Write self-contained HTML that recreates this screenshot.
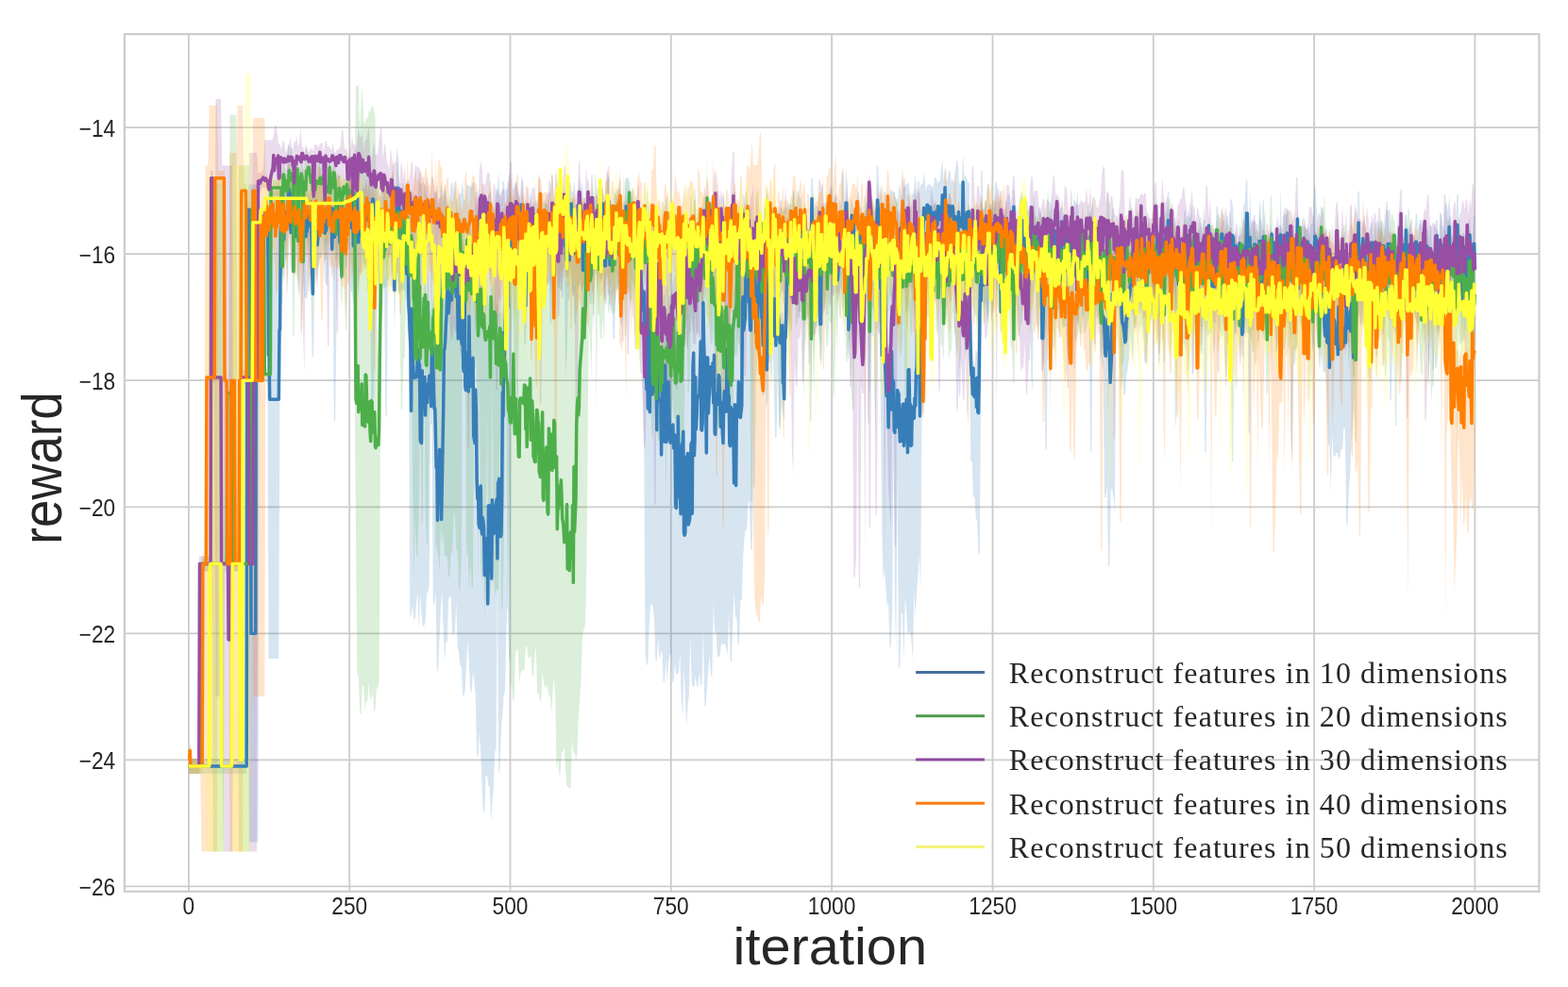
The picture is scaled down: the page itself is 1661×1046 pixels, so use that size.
<!DOCTYPE html>
<html><head><meta charset="utf-8"><title>reward vs iteration</title>
<style>html,body{margin:0;padding:0;background:#fff;overflow:hidden}svg{display:block}</style>
</head><body><svg width="1661" height="1046" viewBox="0 0 1661 1046"><defs><clipPath id="ax"><rect x="131.9" y="36.2" width="1498.5" height="908.6"/></clipPath></defs><rect x="0" y="0" width="1661" height="1046" fill="#fff"/><path d="M199.9 36.2V944.8M370.2 36.2V944.8M540.5 36.2V944.8M710.8 36.2V944.8M881.1 36.2V944.8M1051.5 36.2V944.8M1221.8 36.2V944.8M1392.1 36.2V944.8M1562.4 36.2V944.8M131.9 135.2H1630.4M131.9 269.2H1630.4M131.9 403.2H1630.4M131.9 537.3H1630.4M131.9 671.3H1630.4M131.9 805.3H1630.4M131.9 939.3H1630.4" stroke="#cccccc" stroke-width="1.8" fill="none"/><g clip-path="url(#ax)"><path d="M199.9 804l1.4 0 1.3 0 1.4 0 1.4 0 1.3 0 1.4 0 1.3 0 1.4 0 1.4 0 1.3 0 1.4 0 1.3 0 1.4 0 1.4 0 1.3 0 1.4 0 1.4 0 1.3 0 1.4 0 1.4 0 1.3 0 1.4 0 1.3 0 1.4 0 1.4 0 1.3 0 1.4 0 1.3 0 1.4 0 1.4 0 1.3 0 1.4 0 1.4 0 1.3 0 1.4 0 1.4 0 1.3 0 1.4 0 1.3 0 1.4 0 1.4 0 1.3 0 1.4 0 1.3 0 1.4-589.7 1.4 0 1.3-18.8 1.4 0 1.4 0 1.3 0 1.4 0 1.4 0 1.3 0 1.4 0 1.3 25.5 1.4 0 1.4 0 1.3 0 1.4 0 1.3 0 1.4 0 1.4-18.8 1.3 0 1.4 0 1.4 0 1.3 0 1.4 0 1.4 0 1.3 0 1.4 0 1.3 4.7 1.4-4.1 1.4 .1 1.3-11.8 1.4 0 1.3 14.5 1.4-51.5 1.4 0 1.3 26.3 1.4 18.3 1.4-2 1.3 2 1.4-12.7 1.4 0 1.3 15.6 1.4 2.5 1.3 1.8 1.4-2.8 1.4 0 1.3-13.7 1.4 2.8 1.3 12 1.4 1.6 1.4-4.3 1.3 9.2 1.4 0 1.4-14.3 1.3 0 1.4 2.9 1.4 6.8 1.3-15.1 1.4-19.6 1.3 24.7 1.4 15.2 1.4-18 1.3 7.7 1.4 4.1 1.3-4.7 1.4-30.2 1.4 0 1.3 32.3 1.4-25.5 1.4 34 1.3-21.6 1.4 0 1.4-3.4 1.3 0 1.4 18.2 1.3-2.7 1.4-2.4 1.4 24.1 1.3-18.9 1.4-17.2 1.3-21.9 1.4 5.3 1.4 28.9 1.3-9.4 1.4 0 1.4 5.2 1.3 0 1.4 .7 1.4 17.5 1.3-4.9 1.4-1.4 1.3-13.8 1.4 7 1.4-3.4 1.3-7.4 1.4 15.7 1.3-10.7 1.4 0 1.4 14.4 1.3-24.3 1.4 16.9 1.4 11.6 1.3-18.7 1.4 0 1.4 12.1 1.3 3.1 1.4-6.1 1.3-11.9 1.4 0 1.4 30.6 1.3-18.2 1.4-7.9 1.3 3.4 1.4 1.7 1.4 0 1.3-5.3 1.4 0 1.4 5.9 1.3-27 1.4-15.7 1.4 53.1 1.3 .7 1.4-18.5 1.3 0 1.4 56.9 1.4 10.1 1.3-56.3 1.4-11.2 1.3 18.3 1.4-11.5 1.4 3.1 1.3 10.1 1.4-1 1.4 0 1.3-4 1.4-18.3 1.4 4.5 1.3-1.8 1.4 21.3 1.3-18.3 1.4-3 1.4 9.4 1.3 10.6 1.4-.3 1.4 9 1.3-.5 1.4-11.1 1.3-5.5 1.4-2.2 1.4 0 1.3 14.1 1.4-4.4 1.4-18.4 1.3 5.1 1.4 7.5 1.3-10.6 1.4 8.5 1.4 6.6 1.3 4.9 1.4-8.7 1.3-13.9 1.4 0 1.4 10.2 1.3-14 1.4 18.6 1.4 23 1.3-25.9 1.4 0 1.4-1.8 1.3-13.2 1.4 21.7 1.3 0 1.4-15.9 1.4 0 1.3 1 1.4 0 1.3 1.6 1.4-5.4 1.4 0 1.3 13.2 1.4 11.6 1.4-18.8 1.3 10.3 1.4 0 1.4 22.5 1.3-27.2 1.4 0 1.3 14.1 1.4-4.9 1.4-7 1.3-2.1 1.4-3.1 1.3 14.8 1.4 5.2 1.4-3.6 1.3-19.9 1.4 3.3 1.4-20.1 1.3 24.6 1.4 7.9 1.4-21.8 1.3 0 1.4 9.5 1.3-.4 1.4-3.6 1.4-13.7 1.3 1 1.4 56.9 1.3-5.6 1.4-39 1.4-6.2 1.3 1.7 1.4 11 1.4 6.6 1.3-7.5 1.4-20.2 1.4 28.9 1.3 5.4 1.4-4 1.3 0 1.4 10 1.4-8.9 1.3-14.9 1.4 26.5 1.4-10.4 1.3 0 1.4-3.9 1.3 4.4 1.4-13.1 1.4 0 1.3 6.7 1.4 8 1.4-5.7 1.3 .8 1.4 4.2 1.3 0 1.4-25.3 1.4 0 1.3 22.8 1.4 25.1 1.3-15.6 1.4-39.8 1.4 0 1.3 29.9 1.4 17.1 1.4-37.6 1.3 10 1.4 7.4 1.4-16 1.3 37.4 1.4-10.5 1.3 29.8 1.4-57.9 1.4 0 1.3 10.4 1.4-2 1.3-9.9 1.4 20.8 1.4-12.1 1.3 0 1.4-11.1 1.4 11.7 1.3-9.8 1.4 18.1 1.4 0 1.3 42 1.4-21.7 1.3-3 1.4 6 1.4-22.3 1.3 0 1.4 3.7 1.3 8.7 1.4 3.2 1.4 0 1.3-11.2 1.4 8.7 1.4-21.4 1.3-2.6 1.4 11.5 1.4 4.2 1.3-17.4 1.4-10.8 1.3 0 1.4 68.3 1.4-31.4 1.3 0 1.4-20.3 1.3 1.6 1.4 6.9 1.4-16.3 1.3 19.3 1.4 10.1 1.4 1 1.3-14.3 1.4 3.2 1.4-26.7 1.3-.2 1.4 0 1.3 31.4 1.4-16.5 1.4-3.6 1.3 11.3 1.4 4.5 1.4-11 1.3 15.5 1.4 0 1.3-7.6 1.4 21.1 1.4 0 1.3-11.7 1.4 22.2 1.4 0 1.3 3.6 1.4-6.7 1.3-6.6 1.4 4.4 1.4 3.8 1.3-20.6 1.4 0 1.3 19.5 1.4-1.3 1.4 3.3 1.3 1.2 1.4-30.9 1.4 0 1.3 9.1 1.4-13.1 1.4 0 1.3 25.8 1.4 0 1.3-4.6 1.4 0 1.4-5.1 1.3-8.7 1.4 30.3 1.3 0 1.4-3.1 1.4 .4 1.3-19.6 1.4 0 1.4 24.3 1.3 4.9 1.4 0 1.4-12 1.3-5.3 1.4 .3 1.3 7.5 1.4 0 1.4-33.2 1.3 0 1.4 33.2 1.3-12.3 1.4-7.4 1.4 .4 1.3 0 1.4 14.3 1.4 0 1.3 8.7 1.4-.5 1.4 16.1 1.3-38.9 1.4 0 1.3 21.3 1.4-13.5 1.4 0 1.3 6.9 1.4-13.8 1.3 10.3 1.4 4.3 1.4-10.6 1.3-6 1.4-24.6 1.4 37.8 1.3-12.5 1.4-3.3 1.4 0 1.3 15.2 1.4 6 1.3 0 1.4-40.2 1.4 0 1.3 35.4 1.4 0 1.3-1.4 1.4 0 1.4-.3 1.3-13.1 1.4-4.5 1.4 21.9 1.3-16.1 1.4 0 1.4-5.9 1.3 2.3 1.4 25.9 1.3-17.2 1.4 8.9 1.4 8.1 1.3 55.3 1.4-42.7 1.3 0 1.4 21 1.4 24.9 1.3 4.3 1.4-52.1 1.4 77.3 1.3-50.9 1.4-17.6 1.4 14 1.3 18.4 1.4-19.8 1.3 0 1.4 22.5 1.4-4.8 1.3 0 1.4 29.3 1.3 8.1 1.4-2.9 1.4 0 1.3 15.3 1.4-32.9 1.4-70 1.3-22.1 1.4-6.8 1.4 1.9 1.3 0 1.4-18.3 1.3 19.3 1.4 7.2 1.4-21.9 1.3 0 1.4 7.5 1.3 0 1.4 14.6 1.4 4.8 1.3-17.9 1.4 26.4 1.4 1.3 1.3 4.5 1.4-7.1 1.4-48.5 1.3 0 1.4 25.6 1.3 .9 1.4 4.1 1.4 .6 1.3 0 1.4 28.9 1.3-31.6 1.4 0 1.4-2.3 1.3 0 1.4 10.6 1.4 7.7 1.3-14.2 1.4-24.9 1.4 28.5 1.3 0 1.4-8.8 1.3-7.1 1.4 0 1.4 20.7 1.3-16.1 1.4 7 1.3-35.1 1.4 0 1.4 36.7 1.3-41 1.4 16.3 1.4 59.2 1.3-29.9 1.4-11.8 1.4 0 1.3 13.3 1.4-2.2 1.3-2.6 1.4-17.5 1.4 0 1.3 16.1 1.4 0 1.3 14.6 1.4 3.7 1.4-18.4 1.3-5.1 1.4 0 1.4 19 1.3 8.4 1.4 25.8 1.4-39.9 1.3-5.9 1.4-1.4 1.3-44.7 1.4 0 1.4 35.3 1.3-15.1 1.4 11.1 1.3 26.3 1.4-30 1.4 0 1.3 27.9 1.4 0 1.4-16 1.3-16.6 1.4 5.1 1.4-.2 1.3 0 1.4 9.3 1.3 3 1.4-13.8 1.4-6.6 1.3 13.9 1.4-23.3 1.3 12.6 1.4-1.1 1.4-1.9 1.3-1.1 1.4 0 1.4 26.5 1.3-15.1 1.4 0 1.4-7.1 1.3-13.8 1.4 17.2 1.3 1.1 1.4 2 1.4-9.5 1.3 0 1.4-3.2 1.3-11 1.4 20.2 1.4-4.7 1.3-1.4 1.4 .1 1.4-.1 1.3 3.3 1.4-1 1.4-10 1.3 0 1.4 6.7 1.3-2.8 1.4 1.1 1.4-15.1 1.3-8.9 1.4 24 1.3-17.5 1.4 18.2 1.4-3.5 1.3-9 1.4 0 1.4 13.4 1.3-5.3 1.4 5.3 1.4-13.9 1.3-9.5 1.4-.7 1.3 23.8 1.4 1 1.4 0 1.3-31.7 1.4 23.3 1.3 0 1.4 2 1.4 5.4 1.3 0 1.4 122.1 1.4 37.3 1.3 26.3 1.4 7.8 1.4-17.9 1.3 3.8 1.4 8.1 1.3-107.8 1.4-92.9 1.4 0 1.3 54.6 1.4-7.7 1.3-6.7 1.4-25.3 1.4 0 1.3 20.2 1.4 6.2 1.4-11.3 1.3 12 1.4-29.9 1.4 0 1.3 7.7 1.4 0 1.3 32.5 1.4-11 1.4 0 1.3 13.5 1.4-22.3 1.3 0 1.4-7.2 1.4 0 1.3 15.2 1.4 15.1 1.4-35.7 1.3 0 1.4 32.9 1.4 0 1.3-3.7 1.4-17.1 1.3-4.5 1.4-6.7 1.4 17.7 1.3 6.2 1.4-13.2 1.3 0 1.4 12.1 1.4 14.2 1.3-.3 1.4 7.8 1.4-40.8 1.3 19.9 1.4 22.2 1.4-10.1 1.3-17.7 1.4 0 1.3 18.7 1.4 67.9 1.4-85.8 1.3 13.2 1.4 .1 1.3 16.1 1.4-8.8 1.4-16.9 1.3-29.9 1.4 39.1 1.4 0 1.3 1.6 1.4-7.1 1.4-15.6 1.3 13.2 1.4-5.3 1.3 0 1.4 18.5 1.4 19.1 1.3-26.3 1.4 0 1.4 10.1 1.3 11.6 1.4-16.6 1.3-3.8 1.4-21.3 1.4 0 1.3 4.9 1.4-15.9 1.4 32.4 1.3 9.5 1.4 0 1.3 9.5 1.4 .4 1.4-22.5 1.3 30.7 1.4-44 1.3 9.5 1.4 0 1.4-7.6 1.3-9.8 1.4 41.3 1.4-8.7 1.3 25.4 1.4-18.2 1.4 24.7 1.3 12.1 1.4 24.6 1.3 8.2 1.4 0 1.4 18.6 1.3-32.6 1.4 0 1.3 48.4 1.4 2.5 1.4-60.2 1.3-11.5 1.4 0 1.4-32.9 1.3 0 1.4 3.4 1.4-1.9 1.3 33.1 1.4 28.7 1.3-.7 1.4 21.7 1.4-14.3 1.3-18.7 1.4-3.3 1.3-34.3 1.4 0 1.4-17.5 1.3-2.9 1.4-7.4 1.4-11.4 1.3 7.8 1.4 10.7 1.4 8.7 1.3 0 1.4-2.3 1.3-11.8 1.4 6 1.4 16.9 1.3-30.1 1.4 0 1.3 10.2 1.4 23.1 1.4-35.5 1.3 0 1.4 1.7 1.4 0 1.3 18.9 1.4 4.2 1.4 0 1.3 .8 1.4-31.2 1.3 19.5 1.4 6.1 1.4-45 1.3 0 1.4 42.6 1.4 7 1.3-26 1.4-7.3 1.3 26.1 1.4 18.7 1.4-18.3 1.3 37.9 1.4-22 1.4 5.6 1.3-7.2 1.4-37.5 1.3 0 1.4 29.3 1.4-31.2 1.3 9.1 1.4 0 1.3-13.7 1.4 29.2 1.4 0 1.3 9 1.4 17 1.4-27.3 1.3 0 1.4-9.8 1.4 10.3 1.3 2.8 1.4 0 1.3 17.5 1.4 17 1.4-53 1.3 52.3 1.4 8.7 1.3-54.5 1.4 5.4 1.4 28.2 1.3-50.2 1.4 0 1.4 23.8 1.3 0 1.4-21.6 1.4 5.5 1.3 0 1.4 18.7 1.3-17.1 1.4 0 1.4 28.2 1.3-45.4 1.4 0 1.4 11 1.3 29.5 1.4-8.3 1.3 13.7 1.4 2.7 1.4-20.7 1.3 3.1 1.4 75.4 1.4-100.3 1.3 0 1.4-26.6 1.3 0 1.4 61.2 1.4-51.1 1.3 31 1.4 7.7 1.4-11.5 1.3 0 1.4 23.3 1.3 1.8 1.4-24.6 1.4-17.7 1.3 45.1 1.4-43.4 1.4 0 1.3 51 1.4-11.7 1.3-3.5 1.4 7.4 1.4-5.1 1.3-14.1 1.4 30.9 1.4-21.4 1.3 31.9 1.4-34.6 1.3-14.6 1.4 19 1.4-47.8 1.3 61 1.4-33 1.4 0 1.3-1.4 1.4 0 1.3 39.1 1.4-11.4 1.4 2.4 1.3-17.5 1.4 0 1.3 23.6 1.4-6 1.4-40.1 1.3 30.9 1.4 2.5 1.4 .3 1.3-12.2 1.4 2.2 1.4-1 1.3 5.3 1.4-6.7 1.3 11.4 1.4-9.7 1.4-2.7 1.3 0 1.4-39.8 1.3 0 1.4 24.8 1.4 18.7 1.3 13.4 1.4 32 1.4-20.7 1.3 32 1.4 5.8 1.4-2 1.3 .9 1.4-21.5 1.3 0 1.4 19.8 1.4 .5 1.3 23.4 1.4-10.7 1.4 30.4 1.3-17.5 1.4-24.8 1.3 28.6 1.4-24.6 1.4-4.6 1.3 15.5 1.4-3.8 1.4-12.8 1.3 22.4 1.4 1 1.3-3 1.4-19.1 1.4 16.7 1.3-10.9 1.4-18.6 1.4-22.4 1.3-63.2 1.4 0 1.3 43.8 1.4 12.8 1.4-26.6 1.3 2.7 1.4 7 1.4 17.4 1.3 8.2 1.4-17.9 1.3-14.5 1.4 0 1.4 25.7 1.3 0 1.4-24.2 1.4-3 1.3 0 1.4 19.3 1.3-19.4 1.4 0 1.4 4.6 1.3 4.9 1.4-21.4 1.4 1.1 1.3 0 1.4-1.1 1.3 40.8 1.4-14.2 1.4-1.5 1.3 6 1.4 1 1.3-16 1.4 0 1.4 7.5 1.3 .4 1.4-5.2 1.4-.1 1.3-13.1 1.4 0 1.4 21.7 1.3-5.2 1.4-11 1.3 12.7 1.4 15 1.4-9.1 1.3-25.9 1.4 1.3 1.3 17.9 1.4-12.4 1.4 0 1.3 .3 1.4 17.6 1.4 20.2 1.3-25.4 1.4-4.9 1.4 12.6 1.3-13.5 1.4 0 1.3 32.9 1.4-34.8 1.4 0 1.3-4.8 1.4 0 1.4 23.9 1.3-30.9 1.4 0 1.3 14.4 1.4 0 1.4-26 1.3 0 1.4 9.2 1.4-15.5 1.3 18.6 1.4 23.8 1.3 3.1 1.4 2.5 1.4-10.2 1.3-39.6 1.4 0 1.4 65.2 1.3-16.6 1.4-8.5 1.3 0 1.4 2 1.4 6.5 1.3-19 1.4 0 1.4-6.5 1.3 21.1 1.4 2.3 1.3-24.7 1.4 0 0 115.5-1.4 54.9-1.3-33.9-1.4-9.1-1.3-39.3-1.4 4.5-1.4 54.7-1.3 9.1-1.4-54.7-1.4-4.5-1.3 35.2-1.4 4.3-1.3 0-1.4-19.4-1.4-13-1.3 0-1.4-1.4-1.4 13.2-1.3 0-1.4-37-1.3 40.8-1.4 0-1.4-28.8-1.3-15.3-1.4-7-1.4 6-1.3 0-1.4 3.8-1.3 36.4-1.4 35.8-1.4 11.3-1.3 0-1.4-84.5-1.4 23-1.3 44-1.4-17.7-1.3 30.9-1.4-59.1-1.4-5.4-1.3 28.8-1.4-4.1-1.4 15.2-1.3-57.1-1.4 23.9-1.4 26.6-1.3-30.8-1.4-7.5-1.3 16-1.4 .3-1.4-24-1.3-6-1.4 20.4-1.3 50-1.4 0-1.4-69.2-1.3 24.6-1.4 7.3-1.4-9.1-1.3 0-1.4-17.7-1.4 39.3-1.3 0-1.4-7.6-1.3 6.5-1.4 0-1.4 77-1.3 0-1.4-91.1-1.3-14.5-1.4 15.4-1.4 0-1.3 20.1-1.4 0-1.4-25.3-1.3 0-1.4 30.5-1.3 18.5-1.4 0-1.4-46.9-1.3 14.8-1.4 0-1.4-12.6-1.3 5.2-1.4-4.5-1.3 0-1.4 27.2-1.4-54-1.3-6-1.4 41.5-1.4 4.6-1.3-15.6-1.4 5.1-1.3 0-1.4 21.2-1.4 67.1-1.3 20-1.4 25.5-1.4 31.3-1.3 16.8-1.4 37.7-1.3 0-1.4-101.5-1.4-1.3-1.3 22.7-1.4 0-1.4 9.7-1.3 0-1.4-5.9-1.3 0-1.4 4.2-1.4 0-1.3-25.9-1.4 66.8-1.4-53.5-1.3 0-1.4-40.4-1.3-36.4-1.4-.1-1.4 0-1.3-20.2-1.4 19.9-1.4-71.9-1.3-16.9-1.4 0-1.4 13.9-1.3 43.5-1.4 8.4-1.3-22.7-1.4-9.4-1.4 33.1-1.3 0-1.4-49.8-1.3 7.7-1.4 0-1.4 20.1-1.3 0-1.4-11.9-1.4-10.6-1.3 0-1.4 41.4-1.4 16.8-1.3 0-1.4 101-1.3-18.5-1.4-117-1.4-9.4-1.3-22.2-1.4 10.5-1.3 5-1.4-13-1.4 33.6-1.3-14.6-1.4 8.6-1.4-.4-1.3 23.9-1.4 0-1.3-32.8-1.4-2.9-1.4 0-1.3-30.2-1.4 11.6-1.4 4.7-1.3 6.7-1.4 30.9-1.3-42.6-1.4 43.9-1.4-20.4-1.3-18.8-1.4-2.9-1.4 20.6-1.3-24.1-1.4-17.4-1.3 73.1-1.4 0-1.4-19.5-1.3 105.4-1.4 0-1.4-160.7-1.3 42.9-1.4-26.1-1.3 63.3-1.4 0-1.4-21.1-1.3-8.9-1.4-8.4-1.4-13.2-1.3 26.4-1.4 0-1.3-31.8-1.4-24.7-1.4 1.5-1.3 35-1.4-34.1-1.4-3.2-1.3 21.1-1.4 0-1.3-3.5-1.4 4.1-1.4 12.4-1.3-1.5-1.4-6-1.4-1.7-1.3 42-1.4 14.4-1.4-33.9-1.3 2.1-1.4 0-1.3-9.9-1.4-5-1.4 148.7-1.3 0-1.4-142.2-1.3 37.6-1.4 0-1.4-4.6-1.3-42.5-1.4 51.9-1.4-5.6-1.3-37.1-1.4-8.4-1.4-5.7-1.3 0-1.4 27.5-1.3 0-1.4-9.4-1.4 30.6-1.3-7.1-1.4 0-1.3-36.4-1.4-8.4-1.4 5.1-1.3 13.3-1.4 98.1-1.4 19.6-1.3-156.9-1.4 36.9-1.3-19.8-1.4-8.3-1.4 9.3-1.3 0-1.4-11.8-1.4 31.7-1.3 0-1.4-17.8-1.3 14.3-1.4 51.8-1.4 0-1.3-74.8-1.4 8.9-1.4 19.5-1.3-18.8-1.4 15.5-1.4 6.5-1.3 3.2-1.4 5.4-1.3 35.3-1.4 0-1.4-3-1.3-44.4-1.4-16.4-1.3 10-1.4 0-1.4-24-1.3 40.6-1.4 0-1.4-.1-1.3 40.6-1.4-22-1.4-11.6-1.3 24.8-1.4 11.9-1.3 5.5-1.4 21.7-1.4 0-1.3-21.1-1.4 14.4-1.3-7.9-1.4-78-1.4 1.6-1.3 20.4-1.4 195.6-1.4-16.9-1.3-8.7-1.4 0-1.4 82.2-1.3 0-1.4-86.6-1.3 12.9-1.4 0-1.4-134-1.3-6.3-1.4-18-1.3-40.5-1.4-16.5-1.4-1.3-1.3 54.4-1.4 0-1.4-54.1-1.3 167.6-1.4 0-1.4-150.1-1.3 0-1.4-11.7-1.3-5.4-1.4 24.7-1.4 0-1.3-13.5-1.4-13.9-1.3 35.6-1.4 0-1.4-35.7-1.3-16-1.4-12.5-1.4 37.3-1.3 18.7-1.4 13.3-1.3 10-1.4 14.6-1.4-27.6-1.3 .6-1.4 0-1.4-6.7-1.3-20.9-1.4 6.3-1.3 2.9-1.4 0-1.4 25.9-1.3 15.5-1.4 0-1.4-12.5-1.3-38.1-1.4 33.4-1.4 0-1.3 123.9-1.4 0-1.3-98.6-1.4 15.1-1.4 0-1.3-55.7-1.4 17.8-1.3-10.4-1.4 0-1.4-46.1-1.3 15.5-1.4 101.3-1.4-15.8-1.3-92.5-1.4 15.9-1.4-22.9-1.3 37.8-1.4-16-1.3 0-1.4-15.7-1.4 20.2-1.3-28.6-1.4-13-1.3 22.3-1.4 29.3-1.4 0-1.3-10-1.4 25-1.4-62-1.3 1.4-1.4 0-1.4-6.6-1.3 15.7-1.4 12.4-1.3-25.1-1.4 65.1-1.4 0-1.3-75.1-1.4 32.8-1.3-4.5-1.4-12.4-1.4 .3-1.3-6.6-1.4 34.6-1.4-19.2-1.3 29.6-1.4 6.6-1.4-18.8-1.3 3.5-1.4 4.3-1.3-27-1.4 106.6-1.4 180.2-1.3 1.4-1.4-36.6-1.3-1.9-1.4-23.1-1.4 0-1.3-37.8-1.4 0-1.4-132.7-1.3-90-1.4 60.2-1.4-16.8-1.3-18.8-1.4-8.2-1.3 21.2-1.4 115.3-1.4 0-1.3-118.2-1.4 1.4-1.3-14.2-1.4-35.3-1.4-.8-1.3 18.3-1.4 0-1.4 39.6-1.3-52.9-1.4 2.6-1.4 10.2-1.3 35.6-1.4-5-1.3-24.1-1.4 6-1.4 10.6-1.3-5.5-1.4 0-1.3 7.2-1.4 4.9-1.4-36-1.3 0-1.4 14.8-1.4 15.7-1.3 3.9-1.4 6.3-1.4-39.2-1.3 173.2-1.4 0-1.3 186.7-1.4-37.2-1.4 24-1.3 14.5-1.4 28.1-1.3-30.6-1.4 76.2-1.4-18.6-1.3-12.2-1.4 1-1.4 .4-1.3-21.6-1.4-15.8-1.4 68.5-1.3-52.3-1.4 1.2-1.3 56.6-1.4 0-1.4-203.3-1.3 191.2-1.4-62.2-1.3-158-1.4 170.7-1.4 40.5-1.3 0-1.4-45.5-1.4 0-1.3-15.6-1.4-22.6-1.4 12.9-1.3-51.6-1.4-133.1-1.3-88.8-1.4-22-1.4-52.7-1.3 29.5-1.4 7.8-1.3 51.8-1.4 0-1.4-44.2-1.3 136.4-1.4 0-1.4-149.8-1.3 26.5-1.4-9-1.4 0-1.3-8.9-1.4-1.8-1.3 0-1.4 23.2-1.4-29.2-1.3 22.5-1.4-14.4-1.3-10.4-1.4 17.5-1.4 45.5-1.3 23.5-1.4-16.5-1.4-85.2-1.3 17.1-1.4-21.4-1.4-.3-1.3 59.7-1.4 0-1.3-19.5-1.4 55.8-1.4-67.2-1.3-28.1-1.4 21.4-1.3 41.3-1.4-49.8-1.4 2.5-1.3 39.7-1.4 0-1.4-20.7-1.3 15.8-1.4-22.5-1.4 74.7-1.3 0-1.4-26.6-1.3-46.3-1.4 36.6-1.4 0-1.3 30.4-1.4-63-1.3 134.8-1.4 0-1.4-109.4-1.3 0-1.4-18.1-1.4-39.9-1.3 28-1.4 5.6-1.4-21.1-1.3 45.7-1.4 0-1.3-35.4-1.4-25.6-1.4 11.3-1.3 29-1.4 0-1.3 2.1-1.4 0-1.4-18.5-1.3 71.3-1.4 21.3-1.4 53.7-1.3-6.9-1.4-10.7-1.4 24.3-1.3 0-1.4-64-1.3 74.9-1.4 0-1.4-54.2-1.3-38.1-1.4 42-1.3-30.7-1.4 0-1.4 42.7-1.3 7.9-1.4-31.9-1.4 17.6-1.3 0-1.4-53.5-1.4-3.7-1.3 4.8-1.4 17.1-1.3 17.4-1.4 114.5-1.4 0-1.3 67.2-1.4 0-1.3-51.1-1.4 .9-1.4 28.2-1.3 0-1.4 10.1-1.4 20.8-1.3 43.8-1.4 0-1.4 46.5-1.3 0-1.4-27.8-1.3 0-1.4-27.8-1.4 35.9-1.3 38.8-1.4 0-1.3-53.2-1.4 46.5-1.4-7.5-1.3-4.2-1.4 0-1.4-.2-1.3 0-1.4 12.3-1.4 1-1.3 0-1.4-27.7-1.3 4.2-1.4-35.2-1.4 79.3-1.3 0-1.4-21.4-1.3 14.9-1.4 17.6-1.4 20.6-1.3 0-1.4-83.1-1.4 60.7-1.3 0-1.4-13.6-1.4 15.3-1.3 0-1.4-11.1-1.3 11.4-1.4 0-1.4-5.3-1.3-48.1-1.4 61-1.3 12.1-1.4 22.1-1.4-29.5-1.3-34.7-1.4 55.7-1.4-18.6-1.3-51.3-1.4 22.2-1.4 0-1.3 1.9-1.4-12.4-1.3 19.6-1.4 0-1.4-29.6-1.3 0-1.4 9.9-1.3 19.6-1.4-23.1-1.4 23.4-1.3 0-1.4-34.4-1.4 4.3-1.3 6.8-1.4-23.9-1.4 24.8-1.3 0-1.4-41.7-1.3-15.1-1.4-3.5-1.4 1-1.3 21.2-1.4 42.3-1.3 0-1.4-9.9-1.4-219.4-1.3-70.6-1.4-57-1.4-39.7-1.3-11-1.4 17-1.3 0-1.4-17.8-1.4 29.6-1.3-19.8-1.4 12.3-1.4 1.9-1.3-9.8-1.4 0-1.3-22-1.4 20.9-1.4 0-1.3 35.1-1.4 0-1.4-22-1.3 0-1.4-37.2-1.4 30.8-1.3 43.2-1.4 0-1.3-48.7-1.4 12.8-1.4-.3-1.3-37.5-1.4 37.6-1.3 0-1.4-23.4-1.4-25.5-1.3 21.6-1.4-.1-1.4 38.8-1.3 0-1.4-48.4-1.4 4.9-1.3 64-1.4-51.4-1.3 18.4-1.4 0-1.4-9.7-1.3-21.9-1.4 28.1-1.3 0-1.4 41.2-1.4 0-1.3-65.8-1.4 8.5-1.4 0-1.3-1.1-1.4 41.6-1.4 0-1.3-35-1.4 0-1.3-30.1-1.4 40.3-1.4 0-1.3 58.2-1.4 21.3-1.3-114.8-1.4 3.1-1.4 22.4-1.3 0-1.4-4.1-1.4 0-1.3-24.5-1.4 44.3-1.4 16.6-1.3-26.8-1.4 28.9-1.3 0-1.4-78.8-1.4 18.3-1.3 .3-1.4 34.9-1.3-34.8-1.4 11.6-1.4 8-1.3 0-1.4-.8-1.4-18.6-1.3 5-1.4-11.6-1.3 12.6-1.4 5.4-1.4 2-1.3 1.9-1.4 5-1.4 0-1.3 62.5-1.4 0-1.3-60.7-1.4 0-1.4-10.2-1.3 24.8-1.4 102.6-1.4 0-1.3-49.4-1.4 4.3-1.4-70.8-1.3 50.1-1.4 344.5-1.3 0-1.4-61.1-1.4 24.7-1.3 67.1-1.4 5.7-1.3 20-1.4 15-1.4 40.7-1.3 9.1-1.4-194.9-1.4 168.8-1.3 0-1.4 38.8-1.4 17.4-1.3 18.3-1.4-37.3-1.3 0-1.4-10.8-1.4 0-1.3 38.5-1.4 0-1.3-25.2-1.4-38-1.4-21.2-1.3 25-1.4 0-1.4-63.8-1.3-16.1-1.4-9.4-1.4 21.5-1.3 0-1.4-27.6-1.3-27.5-1.4 22.3-1.4 30.1-1.3 6.4-1.4 0-1.3-30.3-1.4-1.6-1.4-15.4-1.3-2.4-1.4-49.1-1.4 31.8-1.3 0-1.4 2.4-1.4-40.3-1.3 0-1.4 1.1-1.3 47.2-1.4 0-1.4 20-1.3-30.4-1.4-44.6-1.3 16.2-1.4 34-1.4 35-1.3 0-1.4-83.1-1.4 12.4-1.3 0-1.4-190.1-1.3 0-1.4 169.2-1.4 8.9-1.3 .1-1.4 30.4-1.4 5.1-1.3 0-1.4-11.9-1.3-22.2-1.4 36.7-1.4-38.2-1.3 11-1.4 17.2-1.4 0-1.3-14.9-1.4 11.1-1.4-.3-1.3-301.3-1.4-44.5-1.3 14.6-1.4-11.9-1.4-2.7-1.3 .9-1.4 0-1.3 3.5-1.4 0-1.4-23.3-1.3 13.2-1.4 50.1-1.4-71.3-1.3 14.2-1.4-20.8-1.4-4.5-1.3 10.2-1.4 162.8-1.3 0-1.4-141.2-1.4 24.8-1.3 7.9-1.4 77.8-1.3-112.9-1.4-11.4-1.4 29.9-1.3-34.2-1.4 136.3-1.4 8.9-1.3 0-1.4-131.5-1.4 12-1.3 0-1.4-28.5-1.3 0-1.4 2.4-1.4-15.5-1.3 21.8-1.4 0-1.3 26.5-1.4-15.7-1.4-20.3-1.3-18.5-1.4 64-1.4-14.2-1.3 0-1.4-47.9-1.4 4.7-1.3 16.2-1.4 0-1.3 13.9-1.4-6.4-1.4 6.3-1.3 0-1.4-17.8-1.3-18.4-1.4 66.9-1.4 118.6-1.3 0-1.4-157.7-1.4 6.3-1.3-27.5-1.4-12.8-1.4 47.7-1.3 0-1.4-2.8-1.3-29-1.4-5.7-1.4 8.8-1.3 0-1.4 8.8-1.3 9.4-1.4 13.7-1.4-30.4-1.3 103.1-1.4 0-1.4-70.8-1.3-33.5-1.4 33.8-1.4 10.2-1.3-2.1-1.4 0-1.3-18.2-1.4 69.4-1.4-83.5-1.3 35.6-1.4-20.2-1.3-31.3-1.4 22.3-1.4 2.7-1.3-12.2-1.4 10.1-1.4-6-1.3-47.1-1.4 77.8-1.4-40.2-1.3 6.1-1.4 20.8-1.3-10.8-1.4 3.2-1.4 63.7-1.3 340.4-1.4 0-1.3 0-1.4 0-1.4 0-1.3 0-1.4 0-1.4 0-1.3 0-1.4-461-1.4 0-1.3 0-1.4 0-1.3 0-1.4 0-1.4 0-1.3 655.3-1.4 0-1.3 0-1.4 0-1.4 0-1.3 0-1.4 0-1.4 0-1.3-662-1.4 589.6-1.4 0-1.3 0-1.4 0-1.3 0-1.4 0-1.4 0-1.3 0-1.4 0-1.3 0-1.4 0-1.4 0-1.3 0-1.4 0-1.4 0-1.3 0-1.4 0-1.4 0-1.3 0-1.4 0-1.3 0-1.4 0-1.4 0-1.3 0-1.4 0-1.3 0-1.4 0-1.4 0-1.3 0-1.4 0-1.4 0-1.3 0-1.4 0-1.4 0-1.3 0-1.4 0-1.3 0-1.4 0-1.4 0-1.3 0-1.4 0-1.3 0-1.4 0-1.4 0-1.3 0-1.4 0z" fill="#377eb8" fill-opacity="0.2"/><path d="M199.9 804l1.4 0 1.3 0 1.4 0 1.4 0 1.3 0 1.4 0 1.3 0 1.4 0 1.4 0 1.3-214.5 1.4 0 1.3 0 1.4 0 1.4 0 1.3 0 1.4 0 1.4 0 1.3 0 1.4-394 1.4 0 1.3 0 1.4 0 1.3 0 1.4 0 1.4 0 1.3 0 1.4 0 1.3 394 1.4 0 1.4-180.9 1.3 0 1.4-286.8 1.4 0 1.3 0 1.4 0 1.4 0 1.3 0 1.4 467.7 1.3-414.1 1.4 0 1.4 0 1.3 0 1.4 0 1.3 0 1.4 0 1.4 0 1.3 0 1.4 199.7 1.4-160.8 1.3 0 1.4 13.4 1.4 0 1.3 0 1.4 0 1.3 0 1.4 0 1.4 0 1.3 0 1.4 0 1.3 160.8 1.4 0 1.4 0 1.3 0 1.4-197.7 1.4 0 1.3 0 1.4 0 1.4 0 1.3 0 1.4-16.5 1.3 1.2 1.4 6.1 1.4-7.7 1.3-7.1 1.4 13.9 1.3 4 1.4 2.8 1.4-16.8 1.3-14.6 1.4 0 1.4 18.1 1.3 .2 1.4-7.1 1.4-.2 1.3 0 1.4 12.9 1.3-2.8 1.4-8.3 1.4 9.8 1.3 .5 1.4-21.5 1.3 0 1.4 7.8 1.4 5.3 1.3 7.5 1.4 0 1.4 4.9 1.3 3 1.4-3.6 1.4-18 1.3 0 1.4 11.1 1.3 3.3 1.4-11.2 1.4 0 1.3 15.7 1.4 3.8 1.3 5.3 1.4-20 1.4 0 1.3 8.3 1.4-4.3 1.4-8.7 1.3 2.1 1.4 23.1 1.4-4.8 1.3-2.4 1.4 0 1.3 6.8 1.4-4.1 1.4 0 1.3 2.5 1.4 .1 1.3-.9 1.4 0 1.4 6.3 1.3 0 1.4-13.7 1.4-6.9 1.3-83.4 1.4-2.4 1.4 0 1.3 48 1.4-29.3 1.3-17.8 1.4 36.1 1.4 4.7 1.3-6.4 1.4 0 1.3-7.5 1.4 0 1.4-4.1 1.3-2 1.4 3.8 1.4 9.5 1.3 109.2 1.4 193.1 1.4-72.6 1.3-100.3 1.4-16 1.3 0 1.4-43.4 1.4 0 1.3 9.9 1.4 11.4 1.3 13.3 1.4-1 1.4-45.8 1.3 0 1.4 19.5 1.4 3.9 1.3-.6 1.4 10.4 1.4-16.1 1.3 0 1.4 2.7 1.3 13.1 1.4 31.2 1.4-34.9 1.3-1.9 1.4 48.9 1.3-8.3 1.4-23.7 1.4 0 1.3 32 1.4 34.5 1.4-19.1 1.3-51.9 1.4 0 1.4 62.4 1.3 36.7 1.4-3.1 1.3-15.1 1.4-32.5 1.4 76.5 1.3-59 1.4 45.2 1.4-5.5 1.3 0 1.4-10 1.3-10.7 1.4 0 1.4 3.5 1.3 0 1.4-15.4 1.4 3.8 1.3-10.4 1.4-48.9 1.3-43.7 1.4 21.6 1.4 45 1.3-43.2 1.4 0 1.3 10.9 1.4 0 1.4 29.2 1.3 0 1.4-49.5 1.4 0 1.3 19.1 1.4-6.9 1.4 12.6 1.3-2.1 1.4 10.6 1.3 35.8 1.4-42.4 1.4 0 1.3-15.3 1.4 0 1.3 34.6 1.4-18.1 1.4 12.4 1.3 1.3 1.4 41.6 1.4 4.2 1.3 1.9 1.4-12.7 1.4 0 1.3 22 1.4-5.5 1.3 0 1.4 7.5 1.4 7.6 1.3 14.7 1.4-26.9 1.3 .3 1.4-9.1 1.4 0 1.3 25.8 1.4 0 1.4 7.9 1.3 0 1.4 .8 1.4-2.7 1.3 13.6 1.4 9.3 1.3 19.6 1.4 6.4 1.4 40.8 1.3-213.8 1.4 0 1.3 20.5 1.4 0 1.4 17 1.3-1.4 1.4 10.5 1.4-23.8 1.3-6.3 1.4-6.6 1.4 22.4 1.3 4.8 1.4-3.7 1.3 .5 1.4-17.5 1.4 0 1.3-2 1.4-2 1.4 26.7 1.3-23.3 1.4 20.5 1.3-3.1 1.4-3.4 1.4-4.3 1.3 0 1.4 12.6 1.4-11.4 1.3-16.1 1.4-1.5 1.3 16.4 1.4 8.4 1.4-7.1 1.3 1.2 1.4-10.1 1.3 0 1.4-8.5 1.4-9.2 1.3 18.1 1.4-10.9 1.4 4.2 1.3 4.1 1.4-6.8 1.4 16.8 1.3 10.7 1.4-14.7 1.3 4.5 1.4 2.7 1.4 7.1 1.3-27.4 1.4 0 1.3 25.2 1.4-24.4 1.4 9.7 1.3-11.3 1.4 0 1.4 24.4 1.3 0 1.4 1.7 1.4-16.9 1.3 0 1.4 12.6 1.3 24.3 1.4 0 1.4-55.5 1.3-9.6 1.4 21.2 1.3-34.3 1.4 17.4 1.4 .2 1.3 0 1.4-3.9 1.4 48.3 1.3-13.5 1.4 0 1.4-9 1.3 3.9 1.4-49.8 1.3 46.8 1.4 0 1.4 .4 1.3-.3 1.4-13.5 1.3-10.2 1.4 9.5 1.4 3.4 1.3-11.7 1.4 16.7 1.4-1.2 1.3 17.6 1.4-42.7 1.4 0 1.3 21.8 1.4-19.7 1.3 0 1.4 40.5 1.4-5.2 1.3-2.7 1.4-3 1.4 4.9 1.3 0 1.4-8.1 1.3 3.1 1.4 0 1.4 8.7 1.3 0 1.4 .7 1.4-28.3 1.3 0 1.4 22.8 1.3 34.1 1.4-8.7 1.4 95.2 1.3-36.5 1.4 25.6 1.3-14.9 1.4 16.4 1.4 26.6 1.3-12.4 1.4-.4 1.4-6.7 1.3 8.8 1.4-13.1 1.4-6.4 1.3-27.9 1.4 20.3 1.3 4.6 1.4-9.3 1.4 2.7 1.3 45.2 1.4-5 1.3-37.8 1.4 0 1.4 7.8 1.3 37.5 1.4-20.4 1.4-77.3 1.3-49.5 1.4 20.2 1.4 20.1 1.3-2.9 1.4-52.3 1.3 0 1.4 47.3 1.4-55.7 1.3 0 1.4 43.3 1.3-26.1 1.4 11.5 1.4-.1 1.3-3.7 1.4 10.5 1.4 3.3 1.3-3.4 1.4-71.1 1.4 103.7 1.3-68.3 1.4 20.8 1.3 50 1.4 3.9 1.4 8.7 1.3 15.7 1.4 13.5 1.3-31.5 1.4 0 1.4 32.4 1.3 15.3 1.4 27.2 1.4-47.1 1.3 0 1.4 25.3 1.4-7.5 1.3 0 1.4 28.8 1.3-27.9 1.4-25 1.4 1.4 1.3-50.5 1.4-11.5 1.3-22.2 1.4 0 1.4 33.4 1.3-47.3 1.4 0 1.4 22.5 1.3-3.2 1.4 42.6 1.4-23.2 1.3 0 1.4 12 1.3-5.6 1.4-12.1 1.4 0 1.3-36.2 1.4 0 1.3 43.3 1.4-22 1.4 57.3 1.3-73.5 1.4 19.4 1.4-33.7 1.3 35.5 1.4 11.6 1.4-3.8 1.3 0 1.4 5.2 1.3-37.1 1.4 40.2 1.4-22.8 1.3 0 1.4 23.3 1.3-24.8 1.4 0 1.4 4.5 1.3-3.6 1.4 0 1.4-2.6 1.3-8.8 1.4 56.9 1.4-17.9 1.3-15.2 1.4-32.5 1.3 2.6 1.4 22.2 1.4 8.1 1.3 0 1.4 4.1 1.3 20.6 1.4-26.5 1.4 0 1.3-7.9 1.4 0 1.4 20.7 1.3-2.9 1.4 0 1.4 16.9 1.3-37.1 1.4 5.4 1.3 16.4 1.4 15.4 1.4-23.8 1.3-26 1.4 44.8 1.3-23.9 1.4 0 1.4 15 1.3 8.1 1.4-1.8 1.4-26.2 1.3 0 1.4-.5 1.4 37.6 1.3-21.9 1.4 12.6 1.3-23.1 1.4 0 1.4 15.5 1.3-12.8 1.4 0 1.3-.8 1.4-.5 1.4 0 1.3 6.9 1.4 4.3 1.4 0 1.3 12.1 1.4-6.6 1.4 55.8 1.3-75 1.4 13.7 1.3-4.6 1.4 5.3 1.4 1.4 1.3 0 1.4-10.6 1.3 0 1.4-25.9 1.4 0 1.3 38.3 1.4-16 1.4-30.2 1.3 45.7 1.4-33.5 1.4 0 1.3 13 1.4 0 1.3 9.8 1.4 15 1.4 0 1.3-4.9 1.4-8.4 1.3 1.6 1.4-4.7 1.4-.3 1.3 8.8 1.4 1.4 1.4 0 1.3 .6 1.4 0 1.4 11.7 1.3-23.4 1.4-22.2 1.3 0 1.4 50.4 1.4-10.2 1.3-37.4 1.4 0 1.3 9.8 1.4 0 1.4 7.3 1.3 23.6 1.4-15.4 1.4 10.4 1.3-10.2 1.4-3.2 1.4-1.5 1.3-.6 1.4 0 1.3 12.8 1.4 17.1 1.4 1.8 1.3-8.7 1.4-3.4 1.3-2.2 1.4-1.5 1.4 3 1.3-37.5 1.4 24.3 1.4 .1 1.3-20.4 1.4-2 1.4-1.3 1.3 .4 1.4 17 1.3 36.3 1.4-38.6 1.4 3.1 1.3 0 1.4 27.1 1.3-34.7 1.4 26.7 1.4-21.5 1.3 0 1.4 4.1 1.4-4.3 1.3-6.1 1.4 41.2 1.4-20.1 1.3 0 1.4 1.2 1.3 15.9 1.4-36 1.4 30.9 1.3 6 1.4-7.1 1.3-17.5 1.4 8.4 1.4 25.6 1.3-42.7 1.4-7.1 1.4 9.8 1.3-15.3 1.4 0 1.4 24 1.3 11.8 1.4-6.9 1.3 8.4 1.4-41.9 1.4 0 1.3 21.3 1.4-22.9 1.3 0 1.4 49.4 1.4-34.4 1.3 0 1.4 18.1 1.4-6.4 1.3-19.4 1.4 0 1.4-8.1 1.3 37.4 1.4-25.9 1.3-12 1.4 0 1.4 59.3 1.3-35.4 1.4-10.2 1.3 12.1 1.4 21.2 1.4 4 1.3 1.2 1.4-27 1.4 0 1.3-13.9 1.4 7.5 1.4 0 1.3 21.7 1.4 13.5 1.3-14.2 1.4 2.4 1.4-14 1.3 0 1.4 33.2 1.3-50.2 1.4 0 1.4 8.7 1.3 31.7 1.4-2.4 1.4-45.6 1.3 13.5 1.4 0 1.4 1.8 1.3 9.1 1.4-20.2 1.3 8.9 1.4 13.5 1.4 2.6 1.3 7.2 1.4-22.3 1.3-31.1 1.4 26.1 1.4 0 1.3 27.7 1.4-2.9 1.4-.5 1.3-2.2 1.4-12 1.4-5.3 1.3 13.3 1.4 3.6 1.3-6.6 1.4-13.7 1.4 11 1.3 0 1.4 .2 1.4-6.4 1.3 13.2 1.4 12.8 1.3-15.9 1.4 0 1.4-6.4 1.3 18.1 1.4-14.2 1.4 0 1.3 2.4 1.4-4.3 1.3-19.3 1.4 22.2 1.4-7.4 1.3 0 1.4 31.4 1.3-34.4 1.4 0 1.4 9.8 1.3-.7 1.4 0 1.4 8.7 1.3-15.1 1.4 9.3 1.4 3.5 1.3 0 1.4 17.3 1.3-3.6 1.4-3.2 1.4 3.2 1.3-51.6 1.4-1.2 1.3 20.7 1.4 27.4 1.4-31.8 1.3 0 1.4 28.6 1.4 10.7 1.3-12.5 1.4 1 1.4 0 1.3 29.4 1.4 2.9 1.3-24.1 1.4-.3 1.4-29.6 1.3 0 1.4 32.6 1.3-23 1.4 2.4 1.4-18.2 1.3 22.7 1.4 15.6 1.4-7.8 1.3-27.4 1.4 0 1.4 37 1.3 3.5 1.4-30.5 1.3 0 1.4 25.6 1.4-4.5 1.3-4.9 1.4 0 1.3 4 1.4-14.9 1.4-1.1 1.3-1.8 1.4 3.1 1.4 5 1.3-2.2 1.4-11.8 1.4 0 1.3 .9 1.4 0 1.3-2.7 1.4-9.2 1.4 13.6 1.3-22.4 1.4 0 1.4 61.9 1.3-15.9 1.4-21.2 1.3 0 1.4 16.9 1.4-16.4 1.3-2.9 1.4 28.8 1.4-13.6 1.3-5.2 1.4-10.8 1.3 13.1 1.4-16.5 1.4 0 1.3 34.6 1.4-14.5 1.3-10.7 1.4-.3 1.4-10.8 1.3 24 1.4-2.9 1.4-8.7 1.3-7.5 1.4 17.6 1.4 18.5 1.3-54.4 1.4 21.9 1.3 21.1 1.4 2.8 1.4-18.2 1.3-.7 1.4-1.3 1.3 10 1.4 0 1.4 4.1 1.3-19.2 1.4-8 1.4 0 1.3 46.6 1.4-40.8 1.4 29.4 1.3 2.1 1.4-4.3 1.3-23 1.4 0 1.4 5.2 1.3 0 1.4 14 1.4 36.2 1.3 0 1.4-48.6 1.3 17 1.4 13.7 1.4 19.6 1.3-47.5 1.4-26.8 1.4 38.8 1.3-23.6 1.4 0 1.3 15.6 1.4-27.6 1.4 19.6 1.3 8.6 1.4 0 1.4-19.2 1.3 14.4 1.4-1.8 1.3 0 1.4 3.5 1.4-37.9 1.3 45.5 1.4-12.2 1.4-8 1.3-11.8 1.4 68.8 1.3-43.7 1.4 0 1.4-40.2 1.3 0 1.4 52.5 1.4-4.7 1.3 7.8 1.4-10.2 1.3-6 1.4 0 1.4-11.7 1.3 10.6 1.4 1.7 1.4-2.1 1.3-11 1.4-15.4 1.3 3.1 1.4 14.4 1.4 19.5 1.3-8.6 1.4 0 1.3-.2 1.4 0 1.4-.6 1.3 0 1.4-20.1 1.4 31.8 1.3-1.3 1.4-4.8 1.4-25.6 1.3 32.6 1.4-21.9 1.3 18.8 1.4-6.1 1.4 24.7 1.3-11.1 1.4-20.1 1.3-5.2 1.4 40.6 1.4-30.9 1.3 0 1.4-29.1 1.4 0 1.3 5.8 1.4-18.7 1.4 37.6 1.3 3.6 1.4 13 1.3-17.5 1.4 0 1.4 29.5 1.3 15.9 1.4-1.8 1.4-31.8 1.3-30 1.4 33 1.3 0 1.4-5.9 1.4-9 1.3-4.7 1.4 0 1.4 27.1 1.3 3.6 1.4-1.5 1.3-8.3 1.4-46.6 1.4 56.2 1.3-5.7 1.4 0 1.4-.9 1.3-9.3 1.4 0 1.3 .8 1.4 8.8 1.4-4 1.3 0 1.4-4.4 1.4 0 1.3 24.6 1.4-23.5 1.3-.4 1.4 7.5 1.4-12.6 1.3-15.7 1.4 11.7 1.4 23 1.3-25.1 1.4-3.3 1.3-8.4 1.4 9.5 1.4 12.5 1.3-39.2 1.4 41.9 1.4 0 1.3 17.9 1.4-31.4 1.3-16 1.4 0 1.4 7.4 1.3 0 1.4 34.9 1.3 3.3 1.4-19.9 1.4-4.9 1.3 7 1.4-4.8 1.4 29.8 1.3-55.2 1.4 23.2 1.4-26 1.3 0 1.4 39.2 1.3-4 1.4-7.3 1.4-1.1 1.3 23.9 1.4-19.8 1.3 9 1.4 23.7 1.4-29.1 1.3 31 1.4-3.1 1.4-15.5 1.3 0 1.4-35.7 1.4 28.9 1.3 12.6 1.4 0 1.3-10.4 1.4-13 1.4 0 1.3-1.9 1.4 0 1.4 12.9 1.3 4.3 1.4-14.8 1.3 12.8 1.4-20.2 1.4 0 1.3 16.5 1.4-11.9 1.4-15.8 1.3 16.8 1.4-.4 1.3 0 1.4 7.6 1.4 0 1.3 20.3 1.4-45.3 1.4 0 1.3 24.6 1.4 9.4 1.3-8.2 1.4 13.8 1.4 0 1.3 3.6 1.4-18.8 1.4 0 1.3 33.4 1.4-33.3 1.3 33.7 1.4 .6 0 76.1-1.4-15-1.3 0-1.4 52.3-1.3-53.5-1.4 69.1-1.4-63.3-1.3-20.3-1.4 15.5-1.4 9-1.3 20-1.4-36.7-1.3-17-1.4 12.6-1.4 146-1.3-101.8-1.4-44.9-1.4 0-1.3 11.5-1.4 0-1.3-15.1-1.4 14.9-1.4 0-1.3-27.1-1.4 22.7-1.4 0-1.3-6.3-1.4-3.6-1.3 22.6-1.4-5.4-1.4-3.7-1.3-14.7-1.4 74.1-1.4 0-1.3 16.7-1.4-46.8-1.3 23.2-1.4-68.2-1.4 42.8-1.3-17-1.4 1.8-1.4 35.7-1.3 0-1.4-27-1.4-29.4-1.3 3.4-1.4-6.5-1.3-1.2-1.4-20.5-1.4 28.4-1.3 17.3-1.4-34-1.3 24-1.4-7.2-1.4-14.6-1.3 9.4-1.4 14.7-1.4 51.3-1.3 0-1.4-53-1.4-1.9-1.3 101.6-1.4 0-1.3-100-1.4-25.8-1.4-39.8-1.3 80.8-1.4-8.5-1.3 0-1.4 39.5-1.4 0-1.3-72.8-1.4-.2-1.4 7.1-1.3-22.5-1.4 36-1.3-.6-1.4 0-1.4 5.4-1.3-1.9-1.4-17.6-1.4 71.2-1.3 0-1.4-9.3-1.3-46.7-1.4 20.2-1.4-22.2-1.3 2.9-1.4-17.1-1.4-16.5-1.3-.6-1.4 23.2-1.3 132.1-1.4 0-1.4-69.8-1.3 0-1.4-59.5-1.4 26.9-1.3 32.6-1.4-60.2-1.3 15.5-1.4 0-1.4-29-1.3 30.5-1.4 0-1.4-6.7-1.3 6-1.4 0-1.3 32.6-1.4-31.8-1.4 0-1.3-14.7-1.4 15.6-1.4 25.1-1.3 0-1.4-38.7-1.3 0-1.4-10.2-1.4-3.4-1.3-26.5-1.4 54.6-1.4 35.4-1.3-37.1-1.4 0-1.4-30.9-1.3 10.3-1.4 40.2-1.3-25.8-1.4 76.6-1.4-67.6-1.3-37.2-1.4-3.7-1.3-3.9-1.4 23.9-1.4 0-1.3 9.3-1.4-12.1-1.4-14.7-1.3 50.5-1.4 0-1.4-28.2-1.3-32.2-1.4 25-1.3 21.5-1.4 10.6-1.4 6.1-1.3-29.3-1.4 16.8-1.3 10.1-1.4 .5-1.4-31.9-1.3 71.3-1.4-57.4-1.4-15.1-1.3 0-1.4-12.1-1.3-4.5-1.4 1.3-1.4 70.4-1.3-50.8-1.4 0-1.4 75.2-1.3 0-1.4-56.3-1.3-2.5-1.4-11.4-1.4-31.3-1.3 26.2-1.4 31.6-1.4-33.4-1.3-11.1-1.4-1.4-1.3-28.2-1.4 44.6-1.4 17.7-1.3-6.8-1.4-1.9-1.4 0-1.3-1.4-1.4-10.6-1.3-10.1-1.4-10.5-1.4 64.8-1.3 0-1.4-51.5-1.4-7.1-1.3 19.9-1.4 15.3-1.3 127.3-1.4 0-1.4-134.1-1.3-19.3-1.4 11-1.4 51.9-1.3 0-1.4-51.2-1.3 9-1.4 0-1.4-6.4-1.3 0-1.4-22.6-1.4 2.8-1.3 0-1.4-15.6-1.4 11.1-1.3 26.3-1.4 0-1.3 4.7-1.4 0-1.4-22.2-1.3 0-1.4-13.8-1.3 31.6-1.4-7.9-1.4 2.3-1.3 30.8-1.4 0-1.4-30-1.3-7.2-1.4 72.4-1.4-83.2-1.3 0-1.4 62.2-1.3 0-1.4-28.3-1.4-22.2-1.3-14-1.4-12.1-1.3 15.5-1.4 17.2-1.4-23.9-1.3 3.2-1.4 11.6-1.4-10.2-1.3 0-1.4 .1-1.3 30.1-1.4 21.2-1.4-42.5-1.3-29.4-1.4-3.7-1.4 78.7-1.3 0-1.4-44-1.3 3.1-1.4-7.8-1.4 2-1.3 0-1.4-42.8-1.4 47.4-1.3-6.6-1.4 2.4-1.4-6.2-1.3 4.6-1.4 0-1.3 31.4-1.4-48.7-1.4-3.7-1.3 49-1.4-18.7-1.3 .4-1.4 6.4-1.4-35.2-1.3 11.8-1.4 15.7-1.4 0-1.3-33.8-1.4 19.8-1.4 0-1.3 18.8-1.4 0-1.3-36.5-1.4 7-1.4 61.5-1.3 6.3-1.4 0-1.3-49.1-1.4-5.9-1.4-11.6-1.3-7-1.4 23.6-1.4-26.9-1.3-2.9-1.4 21.6-1.4 0-1.3-43.4-1.4 56.9-1.3-30.3-1.4-4.7-1.4 1.7-1.3 61.2-1.4 12.9-1.3-39.9-1.4 0-1.4-35.8-1.3 26.2-1.4 6.2-1.4 24.4-1.3-25.6-1.4 0-1.4-5.2-1.3 7.9-1.4 7.2-1.3 4.6-1.4 0-1.4-20-1.3 21-1.4 0-1.3-14.5-1.4 13.7-1.4 8.4-1.3 0-1.4-20.7-1.4 0-1.3-15.8-1.4 27-1.3-20.5-1.4-24-1.4 9.1-1.3 30.2-1.4 0-1.4-.2-1.3-13.6-1.4 29-1.3-20.9-1.4-22.3-1.4-4.8-1.3-3.2-1.4 35-1.4-24.7-1.3 0-1.4-2.6-1.4 0-1.3 29.8-1.4 9.7-1.3 0-1.4-3.6-1.4-64.8-1.3 35.4-1.4 0-1.3 10.3-1.4-30.1-1.4-18.4-1.3 23-1.4 14.7-1.4 4.1-1.3 37.2-1.4-63.5-1.4 23.9-1.3 15.6-1.4 0-1.3-30.7-1.4 32.4-1.4 0-1.3 12.2-1.4 0-1.3-58.6-1.4-15.7-1.4 124.6-1.3 0-1.4-38.1-1.4 0-1.3-50.4-1.4-2-1.4 4.3-1.3 0-1.4 20.2-1.3-4.9-1.4 0-1.4-3.6-1.3 0-1.4-5.3-1.3-9.5-1.4-39.1-1.4 39.8-1.3 1.7-1.4 29.6-1.4-43.8-1.3 36.9-1.4 0-1.4-21.4-1.3 22.8-1.4 0-1.3-33.1-1.4 15.4-1.4 3-1.3-4.5-1.4 29.3-1.3-18.9-1.4 0-1.4-11.2-1.3 4.6-1.4-15.9-1.4 9.8-1.3 28.8-1.4 0-1.4 32.6-1.3-17.4-1.4-24.4-1.3-13.1-1.4 14.9-1.4 0-1.3 31.4-1.4 0-1.3-20-1.4 0-1.4-25.2-1.3 42.7-1.4 0-1.4 12.2-1.3-35.3-1.4-23-1.4 3-1.3 55.1-1.4-18.1-1.3 0-1.4-45-1.4 29.4-1.3 3.8-1.4-8.6-1.3-67.1-1.4 49.5-1.4 6.8-1.3 3.4-1.4 0-1.4-1.9-1.3 0-1.4-7.3-1.4 4.7-1.3 0-1.4-6.2-1.3 9.2-1.4 0-1.4 14.8-1.3 23.7-1.4-43.4-1.3 0-1.4-17.1-1.4 42.1-1.3-6.5-1.4-29.1-1.4 20.4-1.3 158.2-1.4-80-1.4-113.9-1.3 53-1.4 17.9-1.3 0-1.4-38.6-1.4 0-1.3 9.7-1.4-32.2-1.3 17.9-1.4 10-1.4-30.7-1.3 0-1.4 17.6-1.4 5.4-1.3 0-1.4 0-1.4-18-1.3-3.7-1.4 27-1.3 0-1.4 15.4-1.4-20.3-1.3 135.8-1.4-74.1-1.3-93.4-1.4 6.6-1.4 103.1-1.3 0-1.4-87.8-1.4-17.8-1.3 17.7-1.4-16.7-1.4 59.4-1.3-56.6-1.4 23.9-1.3 31.7-1.4-13.8-1.4-66.1-1.3 26.8-1.4 119.2-1.3 0-1.4-22.9-1.4-50.5-1.3 0-1.4 22.1-1.4 0-1.3-96.8-1.4 43-1.4 0-1.3-25.1-1.4 4.9-1.3 2.4-1.4-2.2-1.4 39.9-1.3 70.3-1.4 0-1.3-78.6-1.4 3-1.4-4.8-1.3 27.8-1.4 0-1.4-21-1.3-36.5-1.4 19.1-1.4 58.9-1.3 0-1.4-63.9-1.3 23.7-1.4 0-1.4 8.5-1.3 66.6-1.4-68.4-1.3 60.9-1.4-88.1-1.4 10.1-1.3-4.7-1.4 26.3-1.4 9.8-1.3 61-1.4-107.4-1.4 9.1-1.3 0-1.4-.6-1.3 15-1.4 0-1.4-36.4-1.3-9.4-1.4 50-1.3 0-1.4 6.6-1.4 0-1.3-21.4-1.4 0-1.4-7-1.3-6.8-1.4-15.4-1.4 156.5-1.3-14.9-1.4-101.1-1.3-47.9-1.4 17.3-1.4-1.2-1.3-.8-1.4 31.6-1.3 9.6-1.4-49.7-1.4 26.6-1.3 0-1.4-18.4-1.4 27.5-1.3 0-1.4-5.8-1.4 20.4-1.3-43-1.4 59.5-1.3 0-1.4-47.3-1.4 6.4-1.3 201-1.4 0-1.3-220-1.4 28.6-1.4 0-1.3-20.5-1.4 16.2-1.4 0-1.3 42.8-1.4 2-1.4-17.4-1.3 0-1.4 15.6-1.3-3.2-1.4 1.2-1.4 90.7-1.3 0-1.4-12.8-1.3-36-1.4 12.3-1.4-28.4-1.3 18.1-1.4 3.8-1.4-3.2-1.3 0-1.4-30.1-1.4 63.6-1.3 0-1.4-34.4-1.3-18.5-1.4-55.9-1.4 18.7-1.3 0-1.4-18.9-1.3-8.4-1.4 0-1.4-27.3-1.3 10.1-1.4 4.2-1.4 0-1.3-14.5-1.4-33.2-1.4 77.2-1.3 0-1.4-30.1-1.3 28.2-1.4 0-1.4-14.8-1.3 35.7-1.4 42.2-1.3 0-1.4-77.6-1.4 22-1.3 133.1-1.4 4.2-1.4 0-1.3-.8-1.4 62.4-1.4-127.4-1.3 24.7-1.4-10.7-1.3-2-1.4-22.9-1.4 28.8-1.3 12.4-1.4 0-1.3-14.7-1.4 82.2-1.4-118.7-1.3 30.4-1.4-4.3-1.4 15.7-1.3 14.7-1.4 0-1.4-15.1-1.3 0-1.4-40.6-1.3 52.5-1.4 0-1.4-51-1.3-18.5-1.4-103.6-1.3 .8-1.4 9.8-1.4 0-1.3-10.6-1.4 15.5-1.4 86.1-1.3-28-1.4-46.6-1.3-17.1-1.4 8.4-1.4-7.7-1.3-3.1-1.4-5.7-1.4 18.1-1.3-5.5-1.4 0-1.3 50.9-1.4 0-1.4-60.2-1.3 18.9-1.4 0-1.4-14.8-1.3 2.7-1.4 8.5-1.4-5.8-1.3 26.4-1.4 .9-1.3 0-1.4-38.9-1.4 38.1-1.3 0-1.4-37.8-1.3 0-1.4 69.2-1.4-26.4-1.3 22.3-1.4 0-1.4-30.9-1.3-40-1.4 151.6-1.4-152.2-1.3 45.8-1.4 1.9-1.3 65.2-1.4-40.3-1.4-15.6-1.3 166.8-1.4 121.4-1.3 34-1.4 0-1.4 11.2-1.3 43.3-1.4 19.8-1.4 21.4-1.3 38.4-1.4 4.9-1.4-8.6-1.3 1.6-1.4-15.2-1.3 51.9-1.4 0-1.4-1.7-1.3 0-1.4-17.2-1.3-24.6-1.4 4.9-1.4 0-1.3 24.2-1.4 0-1.4-18.6-1.3 16.8-1.4-81.6-1.4-18.7-1.3 14.1-1.4 26.3-1.3-24.8-1.4 6.4-1.4-15.2-1.3 3.1-1.4 0-1.3-5.6-1.4-11.1-1.4 31-1.3 0-1.4-8.2-1.4 0-1.3-50-1.4 9-1.3 22.1-1.4 0-1.4-21.7-1.3 3.2-1.4 0-1.4-12-1.3-.6-1.4 25.1-1.3 .7-1.4 0-1.4 2.9-1.3 12.7-1.4-38.3-1.4 .2-1.3 5.7-1.4 48.4-1.4 0-1.3-17.4-1.4 0-1.3-208-1.4 130.2-1.4-207.6-1.3 0-1.4 144.4-1.3 62.1-1.4 0-1.4-197.3-1.3 176.8-1.4 0-1.4 .3-1.3 6.1-1.4-35.9-1.4-193.7-1.3 216.1-1.4 19.2-1.3 0-1.4-203.1-1.4 170.8-1.3 53.7-1.4-85.3-1.3 46-1.4-27.8-1.4-207.9-1.3 240-1.4-244.6-1.4 11.8-1.3 3.6-1.4 228.6-1.4 0-1.3-27.7-1.4 33.7-1.3-48-1.4 9.2-1.4-197-1.3-52.6-1.4-14.5-1.3 268.7-1.4 29.5-1.4 0-1.3-41.4-1.4 0-1.4-38.8-1.3 1.8-1.4 40-1.4 0-1.3 25.4-1.4 0-1.3-21.4-1.4-.6-1.4-.1-1.3-25.4-1.4 15-1.3-28.2-1.4 57.4-1.4-20.2-1.3-6.6-1.4 0-1.4-201.7-1.3 46.2-1.4 0-1.3-7.7-1.4 19.8-1.4 138.8-1.3 0-1.4-37.6-1.4-182-1.3 195.6-1.4 0-1.3-121.1-1.4 110.1-1.4 47.3-1.3 0-1.4-39.3-1.4 65.6-1.3-122.9-1.4-153.4-1.4 20-1.3-8.2-1.4 0-1.3-39.8-1.4 68.8-1.4 0-1.3 54.7-1.4 0-1.3-125.7-1.4-1.9-1.4-8.7-1.3-29.7-1.4 14-1.4 21.8-1.3 0-1.4-1.2-1.4-11.3-1.3 4.4-1.4 8.5-1.3 0-1.4 .9-1.4 0-1.3 .5-1.4 174.6-1.3 240.5-1.4 8.4-1.4 0-1.3 23.8-1.4 0-1.4-21.2-1.3 8.7-1.4 0-1.4-17.5-1.3 20-1.4 0-1.3 10.4-1.4-26.8-1.4 0-1.3 29.5-1.4 0-1.3-41.1-1.4 0-1.4-150.7-1.3-165.7-1.4-120.4-1.4 33-1.3-58.9-1.4 .4-1.4-15-1.3 111-1.4 0-1.3-70.5-1.4-6.1-1.4 54.1-1.3-17.5-1.4-47.2-1.3-15.5-1.4 28.7-1.4 0-1.3-25.5-1.4 14.5-1.4 0-1.3-32.9-1.4 18.7-1.4 3.2-1.3 21.9-1.4 0-1.3-13.3-1.4-9.2-1.4 0-1.3-5.4-1.4 0-1.3 36.2-1.4 0-1.4-37.6-1.3 0-1.4 7.1-1.4 13.9-1.3-25.5-1.4 25.2-1.4 0-1.3-27.4-1.4 34.6-1.3 20.1-1.4-70.7-1.4 37.6-1.3 21.3-1.4 36.1-1.3-67.1-1.4-29-1.4 134.2-1.3 0-1.4-130.8-1.4 0-1.3 5.6-1.4 19.6-1.4 22.5-1.3 0-1.4-31.7-1.3 80-1.4 0-1.4-83.4-1.3 30.3-1.4-61.4-1.3 0-1.4 0-1.4 0-1.3 0-1.4 197.7-1.4 0-1.3 0-1.4 0-1.4 0-1.3 0-1.4-160.8-1.3 0-1.4 0-1.4 0-1.3 0-1.4 0-1.3 0-1.4 0-1.4 0-1.3 147.4-1.4 214.4-1.4 296.9-1.3 0-1.4 0-1.4 0-1.3 0-1.4 0-1.3 0-1.4 0-1.4 0-1.3-296.9-1.4 0-1.3 0-1.4 0-1.4-180.9-1.3 0-1.4 0-1.4 0-1.3 180.9-1.4 0-1.4 0-1.3 296.9-1.4 0-1.3 0-1.4 0-1.4 0-1.3 0-1.4 0-1.3 0-1.4 0-1.4-296.9-1.3 0-1.4 0-1.4 0-1.3 0-1.4 0-1.4 0-1.3 0-1.4 214.4-1.3 0-1.4 0-1.4 0-1.3 0-1.4 0-1.3 0-1.4 0-1.4 0-1.3 0-1.4 0z" fill="#4daf4a" fill-opacity="0.2"/><path d="M199.9 804l1.4 0 1.3 0 1.4 0 1.4 0 1.3 0 1.4 0 1.3 0 1.4-214.5 1.4 0 1.3 0 1.4 0 1.3 0 1.4 0 1.4 0 1.3 0 1.4 0 1.4-408.7 1.3 0 1.4 0 1.4 211 1.3-286.8 1.4 0 1.3 0 1.4 0 1.4 0 1.3 70.4 1.4 0 1.3 0 1.4 0 1.4 0 1.3 0 1.4 0 1.4 0 1.3 0 1.4 414.1 1.4 0 1.3 0 1.4 0 1.3 0 1.4 0 1.4-197.7 1.3 0 1.4 0 1.3 0 1.4 0 1.4 0 1.3-229.8 1.4 0 1.4 0 1.3 0 1.4 0 1.4 0 1.3 0 1.4 21.4 1.3 0 1.4-.7 1.4-1.3 1.3-1.3 1.4-31.5 1.3 0 1.4 0 1.4 0 1.3 0 1.4 0 1.4 0 1.3-4.9 1.4-10.9 1.4 0 1.3 11.3 1.4 8.7 1.3 .9 1.4 4.2 1.4-8.9 1.3 0 1.4 8.1 1.3 5.5 1.4-6.1 1.4-4.7 1.3-7.2 1.4 10.8 1.4 3.8 1.3-9.2 1.4 0 1.4-5.6 1.3 11.2 1.4-4.6 1.3-18 1.4 22.7 1.4 0 1.3 5.5 1.4-8.6 1.3 3.8 1.4 5.1 1.4-1.8 1.3-2.4 1.4 0 1.4 3.1 1.3-8.5 1.4 1.9 1.4 0 1.3 3.5 1.4-5.8 1.3 .3 1.4 0 1.4 11.3 1.3-13.7 1.4 0 1.3 5.5 1.4 0 1.4 1.8 1.3 2.4 1.4-8 1.4 8.1 1.3 3.1 1.4-3.9 1.4 0 1.3 .1 1.4-5.3 1.3-14.7 1.4-.5 1.4 17.9 1.3 3.2 1.4 0 1.3 7.4 1.4-3.5 1.4-9.1 1.3-9 1.4 7.8 1.4 0 1.3 6.9 1.4-12 1.4-11.8 1.3 9.1 1.4 0 1.3-4.3 1.4 19.6 1.4-12.1 1.3 1.2 1.4-8.6 1.3-7.2 1.4 26.4 1.4 11.8 1.3-11.2 1.4-10.8 1.4 14.2 1.3 .3 1.4-1.9 1.4-13.9 1.3-12.9 1.4 0 1.3 33.9 1.4-15.9 1.4 0 1.3 17.4 1.4 3.4 1.3 4.8 1.4-24.4 1.4 12.8 1.3 9.1 1.4-4.9 1.4 0 1.3-16.9 1.4 28.9 1.4 12.5 1.3-25.2 1.4 6.4 1.3 12.9 1.4-16.9 1.4 24.2 1.3-8.2 1.4 4.1 1.3-8.7 1.4-12.5 1.4-1.4 1.3 26.7 1.4-22.2 1.4 0 1.3 2.3 1.4-1.3 1.4 7.1 1.3-1 1.4 7.9 1.3 3.9 1.4 11.5 1.4-18.3 1.3 7.6 1.4 14.5 1.4-8.3 1.3-13.5 1.4 0 1.3 12.6 1.4 6.1 1.4-10.6 1.3 15.5 1.4-.8 1.4-2.7 1.3 0 1.4 4 1.3-12.7 1.4 21 1.4-5.8 1.3 39.8 1.4-.4 1.3-11.1 1.4 8.2 1.4-4.6 1.3-4.3 1.4 0 1.4 24 1.3-15.2 1.4 0 1.4 14.5 1.3-6.8 1.4-5.2 1.3 16.4 1.4-4.5 1.4-27.4 1.3-.4 1.4-7.4 1.3 30.2 1.4-11.4 1.4-17.9 1.3-27.8 1.4 0 1.4 17.7 1.3-40.4 1.4-10.3 1.4 8.2 1.3 20 1.4-4.1 1.3 0 1.4-11.4 1.4 0 1.3 1.9 1.4 33.7 1.3-1.7 1.4-21.4 1.4 0 1.3 12.4 1.4-8.4 1.4 5.6 1.3 2.1 1.4-3.8 1.4-3 1.3 0 1.4 15.9 1.3 .9 1.4-27 1.4 5.4 1.3-23.9 1.4 0 1.3 29 1.4 0 1.4-6.8 1.3 0 1.4 9 1.4 4.9 1.3 12 1.4-28.8 1.4 0 1.3 18.8 1.4 20.4 1.3-31.5 1.4 0 1.4 12.3 1.3 7.8 1.4-18.2 1.4-1.8 1.3 0 1.4 12.4 1.3 10.8 1.4-33.7 1.4 0 1.3 39.1 1.4-6.2 1.4 3.5 1.3 0 1.4-18.9 1.3-.6 1.4-1.3 1.4 0 1.3-17.4 1.4 0 1.3 26.7 1.4 5.3 1.4 1.7 1.3 0 1.4-24.9 1.4 0 1.3 29.6 1.4-33.6 1.4-15.8 1.3 1.3 1.4 38.8 1.3 9.8 1.4-24.6 1.4 30.8 1.3-18.1 1.4-3.3 1.3 0 1.4 14.4 1.4-8.1 1.3-39.1 1.4-10 1.4 43.5 1.3 18.8 1.4-18.3 1.4-2.1 1.3-32 1.4 13.8 1.3 0 1.4 21.7 1.4-27.9 1.3 0 1.4 44.5 1.3-20.6 1.4-2.9 1.4 3.5 1.3 10 1.4 0 1.4-4.2 1.3-11.8 1.4 17.1 1.4-22.9 1.3-15.6 1.4 0 1.3 28.2 1.4 4.8 1.4 25.5 1.3-19.6 1.4 0 1.3-4.6 1.4-18.3 1.4 11.3 1.3-30.5 1.4 27.3 1.4 8.2 1.3 17.4 1.4-21.9 1.4 10 1.3 7 1.4-1.4 1.3 .2 1.4 0 1.4-8.2 1.3 0 1.4 4.8 1.4 0 1.3-25.5 1.4 0 1.3 56.3 1.4 42.5 1.4 0 1.3 18.2 1.4-2.5 1.4 16.7 1.3-89.2 1.4 0 1.3 13.1 1.4-15.4 1.4 60.3 1.3-1 1.4-19.6 1.3 17.9 1.4-41.1 1.4 12.1 1.3 0 1.4 59.7 1.4-12.6 1.3 2.2 1.4-7.2 1.4-5.8 1.3 13.2 1.4 0 1.3-2.7 1.4-7.3 1.4-10.9 1.3 0 1.4-9 1.3 0 1.4-25.6 1.4 0 1.3 6.7 1.4-17.5 1.4 5.9 1.3 18.7 1.4-30.2 1.4 21.4 1.3 4 1.4-12.9 1.3 0 1.4 18.3 1.4 15.3 1.3-28.1 1.4 0 1.3 6.6 1.4-15.2 1.4 9.2 1.3-40.5 1.4-7.2 1.4-18 1.3 15 1.4-6.4 1.4 16.1 1.3 8.1 1.4-18.5 1.3 0 1.4-2.2 1.4-26.7 1.3 0 1.4 21.5 1.3 0 1.4 9.3 1.4-10.6 1.3 7.1 1.4 0 1.4 20.3 1.3 4.5 1.4-14.5 1.4 16.4 1.3-23.9 1.4-26.5 1.3-23.3 1.4 0 1.4 75.5 1.3-23 1.4 11.7 1.3-15.7 1.4 30.3 1.4 0 1.3-14.7 1.4-11.5 1.4-12.7 1.3 3.5 1.4 18.7 1.4 1.2 1.3-17.6 1.4 0 1.3-14.3 1.4 48.1 1.4-42.2 1.3 14.4 1.4 20.3 1.3 8.3 1.4-6.9 1.4 0 1.3 1.6 1.4-2.2 1.4-21.1 1.3-10.1 1.4 13.9 1.4 4.3 1.3 1.5 1.4 0 1.3-.8 1.4 7.8 1.4 2.2 1.3-4.6 1.4-5.8 1.3-9.2 1.4 0 1.4 11.5 1.3-3.3 1.4-25.7 1.4 36.5 1.3 0 1.4 20.1 1.4 5.6 1.3 17.9 1.4 3.6 1.3-19.6 1.4 50.6 1.4-51 1.3 21.2 1.4 2 1.3-33.4 1.4 0 1.4 8.4 1.3 6.3 1.4 13.9 1.4-11.4 1.3-2.5 1.4-3.4 1.4-1.3 1.3 6 1.4-10.5 1.3 7.5 1.4-13.7 1.4-33.9 1.3-23.1 1.4 0 1.3 8.5 1.4-5.4 1.4 38.5 1.3-5.4 1.4-20.3 1.4 0 1.3 .4 1.4-7.9 1.4 0 1.3 27.2 1.4-18.1 1.3 0 1.4 63.8 1.4-23.2 1.3-26.9 1.4 2.6 1.3 0 1.4 10.1 1.4 .8 1.3-21 1.4-22 1.4 42.8 1.3-4.5 1.4 4 1.4 46.6 1.3 39.2 1.4-4.7 1.3-37.6 1.4-49 1.4 18.8 1.3 46.5 1.4 30.4 1.3 20.3 1.4-84.5 1.4-37.8 1.3 0 1.4-4.5 1.4-33.8 1.3 5.2 1.4 23.2 1.4 37.5 1.3-1.3 1.4 2 1.3-33.1 1.4-24.8 1.4 25.8 1.3 0 1.4 9.5 1.3-5.6 1.4 18 1.4 63.6 1.3 58.3 1.4 6.4 1.4-27.5 1.3-27.4 1.4-10.6 1.4-11.5 1.3-15.2 1.4-35.6 1.3-18.1 1.4 0 1.4 3.4 1.3-.7 1.4 9.8 1.3-46.4 1.4 0 1.4 50 1.3-34 1.4 2 1.4 17.9 1.3-9.3 1.4 20.8 1.4-32 1.3 0 1.4 5.9 1.3-18.2 1.4 0 1.4 51.3 1.3-19.2 1.4 0 1.3 2 1.4-4.6 1.4 0 1.3 21.3 1.4-9.7 1.4-34.3 1.3 6.3 1.4 6.8 1.4 4.8 1.3-5.4 1.4 29.6 1.3-20.3 1.4 0 1.4 14.8 1.3-30.9 1.4 9.3 1.3 0 1.4 36.1 1.4-8.1 1.3-36.3 1.4 0 1.4 6 1.3 15.4 1.4 10.6 1.4 37.8 1.3-.2 1.4 0 1.3 41.2 1.4-7.5 1.4 0 1.3 12.8 1.4-27.2 1.3 0 1.4 13.2 1.4-16.2 1.3-1.8 1.4-57.1 1.4-56.9 1.3 0 1.4 30.4 1.4 14.9 1.3-23.9 1.4 0 1.3 7 1.4 10 1.4 7.5 1.3 0 1.4-2 1.3-10.4 1.4 46.9 1.4-37.6 1.3-2.3 1.4 0 1.4 9.8 1.3 .9 1.4-24 1.4 30.2 1.3-21 1.4 3.9 1.3-13.1 1.4-1.1 1.4 15.3 1.3 6.5 1.4-3.9 1.3-23.6 1.4 0 1.4 1.4 1.3 17.5 1.4-12.6 1.4-16.1 1.3 0 1.4 34.8 1.4 1.2 1.3 32.2 1.4-.3 1.3 21.6 1.4 15.4 1.4 4.1 1.3-20.3 1.4 8 1.3 15.1 1.4-29.5 1.4-68.3 1.3-12.7 1.4 0 1.4 18.8 1.3-4.3 1.4 0 1.4-.1 1.3 18.2 1.4 7.4 1.3-8.8 1.4-8 1.4 0 1.3 12 1.4-11.3 1.3 0 1.4 3.1 1.4 0 1.3 8.4 1.4-37.2 1.4 0 1.3 21.4 1.4-2.1 1.4 3.7 1.3 1.3 1.4 11.6 1.3-12.4 1.4 14.8 1.4-26.7 1.3 0 1.4 7.6 1.4 19.1 1.3-3.8 1.4-21.8 1.3 13 1.4 26.5 1.4-19.3 1.3-3.5 1.4 2 1.4 0 1.3-2.9 1.4-2.6 1.3 3.2 1.4-.8 1.4 0 1.3-16.4 1.4 18 1.3-.1 1.4-19 1.4 27.7 1.3-16.2 1.4 1.7 1.4 2.1 1.3 8.1 1.4 0 1.4-7.4 1.3-4.9 1.4-23.9 1.3-7 1.4 0 1.4 39.1 1.3-13.5 1.4 0 1.3 14.4 1.4-9.1 1.4 0 1.3 11.5 1.4 8.5 1.4 0 1.3 3.8 1.4-8.9 1.4-9.2 1.3-33.1 1.4 .8 1.3 0 1.4 51.4 1.4 2.8 1.3 11.2 1.4-31.3 1.3-9.1 1.4 13.6 1.4 1.9 1.3 11.2 1.4-23.1 1.4 0 1.3 1.5 1.4-1 1.4-4.8 1.3 0 1.4 2.4 1.3-3.3 1.4 0 1.4 20.2 1.3 1.6 1.4 5.3 1.3 1 1.4-2.1 1.4-15.1 1.3-21.7 1.4-.6 1.4 24 1.3 0 1.4 26.5 1.4-32.2 1.3-24.8 1.4 21.7 1.3 6.1 1.4-.7 1.4-6.5 1.3 18.3 1.4 1.6 1.4-12.5 1.3 9 1.4-1.3 1.3 10.4 1.4-1.3 1.4-15.2 1.3 0 1.4-5.4 1.4 0 1.3-12 1.4 0 1.3 15.3 1.4 6.2 1.4 22.9 1.3-24.4 1.4-4.1 1.3-14.8 1.4 20 1.4-2 1.3 18.9 1.4-15.9 1.4 0 1.3 9.1 1.4 0 1.4 13.6 1.3-10.9 1.4 0 1.3-35.9 1.4 0 1.4 35 1.3-21.2 1.4 21.1 1.3 23.1 1.4-13.2 1.4 20.2 1.3-22.5 1.4 19.9 1.4-29 1.3 0 1.4 12.7 1.4-9.7 1.3 0 1.4-14.2 1.3 4.8 1.4 49 1.4-50.9 1.3 4.6 1.4 19.4 1.4 4.4 1.3 9.3 1.4-22.7 1.3 0 1.4 12.6 1.4-.3 1.3-.3 1.4-7.9 1.4-11.1 1.3 18.7 1.4-3.6 1.3-18.6 1.4 0 1.4 19.1 1.3-9.8 1.4-2.3 1.4 .7 1.3 0 1.4 3.2 1.3 0 1.4 20.8 1.4-25.4 1.3 0 1.4 10.8 1.4 .2 1.3 6 1.4-12.6 1.3 0 1.4 18.2 1.4-19.6 1.3 19.7 1.4-7.7 1.4-9.6 1.3 28.1 1.4-40.4 1.3 32.4 1.4-18.9 1.4 0 1.3 4.4 1.4-17.8 1.4-5.6 1.3 0 1.4 2.5 1.3 0 1.4 .5 1.4 0 1.3 13.6 1.4-6.9 1.3-5.6 1.4-36.4 1.4 0 1.3 52.5 1.4-.1 1.4 0 1.3-8.9 1.4-1 1.4 12.1 1.3-1.1 1.4 3.2 1.3-25.5 1.4 0 1.4 1.1 1.3 8.5 1.4 0 1.3 16.5 1.4 1.9 1.4-21 1.3 0 1.4 5.7 1.4-11.4 1.3 0 1.4 26.4 1.4-4.3 1.3-.3 1.4 18.6 1.3-15.2 1.4 19.6 1.4-29.1 1.3 14.4 1.4-11 1.4-25.3 1.3 0 1.4 14.3 1.3 29.8 1.4-17.5 1.4-23.9 1.3 30.9 1.4-1.9 1.4-22.7 1.3 27.3 1.4-8 1.3-25.6 1.4 0 1.4 26.5 1.3-10.1 1.4-17.4 1.4 6.1 1.3 9.9 1.4 0 1.3 1.8 1.4 0 1.4 7.1 1.3-17 1.4 17.3 1.4-22.6 1.3 10.9 1.4 15.2 1.3-4.4 1.4-14.3 1.4 8.5 1.3-7.9 1.4 0 1.4 34.9 1.3-40.4 1.4-2.4 1.3 19.2 1.4 12.8 1.4 15.5 1.3-10.3 1.4-42.7 1.4 0 1.3 30 1.4 3.8 1.3 1.2 1.4 0 1.4 14 1.3-1.3 1.4 0 1.3-29.8 1.4-8.6 1.4-22.1 1.3 0 1.4 51.4 1.4-1.9 1.3 0 1.4 1.2 1.4-4.1 1.3-6.9 1.4-7.8 1.3 0 1.4 17.7 1.4 0 1.3 8.9 1.4 0 1.3-11 1.4-10.3 1.4 0 1.3 4.1 1.4-13.8 1.4-7.5 1.3 3.6 1.4-17.5 1.4 0 1.3 30.3 1.4 3.6 1.3-4.2 1.4 0 1.4 5.7 1.3 0 1.4 3.1 1.4 21.2 1.3-43.4 1.4 11.1 1.3 18.2 1.4-45.8 1.4 0 1.3 22.8 1.4 6.2 1.4-7 1.3 0 1.4 11.4 1.3-18.5 1.4-7 1.4 0 1.3 39 1.4-.1 1.4-26.9 1.3 0 1.4-13.4 1.3 0 1.4 10 1.4-11.9 1.3 1.1 1.4 16.2 1.4-18.2 1.3 10.4 1.4-25.5 1.3 0 1.4 19.5 0 149.2-1.4 0-1.3-17.5-1.4-37.8-1.3-13.4-1.4 17.3-1.4 0-1.3 21.1-1.4 28.9-1.4 0-1.3-32.8-1.4-5.7-1.3-17.5-1.4 24.3-1.4 0-1.3 34.7-1.4-45-1.4 46.1-1.3 0-1.4-59.1-1.3 26.9-1.4 50.7-1.4-73.8-1.3-7.7-1.4 41.6-1.4-20.1-1.3-11.4-1.4 27.3-1.3 32.4-1.4-36.9-1.4-.8-1.3-18.6-1.4 75.5-1.4 0-1.3-67-1.4 .1-1.3 84.6-1.4-9.5-1.4 45-1.3 0-1.4-105.6-1.4 0-1.3-19.4-1.4 15.3-1.4 14.9-1.3 47.4-1.4-51.3-1.3-29.6-1.4 13.5-1.4 0-1.3-14.8-1.4 11.6-1.3 115.3-1.4 0-1.4-118.2-1.3 16-1.4 0-1.4-14.8-1.3-16.1-1.4 8-1.4 12.1-1.3 16.5-1.4 10.6-1.3-33.6-1.4-14.8-1.4 25.4-1.3-22.2-1.4 10.9-1.3 0-1.4-4.4-1.4-.1-1.3 70-1.4 0-1.4-39.8-1.3-25-1.4 20.4-1.3 0-1.4-31-1.4 1.3-1.3 39.7-1.4-21.1-1.4-1.1-1.3 0-1.4-38.2-1.3 37.8-1.4 0-1.4-10.4-1.3 8.4-1.4 13.4-1.4 0-1.3-12.9-1.4 21.2-1.3-25.5-1.4 0-1.4-22.7-1.3 6-1.4 24.5-1.4 0-1.3 51.5-1.4-39.6-1.3 26.3-1.4 0-1.4-22.6-1.3-18.9-1.4-2.1-1.4-31.3-1.3 29.1-1.4 0-1.3 37.6-1.4-46.8-1.4 18.7-1.3 19.3-1.4 .7-1.4 36.4-1.3 0-1.4-88.8-1.3 17-1.4-4.2-1.4-22.9-1.3 18.6-1.4-26.1-1.4 33.8-1.3 44.9-1.4 0-1.4-46.4-1.3-1.3-1.4 27.6-1.3 0-1.4-43.6-1.4 12.7-1.3 13-1.4-23.8-1.3 39.9-1.4-2.2-1.4-7.5-1.3-11.7-1.4-14.8-1.4 14-1.3 16-1.4 1.7-1.4 0-1.3-28.4-1.4-16.4-1.3 .9-1.4 12.1-1.4 14.5-1.3 11.8-1.4-29-1.3 6.9-1.4 13-1.4 24.7-1.3-31.3-1.4-15-1.4 66.1-1.3 0-1.4-11.7-1.3-34.6-1.4 3.7-1.4 20-1.3 0-1.4-32.4-1.4 30.3-1.3 0-1.4-6.4-1.3-11.9-1.4 6.1-1.4 0-1.3-20.5-1.4 51.8-1.4 0-1.3 23.2-1.4 0-1.3-34.7-1.4 0-1.4-31.5-1.3 0-1.4-9.1-1.4 1.8-1.3-11.9-1.4 29.5-1.3 0-1.4-4.9-1.4 0-1.3-9.2-1.4 17.1-1.4 22.8-1.3 0-1.4-18.8-1.3 0-1.4-30.1-1.4 19.6-1.3 20.4-1.4 19.2-1.4-3.4-1.3-63.9-1.4 48.4-1.3 0-1.4-16-1.4-18.3-1.3 82.7-1.4 0-1.4-50.8-1.3-1.7-1.4 0-1.4-7.6-1.3 0-1.4-49.5-1.3 31-1.4 0-1.4-10.6-1.3 0-1.4-3.3-1.3 63.9-1.4 0-1.4-42.9-1.3-3.6-1.4-24.7-1.4 32.4-1.3 0-1.4 68.9-1.4 0-1.3-80.8-1.4 0-1.3-6.4-1.4-15-1.4-7.2-1.3 41.3-1.4-15.6-1.3 0-1.4 23.6-1.4 0-1.3-54.5-1.4 7.8-1.4 49.8-1.3-35.9-1.4 4.9-1.3 0-1.4 20.1-1.4-12.6-1.3-19.6-1.4 2.7-1.4 15.5-1.3 47.4-1.4 0-1.3-55.6-1.4 69.1-1.4 0-1.3-22.9-1.4-22.6-1.4-11.4-1.3 0-1.4-18.9-1.4-5.5-1.3-1.8-1.4-4-1.3 60.1-1.4-11.7-1.4 0-1.3-10.7-1.4-19.4-1.3-10.1-1.4-7.6-1.4 20.9-1.3 0-1.4 7.8-1.4 16.9-1.3 0-1.4-30.3-1.4-15.5-1.3 45.5-1.4 0-1.3 1.7-1.4-28.7-1.4 20.1-1.3 11.6-1.4-31-1.3-4.6-1.4-2.1-1.4 0-1.3-4.5-1.4 0-1.4-11.4-1.3-2.5-1.4 25.6-1.4 0-1.3-8.2-1.4 5.3-1.3-13.3-1.4-7.5-1.4 70.9-1.3 0-1.4-56.9-1.3 0-1.4 38.5-1.4 0-1.3-21.5-1.4-11.5-1.4 7.4-1.3-6.4-1.4-27.5-1.4 27.6-1.3-11.8-1.4 8.9-1.3 15.6-1.4-34.1-1.4 20-1.3 0-1.4-5.6-1.3 38.8-1.4 3.7-1.4 0-1.3 50.1-1.4 0-1.4-81.7-1.3-31.5-1.4 32.3-1.3 101.4-1.4 0-1.4-125.5-1.3-11.4-1.4 59.3-1.4 0-1.3-28.1-1.4-8.1-1.3 32.1-1.4-68.6-1.4 31.4-1.3 24.4-1.4-32.1-1.4 14.5-1.3-2.2-1.4 0-1.4-6-1.3 2.5-1.4 0-1.3 91.2-1.4 13.4-1.4-67.7-1.3-4.8-1.4-35.8-1.3-17.5-1.4 33.8-1.4-14.6-1.3-21.5-1.4 .6-1.4 33.6-1.3 78.4-1.4 0-1.4 34.6-1.3 0-1.4-54.2-1.3 26.8-1.4 0-1.4 4.1-1.3-31-1.4-10.5-1.3-21.4-1.4-17.4-1.4-29.1-1.3 17.5-1.4-16.9-1.4 26.9-1.3 0-1.4-13.1-1.4 4.6-1.3-10.5-1.4 16.6-1.3 0-1.4-52.5-1.4 42.5-1.3 0-1.4 .6-1.3 139.6-1.4-144.2-1.4 36.2-1.3 0-1.4 9.7-1.4-48.3-1.3 29.3-1.4 31.2-1.4 5.3-1.3 0-1.4-37.7-1.3-2.4-1.4-21.7-1.4-43.6-1.3 66.7-1.4 25.4-1.3-53.4-1.4-2.5-1.4 22.2-1.3-23.2-1.4 50.9-1.4 48.7-1.3 62.8-1.4-17.4-1.4-66.8-1.3 57.5-1.4 0-1.3-29.8-1.4-17.3-1.4 17.4-1.3 37.2-1.4 5.5-1.3-76.1-1.4-28.8-1.4-33.8-1.3 18.7-1.4 4.4-1.4-12.2-1.3 12.7-1.4 16.7-1.4 0-1.3-.3-1.4-14-1.3 0-1.4 89.9-1.4 0-1.3-111.9-1.4 17.1-1.3 0-1.4-34.1-1.4-.1-1.3 60.6-1.4 0-1.4-30.4-1.3-13.1-1.4 34.5-1.4 39.5-1.3 0-1.4-73.2-1.3-2.3-1.4 4.3-1.4-19.2-1.3 92.6-1.4 0-1.3-47.8-1.4-27.8-1.4 6.4-1.3-5.6-1.4 0-1.4 23.3-1.3 4.3-1.4-10-1.4-48.5-1.3 27.9-1.4 27-1.3-34.2-1.4 52.8-1.4 0-1.3 232.7-1.4 0-1.3-158-1.4-10.2-1.4 150.5-1.3-19.8-1.4-25.8-1.4-69.5-1.3-40.5-1.4 185.9-1.4-265.4-1.3 27.6-1.4 7.3-1.3-9-1.4 0-1.4 193.9-1.3 0-1.4-212.8-1.3-7-1.4 0-1.4 232.5-1.3 0-1.4-209-1.4-34.5-1.3 268-1.4-167-1.4 .9-1.3-8.3-1.4 214.2-1.3 0-1.4-249.4-1.4 217-1.3 20.6-1.4 0-1.3-253.3-1.4 51.7-1.4 0-1.3-81.8-1.4-41.8-1.4 13.8-1.3 11-1.4 34.7-1.4-28.3-1.3-15.6-1.4 13.3-1.3 0-1.4 6.2-1.4-16.5-1.3 8.8-1.4 0-1.3-4.5-1.4 14.4-1.4 0-1.3-8.1-1.4-16.9-1.4 26.6-1.3 6.9-1.4 0-1.4-31.6-1.3 23.7-1.4 37.5-1.3-29.9-1.4 18.6-1.4 5-1.3 0-1.4-.6-1.3-21.6-1.4 52.5-1.4 0-1.3-44.3-1.4-10-1.4 20.5-1.3 52.7-1.4 0-1.4-58.9-1.3 13.5-1.4 0-1.3 49.9-1.4 0-1.4-27.1-1.3 123.3-1.4-27.7-1.3-134.8-1.4 0-1.4-6.8-1.3 13.5-1.4 0-1.4-36.3-1.3-4.2-1.4-1.2-1.4 8.4-1.3 0-1.4-4.5-1.3 25.3-1.4-21-1.4-1.4-1.3-11.6-1.4-3.7-1.3 0-1.4-21.1-1.4 7.4-1.3 24-1.4 61.2-1.4 0-1.3-66.8-1.4 9.4-1.4 17.7-1.3-12.4-1.4-33.6-1.3 14.9-1.4-22.5-1.4 40-1.3 0-1.4-18.6-1.3 4.5-1.4-17.9-1.4 33.8-1.3 80.1-1.4 0-1.4-61.4-1.3 53.8-1.4 12.6-1.4-98.9-1.3 51.7-1.4-24.1-1.3 0-1.4-47.1-1.4 33.9-1.3-47.3-1.4 58.2-1.3 28.2-1.4-20.2-1.4-11.6-1.3 0-1.4-38.6-1.4 5.8-1.3 6.6-1.4 1.4-1.4 0-1.3-3.2-1.4 18.4-1.3-37.8-1.4 19.9-1.4 15.2-1.3-33.1-1.4 10.4-1.3 0-1.4-13.5-1.4 18.3-1.3 0-1.4 21.5-1.4 7.7-1.3 52.9-1.4-23.2-1.4-3.2-1.3 0-1.4 12.2-1.3-.2-1.4 0-1.4-39.8-1.3 27.6-1.4 0-1.3 18-1.4-3.7-1.4-26.8-1.3 21.4-1.4 10.9-1.4 0-1.3-12.7-1.4 37.6-1.4 15.8-1.3 0-1.4-22.5-1.3 0-1.4-15.6-1.4 39.8-1.3 0-1.4 6.4-1.3 0-1.4 38.2-1.4-18.3-1.3-11.8-1.4 2.9-1.4-32.5-1.3-18-1.4 2.6-1.4 9.7-1.3 141.3-1.4 0-1.3-183.4-1.4-19.6-1.4-3.4-1.3 0-1.4 87.7-1.3 2.8-1.4 54.5-1.4 0-1.3-40.8-1.4-37.4-1.4 0-1.3-94.5-1.4 5.6-1.3 63.4-1.4 0-1.4-31.5-1.3-3.2-1.4-19.2-1.4 15.7-1.3 43.7-1.4 0-1.3-55.9-1.4-26.8-1.4 69.4-1.3 0-1.4-64.8-1.4-26.2-1.3 35.8-1.4-.3-1.4-27.2-1.3 28-1.4 2.2-1.3 13.6-1.4 10.1-1.4-21.9-1.3 0-1.4-52.6-1.3 58.9-1.4 0-1.4-25.2-1.3 6-1.4 0-1.4-14.1-1.3 33.9-1.4-33.9-1.4 9.7-1.3 27.7-1.4 0-1.3-51.6-1.4 16.5-1.4 .2-1.3-21.8-1.4 5.6-1.3 15.7-1.4 15-1.4 6.2-1.3 0-1.4-10.2-1.4 10-1.3 166.6-1.4 0-1.4-162.9-1.3 2.8-1.4 0-1.3-25.4-1.4-3.7-1.4 9-1.3 0-1.4-3.1-1.3-37.6-1.4 62.7-1.4 0-1.3-24.3-1.4 43.6-1.4 0-1.3-45.4-1.4 2.5-1.4 7.8-1.3-16.6-1.4 31.6-1.3-19.7-1.4 5.6-1.4 0-1.3-3.3-1.4 0-1.3 5.3-1.4 19.8-1.4 105.1-1.3 0-1.4-127-1.4 0-1.3-33.7-1.4 14.7-1.3-3-1.4 32.6-1.4 0-1.3-26.6-1.4 7.9-1.4 13.3-1.3-7-1.4-12.3-1.3 22.7-1.4 0-1.4-29.4-1.3 43.9-1.4 0-1.4-44.1-1.3 6.2-1.4 2.8-1.4-18-1.3 0-1.4-15.7-1.3 42.5-1.4 20.4-1.4-29.2-1.3 21.1-1.4-32.7-1.3 1.1-1.4 40.1-1.4 0-1.3-4.8-1.4 100.3-1.4 0-1.3-109.1-1.4-22-1.4-8.2-1.3 25.2-1.4-5.1-1.3-17.8-1.4-.1-1.4 0-1.3 48.2-1.4-1.4-1.3-68.6-1.4 6.2-1.4 55.1-1.3 12.7-1.4 0-1.4 25.3-1.3-24.8-1.4-37.3-1.4 21.6-1.3 13.5-1.4 147-1.3 0-1.4-149.9-1.4 5.7-1.3 22-1.4 0-1.3 22-1.4 0-1.4-49.8-1.3 14.3-1.4 15.4-1.4-3.7-1.3-6.5-1.4 16.1-1.4 0-1.3-20.8-1.4-25.2-1.3-.9-1.4-.5-1.4-32.9-1.3 23.1-1.4 0-1.3-4.5-1.4-26.2-1.4 11.7-1.3 0-1.4 145.6-1.4-171.1-1.3-.3-1.4 75.1-1.3-36.6-1.4-38.6-1.4 4.5-1.3 1.2-1.4 27.4-1.4-34.3-1.3 0-1.4 82.5-1.3 14.7-1.4-71-1.4 0-1.3-11-1.4 18.9-1.4 2.3-1.3 6.4-1.4-34.5-1.4-9.9-1.3 0-1.4 6.2-1.3-2.9-1.4 6.4-1.4 11.4-1.3-24-1.4 13.5-1.3-18.1-1.4 0-1.4 16-1.3 0-1.4 28.7-1.4 0-1.3-28.9-1.4 0-1.4 9.9-1.3 0-1.4-19-1.3-11.8-1.4 4.7-1.4 9.6-1.3-27.7-1.4 6.9-1.3 0-1.4 18.1-1.4 0-1.3 23.2-1.4-34.2-1.4 0-1.3 80.6-1.4 0-1.4-98.4-1.3 0-1.4-22-1.3 38.7-1.4 0-1.4-5.1-1.3-1.7-1.4 8.9-1.3 2-1.4 7-1.4-10.5-1.3-34.7-1.4 32.5-1.4 0-1.3-37.3-1.4 33.2-1.4 23.1-1.3-34.1-1.4-17.3-1.3 34.7-1.4-10.7-1.4 12.2-1.3-23.5-1.4 12.5-1.3 119.5-1.4-.2-1.4-130.1-1.3-19.1-1.4 17.1-1.4 18.4-1.3-17.3-1.4 145-1.4 0-1.3-107.7-1.4 0-1.3-24.2-1.4-5.3-1.4 23.2-1.3-46.2-1.4 10.2-1.3 0-1.4-8.6-1.4 34.6-1.3 0-1.4-29.5-1.4 80.6-1.3 0-1.4-37.8-1.4 0-1.3-30.9-1.4 171.3-1.3-37-1.4-148.4-1.4-6.2-1.3 30.3-1.4 0-1.3-10.6-1.4 0-1.4 30.5-1.3-13.9-1.4 0-1.4 7.7-1.3 0-1.4-45.5-1.4 23.2-1.3-10.2-1.4 18-1.3 1.4-1.4 0-1.4-19.3-1.3 0-1.4-4.2-1.3 26.7-1.4 0-1.4-22.7-1.3-25.1-1.4 7.3-1.4 10.8-1.3 0-1.4-8.1-1.4-1.4-1.3 0-1.4-1.3-1.3 .6-1.4 3.3-1.4 .7-1.3 205.1-1.4 494.6-1.3 0-1.4 0-1.4 0-1.3 0-1.4 0-1.4 0-1.3-494.6-1.4 0-1.4 0-1.3 0-1.4 0-1.3 197.7-1.4 0-1.4 0-1.3 0-1.4 0-1.3 0-1.4 0-1.4 296.9-1.3 0-1.4 0-1.4 0-1.3 0-1.4 0-1.4 0-1.3 0-1.4-164.2-1.3 0-1.4 0-1.4 0-1.3 0-1.4 0-1.3-330.4-1.4 0-1.4-211.1-1.3 408.8-1.4 0-1.4 0-1.3 0-1.4 0-1.4 0-1.3 0-1.4 0-1.3 0-1.4 214.4-1.4 0-1.3 0-1.4 0-1.3 0-1.4 0-1.4 0-1.3 0-1.4 0z" fill="#984ea3" fill-opacity="0.2"/><path d="M199.9 797.3l1.4-10.1 1.3 16.8 1.4 0 1.4 0 1.3 0 1.4 0 1.3 0 1.4 0 1.4 0 1.3 0 1.4-214.5 1.3 0 1.4-414.1 1.4 0 1.3 0 1.4-63.7 1.4 0 1.3 0 1.4 0 1.4 0 1.3 0 1.4 0 1.3 69.1 1.4 0 1.4 0 1.3 0 1.4 0 1.3 0 1.4 214.4 1.4 0 1.3 194.3 1.4-427.5 1.4 0 1.3 0 1.4 0 1.4 0 1.3 0 1.4-50.3 1.3 0 1.4 0 1.4 0 1.3 0 1.4 82.5 1.3 0 1.4 0 1.4 201 1.3 0 1.4 0 1.4 0 1.3-270.1 1.4 0 1.4 0 1.3 0 1.4 0 1.3 0 1.4 0 1.4 0 1.3 0 1.4 0 1.3 64.2 1.4-8.7 1.4 42.3 1.3-27 1.4 0 1.4-.6 1.3 9.4 1.4 3.4 1.4 4.4 1.3-27.8 1.4 0 1.3 19 1.4 19.4 1.4-16.8 1.3 .2 1.4 18.3 1.3-15.1 1.4-37.7 1.4 0 1.3 14.3 1.4 17.4 1.4 0 1.3-15 1.4-2.1 1.4 0 1.3-.4 1.4 0 1.3 40.1 1.4-8.2 1.4-7 1.3-14 1.4-7.9 1.3 0 1.4 16.7 1.4 4 1.3-15.6 1.4 2.4 1.4 8.7 1.3 11.1 1.4-22.1 1.4-8.1 1.3-9.6 1.4 0 1.3 12.5 1.4 13.9 1.4 0 1.3 7.2 1.4-3.4 1.3-22.5 1.4 0 1.4 10.4 1.3 8.3 1.4 12.1 1.4-.5 1.3-4.4 1.4-7.3 1.4-19.2 1.3 0 1.4 9.9 1.3 9.1 1.4 6.7 1.4-7.1 1.3 7.1 1.4-59.2 1.3 44.2 1.4-2.5 1.4 0 1.3-4 1.4 0 1.4-29.9 1.3 12.6 1.4 44.9 1.4-13.9 1.3-17.9 1.4 20.9 1.3 .3 1.4-1.7 1.4-2.5 1.3-3.7 1.4-.4 1.3-5.3 1.4 21.4 1.4-32.7 1.3 27.4 1.4 0 1.4-12.3 1.3 0 1.4 22.7 1.4-12.9 1.3 20.1 1.4-32.4 1.3 20.9 1.4-31.2 1.4 18.7 1.3 0 1.4 5.2 1.3 .8 1.4 1.8 1.4-21.4 1.3-24 1.4 61.1 1.4-7.3 1.3-.9 1.4-1.1 1.4-4.2 1.3-18.2 1.4 16.7 1.3-.9 1.4-11.5 1.4 11.4 1.3-42.6 1.4 22.1 1.3 25.5 1.4-10.1 1.4 0 1.3-9.9 1.4-15.3 1.4 12.7 1.3 1.5 1.4-8.3 1.4-7.4 1.3 20.4 1.4-9.5 1.3 0 1.4-9.4 1.4 0 1.3 13.4 1.4 4.7 1.4 0 1.3-39.3 1.4 30.8 1.3 13 1.4-30.9 1.4 36 1.3-35.9 1.4 0 1.4 7.1 1.3 0 1.4 39.6 1.3-21 1.4 0 1.4-7.8 1.3 0 1.4 38.6 1.3-17.9 1.4 6 1.4-6.5 1.3-16.1 1.4 0 1.4 8.9 1.3 0 1.4 13.5 1.4 5.3 1.3 0 1.4-11.7 1.3-25.2 1.4 0 1.4 34.3 1.3 0 1.4-16.1 1.3-10.9 1.4-4.4 1.4 0 1.3 9.3 1.4 0 1.4 25.7 1.3 0 1.4 2.8 1.4-28.6 1.3 0 1.4 23.4 1.3 4.8 1.4-4.8 1.4-10.9 1.3-15 1.4 0 1.3 25 1.4 0 1.4 5.2 1.3-6 1.4 0 1.4-5.6 1.3 16.7 1.4 0 1.4-6.5 1.3-.9 1.4-4.7 1.3 .1 1.4-8.3 1.4 0 1.3-18.2 1.4 0 1.3 18.6 1.4 0 1.4 14.7 1.3-37.6 1.4-.9 1.4 22.3 1.3 9.9 1.4-7.4 1.4-5.6 1.3 13.9 1.4-20.2 1.3 0 1.4 19 1.4 4.2 1.3-13 1.4 16.7 1.4-15.2 1.3 12.5 1.4 61.3 1.3-49.3 1.4-51.1 1.4 8.2 1.3 0 1.4 15.5 1.4-1.7 1.3 0 1.4-1.7 1.3 7.7 1.4 1.7 1.4 17.5 1.3-44.7 1.4 0 1.3 22.7 1.4 0 1.4-15.5 1.3 0 1.4 9.2 1.4-13 1.3 1 1.4 15.7 1.4 17.1 1.3-8.6 1.4 5.1 1.3-2.4 1.4-7 1.4 0 1.3 1.3 1.4 0 1.3-9.5 1.4 11 1.4 32.6 1.3-24.5 1.4 9.1 1.4-10.2 1.3-10 1.4 5.5 1.4 0 1.3-11.3 1.4 2.4 1.3 24.4 1.4-20.8 1.4-1.6 1.3 0 1.4 11.2 1.3 0 1.4-15.5 1.4 13.5 1.3-.7 1.4 0 1.4-16.8 1.3-1.6 1.4 19.5 1.4-25.9 1.3 0 1.4-15.1 1.3 0 1.4 37.1 1.4-21.1 1.3 0 1.4 12.7 1.3 16.8 1.4-20.2 1.4-1 1.3-10.7 1.4 0 1.4 29.5 1.3-34.3 1.4 45.1 1.4-19.1 1.3 5.7 1.4-15.1 1.3-.2 1.4 9.2 1.4-10.9 1.3 0 1.4 7.2 1.4 12.3 1.3-31.2 1.4-6.3 1.3 11.4 1.4 0 1.4 30.6 1.3-30.2 1.4 0 1.4 29.9 1.3 5.9 1.4-14.2 1.3 0 1.4-34.9 1.4 0 1.3-25.3 1.4 0 1.3 62.7 1.4-7.6 1.4 3.4 1.3 1.9 1.4 16 1.4 0 1.3-36 1.4 0 1.4 11.3 1.3 .3 1.4 26.2 1.3-20.3 1.4 0 1.4-.4 1.3-26.4 1.4 4.7 1.3 15.1 1.4-4.6 1.4 8.3 1.3 8 1.4-3 1.4-11.3 1.3-6.9 1.4 16.4 1.4-13.3 1.3 0 1.4-7.5 1.3 0 1.4 3.6 1.4 15.3 1.3 16.9 1.4 9.5 1.3-57.6 1.4 0 1.4 23.4 1.3 0 1.4 5.5 1.4 0 1.3-6.6 1.4-14.3 1.4 5.4 1.3 32.5 1.4 5.5 1.3-34 1.4-28.6 1.4 43 1.3 18.1 1.4-46.4 1.3 29.5 1.4 9.7 1.4-5.5 1.3 7.3 1.4 56.5 1.4-53.8 1.3-25.8 1.4 0 1.4 10.3 1.3 69.1 1.4-67.6 1.3 0 1.4-18.1 1.4-.4 1.3 17.8 1.4 0 1.3 5.9 1.4-30.7 1.4 0 1.3 33.1 1.4 4.6 1.4-9 1.3-40.8 1.4 0 1.4 7.2 1.3-13.9 1.4-18.3 1.3 24.9 1.4 0 1.4 .3 1.3 0 1.4-9.3 1.3-24.9 1.4 0 1.4 114.1 1.3 88.1 1.4-74.1 1.4-70.3 1.3 0 1.4 9.7 1.4-19.9 1.3 2.7 1.4 23 1.3-40 1.4 0 1.4 93.4 1.3-63 1.4 0 1.3 15.5 1.4 0 1.4-24.6 1.3 22.6 1.4-6.5 1.4 0 1.3 3.4 1.4 5.3 1.4-12.8 1.3 0 1.4-21.8 1.3 0 1.4 9.3 1.4 16.8 1.3-4.6 1.4-11.9 1.3-4.9 1.4 17.4 1.4-10.9 1.3-3.7 1.4 39.4 1.4-27.4 1.3 0 1.4 16.5 1.4 6.9 1.3-9.3 1.4 0 1.3 6.4 1.4-15.4 1.4 5.9 1.3-10.6 1.4-1.4 1.3 0 1.4-18.3 1.4 38.2 1.3-3.5 1.4-34.6 1.4 0 1.3-8.6 1.4 0 1.4 46.3 1.3-30.8 1.4-16.6 1.3-12.6 1.4 44.3 1.4 1.8 1.3-15.1 1.4 0 1.3-16 1.4 0 1.4 46.1 1.3 6.1 1.4-19.6 1.4 0 1.3-2.4 1.4-5.7 1.4-8.1 1.3-.6 1.4 0 1.3 7.3 1.4-16.5 1.4 35.9 1.3-3.3 1.4-23.7 1.3 0 1.4 44.3 1.4-33.1 1.3-17.5 1.4 20.4 1.4-14.8 1.3 13.5 1.4 0 1.4 7.4 1.3 0 1.4 5.7 1.3 9.1 1.4 0 1.4-27.8 1.3 7.1 1.4-14.9 1.3 13.4 1.4-5 1.4 21.7 1.3-43.5 1.4 0 1.4 22.3 1.3 0 1.4 18.2 1.4-20.4 1.3 8.5 1.4 .9 1.3 9.7 1.4 67.7 1.4-50.4 1.3-43.7 1.4-17 1.3 23.4 1.4 27.5 1.4-4.9 1.3 10.9 1.4-20.7 1.4-14.6 1.3 25.6 1.4-13 1.4 30.3 1.3 0 1.4-9.7 1.3 0 1.4-33.5 1.4 19.1 1.3 53.8 1.4 104.2 1.3-94.9 1.4-26.3 1.4-27.1 1.3-14.2 1.4 12.1 1.4 12 1.3-11.5 1.4 0 1.4-8.6 1.3 20.5 1.4-.9 1.3-.9 1.4 6.7 1.4-21.8 1.3 0 1.4 8.9 1.3-48.4 1.4 0 1.4 35.2 1.3-10.5 1.4 0 1.4 18.3 1.3 12 1.4-41.3 1.4-11.8 1.3 47.8 1.4-17 1.3 0 1.4 10.5 1.4 21 1.3-16.1 1.4-31.8 1.3 34 1.4-4.8 1.4-11.7 1.3 5.6 1.4 .8 1.4 9.4 1.3 1.7 1.4 0 1.4-15.9 1.3 0 1.4 3.2 1.3 0 1.4-9.5 1.4 0 1.3 22 1.4-21.6 1.3 6.5 1.4-21 1.4 0 1.3 11.2 1.4-15.1 1.4 23.8 1.3-2.8 1.4 0 1.4-6.5 1.3 0 1.4 4.3 1.3-7.9 1.4 24 1.4-25.1 1.3-4.9 1.4 17.4 1.3 3.8 1.4 22.7 1.4-14.4 1.3-8.7 1.4 10 1.4 8.6 1.3 9 1.4-8.3 1.4-.9 1.3 0 1.4-3.1 1.3-30.5 1.4 22.7 1.4 10.2 1.3 0 1.4 36.7 1.3-2.3 1.4-31.5 1.4-.6 1.3 6.2 1.4-8.2 1.4 18.2 1.3-4.9 1.4 0 1.4 20.1 1.3-28 1.4 14.1 1.3-.7 1.4 18.2 1.4 0 1.3-25.8 1.4 34.4 1.3-4 1.4 0 1.4 16.7 1.3-15.4 1.4-19.3 1.4 9.5 1.3 0 1.4 17.7 1.4-2.8 1.3-7.1 1.4 18.8 1.3 1.7 1.4 2.1 1.4-1.1 1.3-14.8 1.4 13.7 1.4 3.8 1.3 6.6 1.4-12.9 1.3-11.7 1.4 19.4 1.4 10.2 1.3-10.3 1.4-13.3 1.4-21.2 1.3 0 1.4 9.3 1.3-10.3 1.4 0 1.4 3.8 1.3 11.2 1.4 22.2 1.3-15.3 1.4-17.9 1.4 0 1.3 5.8 1.4 2.1 1.4 6.8 1.3-40.6 1.4 10 1.4 46.5 1.3-10.8 1.4 1.7 1.3-5 1.4 1.9 1.4-2.6 1.3-8.4 1.4-15.6 1.3-13 1.4-16.2 1.4 0 1.3 11.7 1.4 21.6 1.4-2.9 1.3-33.3 1.4 12.7 1.4 1.1 1.3 6.4 1.4-17.3 1.3 13.4 1.4-16.6 1.4 0 1.3 37.7 1.4 1 1.3-13.7 1.4-1.2 1.4 0 1.3-.8 1.4-12.8 1.4-27.3 1.3 32.1 1.4 21.1 1.4 4.6 1.3-30.9 1.4 6 1.3 0 1.4 11.4 1.4-19.5 1.3-.1 1.4 0 1.3 17.1 1.4-29.2 1.4 0 1.3 27.5 1.4 20.2 1.4-11.1 1.3-2 1.4 1.2 1.4-4.7 1.3 0 1.4 2.4 1.3-.5 1.4-13 1.4 22.2 1.3 0 1.4-15.2 1.4-35.7 1.3 0 1.4 35.5 1.3-13.8 1.4 9.6 1.4 16.5 1.3-2.3 1.4 10.3 1.4-16.2 1.3-17.8 1.4 0 1.3 8.5 1.4 0 1.4 33.3 1.3-18.6 1.4-.3 1.3-14.8 1.4 2.8 1.4-11.2 1.3 0 1.4 6.8 1.4 14.6 1.3 0 1.4-2.8 1.4 0 1.3 1.4 1.4 6.8 1.3 0 1.4-6.6 1.4-20 1.3 11.5 1.4-10.3 1.3 0 1.4 10.1 1.4 30.4 1.3-6.2 1.4-1.1 1.4 6.5 1.3-47.8 1.4-7.9 1.4-3.1 1.3 30.3 1.4-8.6 1.3 37.5 1.4-10.7 1.4-5.9 1.3-21.5 1.4 0 1.4 15 1.3-3.2 1.4-.6 1.3 14.8 1.4-12.7 1.4-3.2 1.3 17.4 1.4-1.2 1.4-34.1 1.3 0 1.4 37.4 1.3 4.7 1.4-11.7 1.4-1.3 1.3 0 1.4 7.2 1.4-5.7 1.3-2.7 1.4 0 1.3 1.4 1.4 19.2 1.4 10.5 1.3 13.8 1.4 8.7 1.4-55.5 1.3 0 1.4 17.7 1.3-32.8 1.4 0 1.4 20.7 1.3-14.2 1.4 12.9 1.4-1.8 1.3 17.1 1.4-23.2 1.3 0 1.4 6.6 1.4 87.6 1.3-76.6 1.4 0 1.4 20.3 1.3 0 1.4-26.7 1.3-12.3 1.4-4.4 1.4-11.5 1.3-16.5 1.4 17.7 1.3 52.6 1.4-18.6 1.4-48.9 1.3 22.2 1.4-8 1.4 0 1.3 30.3 1.4 11.9 1.4-47.4 1.3 24.2 1.4 0 1.3 16.7 1.4-11.7 1.4 0 1.3 8.4 1.4 0 1.3-15.8 1.4-1.3 1.4 0 1.3-16.3 1.4 0 1.4 12.5 1.3-10.3 1.4 7.4 1.4-3.3 1.3 21.2 1.4-19.3 1.3 0 1.4 10.5 1.4 0 1.3 2.9 1.4 0 1.4 2.3 1.3-6.2 1.4-2.7 1.3 0 1.4 74.3 1.4-42.6 1.3 2.5 1.4-4.2 1.4-21.3 1.3-2.1 1.4 0 1.3-21.7 1.4 0 1.4 8.7 1.3-15.7 1.4-9.4 1.4 19.1 1.3-.2 1.4 0 1.3 26 1.4-14.2 1.4-42.8 1.3 18.6 1.4 15.3 1.4 3.8 1.3 6.8 1.4 0 1.3 7.1 1.4 8.4 1.4 0 1.3-1.3 1.4 0 1.4-21.4 1.3-11.4 1.4 13.2 1.3 0 1.4-6.6 1.4 7.9 1.3 .3 1.4 20.2 1.4-32.7 1.3 18.1 1.4 1.6 1.3-12.2 1.4 0 1.4 13.2 1.3-2.7 1.4 0 1.3 9.6 1.4 46.4 1.4-72.3 1.3 0 1.4 13.8 1.4 0 1.3 13.6 1.4 7.6 1.4 28.9 1.3-43.3 1.4 2 1.3-5 1.4 0 1.4-18.5 1.3 6 1.4-1.8 1.3 17.6 1.4-2.1 1.4 0 1.3 18.7 1.4 0 1.4 .9 1.3-21.2 1.4 6.2 1.4 .3 1.3 0 1.4-2.6 1.3 16.8 1.4-6.9 1.4-5.1 1.3 13 1.4-7 1.4 6.5 1.3-8 1.4 0 1.3-7.5 1.4 0 1.4 64.8 1.3 30.6 1.4-66.5 1.4 0 1.3 29.7 1.4 85.2 1.3-57.8 1.4 0 1.4 22 1.3 1.2 1.4 0 1.4 10.8 1.3-17.2 1.4 23.7 1.3 0 1.4-48.6 1.4 4.8 1.3 26.1 1.4 0 1.4-37 1.3 20.5 1.4-28 1.3 16.2 1.4 .7 0 109.6-1.4 86.8-1.3 0-1.4-11.3-1.3 0-1.4 36.6-1.4 0-1.3-42.9-1.4 29.4-1.4 7.3-1.3-57.9-1.4 58-1.3-73.8-1.4-30.6-1.4 111.5-1.3 32.8-1.4 29.8-1.4-95.3-1.3 0-1.4-72.1-1.3-71-1.4 51.6-1.4 23.3-1.3 195.4-1.4-282.9-1.4-55.4-1.3 162.9-1.4-135.7-1.3 0-1.4-3.4-1.4 17.2-1.3-45.5-1.4 4.1-1.4 36.7-1.3-21.5-1.4 0-1.3 24-1.4-6.9-1.4-18.8-1.3 0-1.4 .3-1.4 .8-1.3-1.2-1.4-10.3-1.4 39.4-1.3 0-1.4-28.4-1.3 8-1.4 45.6-1.4 7.8-1.3 0-1.4 3.6-1.3 238.1-1.4-125.1-1.4-162-1.3-28.1-1.4 49.6-1.4 0-1.3 44-1.4 0-1.4-22.1-1.3-20.6-1.4-25.1-1.3-.3-1.4 47.8-1.4-56.7-1.3-.5-1.4-2-1.3 .4-1.4-18-1.4 64.1-1.3 0-1.4-49.4-1.4 18.7-1.3 5.8-1.4 0-1.3 39.9-1.4 0-1.4-51.7-1.3-16.5-1.4 101.1-1.4 0-1.3 109.8-1.4 0-1.3-198.2-1.4 13-1.4-18-1.3 7.3-1.4 15.2-1.4 206.7-1.3 0-1.4-80.2-1.3 12.1-1.4 0-1.4-63.2-1.3 49.8-1.4-5.4-1.4-123.5-1.3 10.6-1.4-6.4-1.3 4.2-1.4 15.8-1.4-27.4-1.3 76.1-1.4 0-1.4-19.4-1.3-67.8-1.4 26.4-1.3 0-1.4-6.3-1.4 61.9-1.3 29.9-1.4-81.5-1.4-29.8-1.3 159.2-1.4 0-1.3-130-1.4 12.6-1.4-63.6-1.3 10.7-1.4 35.9-1.4 23.7-1.3-50-1.4-17.1-1.4 21.8-1.3 103.1-1.4 0-1.3-53.5-1.4-57.5-1.4 85.7-1.3 0-1.4-72-1.3 71.5-1.4 27.5-1.4-112.9-1.3 206.2-1.4 0-1.4-78-1.3-102.7-1.4 5.1-1.4 2.4-1.3-.5-1.4 132.3-1.3-32.9-1.4-120.7-1.4 105.6-1.3-75.7-1.4-5.1-1.3 130.8-1.4-111.5-1.4 32.2-1.3 .8-1.4-1-1.4 64.6-1.3-14.7-1.4 58.9-1.3 49.7-1.4 0-1.4-151.8-1.3-62.2-1.4 132.8-1.4-159.5-1.3 0-1.4-18.6-1.3 66.8-1.4 61.5-1.4 0-1.3-38.5-1.4-35.2-1.4 120.7-1.3-164.1-1.4 62.4-1.3 39.8-1.4-89.5-1.4 204-1.3 8.3-1.4-226.4-1.4 1.3-1.3 21.2-1.4 0-1.3 81.3-1.4-98.3-1.4 39.2-1.3-3.8-1.4-23-1.4 57.3-1.3 0-1.4-21.5-1.3-61.4-1.4 8.7-1.4 13.7-1.3 25.8-1.4 0-1.4 32.6-1.3 0-1.4-41.5-1.3-41.7-1.4-12.1-1.4 47.1-1.3 0-1.4 14.2-1.4 66.8-1.3 0-1.4-46.6-1.4-47.1-1.3 222.4-1.4-248-1.3 11.3-1.4 5-1.4 21.6-1.3-14-1.4 0-1.3-21.4-1.4 16.6-1.4 39.2-1.3 64.1-1.4 0-1.4-88.9-1.3 0-1.4-11.8-1.4-23.8-1.3 16-1.4 18.4-1.3 65.6-1.4-22.5-1.4-30.5-1.3-49.9-1.4 6.3-1.3 86-1.4 114.6-1.4-113-1.3 31.1-1.4 0-1.4-85.9-1.3 0-1.4-46.4-1.3 86.7-1.4 0-1.4-29.3-1.3 0-1.4-57-1.4 180.8-1.3-29.3-1.4-132.3-1.3 19.5-1.4 24.8-1.4-27.8-1.3 20-1.4-9-1.4-12.6-1.3 30-1.4-49.5-1.4 10.4-1.3 23.6-1.4-43.3-1.3 69.2-1.4 0-1.4-27.2-1.3-20.3-1.4 0-1.3-14-1.4 0-1.4 62.3-1.3-41.8-1.4 2.5-1.4 8.5-1.3-19.4-1.4-7.1-1.4-16.1-1.3 23.2-1.4 33.6-1.3-31.6-1.4 28.8-1.4 0-1.3-56.2-1.4 243.9-1.3 0-1.4-172.5-1.4-27.1-1.3 14.9-1.4 95.5-1.4 0-1.3-141.6-1.4 13.2-1.4 32.8-1.3 81-1.4-61.4-1.3-25.6-1.4 0-1.4 5.2-1.3 215.3-1.4 0-1.3-229.6-1.4 0-1.4-10.9-1.3 30.4-1.4 0-1.4-26.9-1.3 13.6-1.4 27.8-1.4-5.3-1.3 10.4-1.4 0-1.3-16-1.4-8.4-1.4-21.2-1.3 19.4-1.4 0-1.3-18.9-1.4 10.4-1.4 26.8-1.3 101.6-1.4 0-1.4-89.5-1.3 81.5-1.4 0-1.3-96.1-1.4 8.1-1.4 13.3-1.3 0-1.4-23.8-1.4-23.8-1.3 1.3-1.4 0-1.3-8.8-1.4-1.4-1.4 50.6-1.3-43.4-1.4-4.7-1.4 10.6-1.3 79.2-1.4-96.3-1.4 31.5-1.3 11.8-1.4-41.5-1.3 102-1.4 0-1.4-92.1-1.3-30.5-1.4 34.7-1.3 0-1.4-19.7-1.4 13.2-1.3 0-1.4-47.2-1.4 48.4-1.3-21.5-1.4-10.7-1.4 5.1-1.3 5.2-1.4-3.2-1.3-8.2-1.4 17.3-1.4-36.5-1.3 10.8-1.4 0-1.3 62.3-1.4 0-1.4-76.4-1.3 33.5-1.4-11.3-1.4 1.8-1.3 5.9-1.4 0-1.4-5.3-1.3-38.3-1.4 59.9-1.3-19.2-1.4 36.9-1.4-82.9-1.3 8-1.4-3.8-1.3 64.3-1.4-17.8-1.4-4.2-1.3 0-1.4-37-1.4-5.7-1.3 19-1.4-14.3-1.4-4.4-1.3 14.9-1.4 15.9-1.3-12.5-1.4 1.9-1.4 9.8-1.3-.3-1.4-23.1-1.3 21-1.4 33.5-1.4 0-1.3-50.7-1.4 0-1.4-3.5-1.3 20.4-1.4 .1-1.4 0-1.3 9.3-1.4 .4-1.3-11.7-1.4 0-1.4-24.3-1.3 36.2-1.4-14-1.3-17.6-1.4-5.4-1.4 8.5-1.3 26.7-1.4 32.2-1.4 0-1.3-33.4-1.4-9.4-1.4 17.7-1.3-17.7-1.4-8-1.3 6-1.4 0-1.4 .5-1.3 36.8-1.4-23-1.3-7.3-1.4 8.9-1.4-1.4-1.3-5.2-1.4-18.6-1.4-20.5-1.3 47-1.4 100.7-1.4 6.5-1.3 20.3-1.4-43-1.3-43.7-1.4-78.6-1.4 20.5-1.3 42-1.4 27-1.3-23.4-1.4 0-1.4-49.6-1.3-29.5-1.4 46-1.4 28.3-1.3 0-1.4-38.6-1.4 0-1.3-36.5-1.4 28.3-1.3 30.5-1.4 45.6-1.4-13.6-1.3-40.2-1.4-47.5-1.3 0-1.4 13.8-1.4 33-1.3-38.8-1.4 0-1.4 33.7-1.3-.8-1.4 5.7-1.4 0-1.3-4.1-1.4 8.8-1.3 0-1.4-45.1-1.4 67.4-1.3 0-1.4-66.4-1.3 1.1-1.4-18.3-1.4 112.6-1.3-38.7-1.4-39.5-1.4-10.8-1.3 173.5-1.4-149.2-1.4 8.1-1.3-21.7-1.4 18.3-1.3 0-1.4-46.8-1.4-2.8-1.3 52.8-1.4 0-1.3-33.5-1.4 2.3-1.4 24.6-1.3-19.8-1.4-6.1-1.4 32.4-1.3 46.8-1.4-56.2-1.4-40.2-1.3 0-1.4-4.2-1.3 31.6-1.4-19.4-1.4 0-1.3-14.1-1.4 29.1-1.3 4.5-1.4 0-1.4-37.3-1.3 28.8-1.4-25.7-1.4 43.2-1.3 83.6-1.4 0-1.4-86.3-1.3-15.1-1.4 46.6-1.3 0-1.4-27.5-1.4-12.5-1.3-29.3-1.4 16.1-1.3 20.1-1.4 52.2-1.4 0-1.3-66.1-1.4 47-1.4 0-1.3-32.1-1.4 0-1.4 .5-1.3 16.4-1.4 0-1.3-27.3-1.4 4-1.4-27.9-1.3 29.6-1.4 0-1.3 119.9-1.4 0-1.4-103.8-1.3 0-1.4-12.5-1.4 161.3-1.3-2.5-1.4-183.4-1.4-7.2-1.3 14.1-1.4 29.2-1.3 0-1.4-3.1-1.4-11-1.3 0-1.4-11.8-1.3 0-1.4 271.6-1.4 9.7-1.3-247.2-1.4 279.2-1.4 39.2-1.3 0-1.4-10.4-1.4 28.6-1.3 0-1.4-8.8-1.3 0-1.4-15.9-1.4-87.5-1.3-139.2-1.4-50.6-1.3-23.2-1.4-13.1-1.4-5.2-1.3-24-1.4 0-1.4 56.4-1.3 0-1.4-13.8-1.4 0-1.3-53-1.4 17.2-1.3 2.8-1.4 30-1.4 0-1.3-.1-1.4 18.1-1.3 10.6-1.4 0-1.4-78.5-1.3 92.2-1.4 184.7-1.4 0-1.3-274.8-1.4 0-1.4-1.4-1.3 222.3-1.4 0-1.3-191.2-1.4-13.5-1.4-4.6-1.3 53-1.4-25.7-1.3-40.4-1.4 9.2-1.4 26.4-1.3-32.4-1.4 33.4-1.4 5.8-1.3-28-1.4 25.4-1.4-48.8-1.3 18.6-1.4 0-1.3-19.6-1.4 33.1-1.4 1.7-1.3 4.3-1.4-16.3-1.3 51.7-1.4-18.2-1.4-24.7-1.3 0-1.4-5.4-1.4-13.1-1.3 4.4-1.4-16.3-1.4 5.7-1.3 8.9-1.4 0-1.3 6.6-1.4-23.6-1.4 25.5-1.3 7.7-1.4 10.7-1.3 0-1.4-20.2-1.4 23.4-1.3 23.2-1.4-7.2-1.4-16.5-1.3 0-1.4-57.4-1.4 40.1-1.3-.2-1.4-15.5-1.3-16.6-1.4 34.3-1.4 21.5-1.3 0-1.4-13.1-1.3-21.7-1.4 2.4-1.4-5.5-1.3 37.9-1.4 0-1.4-44.2-1.3 22.2-1.4 37.6-1.3 15.6-1.4 0-1.4-97.6-1.3 32.1-1.4 66.1-1.4-47.3-1.3-5.7-1.4-24.6-1.3 146.2-1.4-68.9-1.4-63.4-1.3 83.9-1.4-9.6-1.4-1.7-1.3-91.6-1.4 11.9-1.4 35.8-1.3-.8-1.4-33.9-1.3 5.9-1.4 11.6-1.4 0-1.3-13.2-1.4 4-1.3 23.8-1.4 5.3-1.4-14.3-1.3 4.3-1.4 0-1.4-24.7-1.3 14.8-1.4-20.1-1.4 1.9-1.3 4.4-1.4 22.9-1.3-6.8-1.4-20-1.4 59.1-1.3 0-1.4-10.3-1.3-41.1-1.4 9.9-1.4 0-1.3 24.2-1.4-8.7-1.4-.4-1.3 13.8-1.4 0-1.4-36.3-1.3-12.7-1.4 65.9-1.3 0-1.4-48.9-1.4 3.8-1.3 0-1.4-30.6-1.3 21.4-1.4 0-1.4-11.5-1.3 6.7-1.4 13.8-1.4-40.4-1.3 236.1-1.4 0-1.4-142.3-1.3-53.7-1.4-29.3-1.3 18.4-1.4-7.5-1.4 17.5-1.3 0-1.4-9.2-1.3 20.8-1.4 0-1.4-22.4-1.3-6.4-1.4 40-1.4 85.2-1.3 0-1.4-31.5-1.3-78.6-1.4 82-1.4-1-1.3-88.7-1.4 22.3-1.4 0-1.3 34.4-1.4-51.9-1.3-11.9-1.4 10.1-1.4-4.4-1.3 4-1.4-20.3-1.4 10.3-1.3 56.4-1.4-12.6-1.4-41.4-1.3 0-1.4 47.1-1.3-53.9-1.4 4-1.4 15.1-1.3-19.1-1.4 32.4-1.3 0-1.4-19.1-1.4 72.2-1.3-35-1.4 0-1.4 2.9-1.3 0-1.4-7.9-1.4-25.1-1.3 8.8-1.4-6.3-1.3-25.9-1.4 0-1.4 64.9-1.3-26.4-1.4 0-1.3-4.4-1.4 0-1.4-25.5-1.3 28.6-1.4 0-1.4-1.8-1.3-13.6-1.4-16.3-1.4 6.1-1.3 0-1.4 34.8-1.3 0-1.4-27.4-1.4 21.1-1.3 0-1.4 3.6-1.3-20.7-1.4 17.3-1.4 0-1.3-29.1-1.4 .3-1.4 13.4-1.3 0-1.4-12.5-1.4 2.6-1.3-1.2-1.4 3.9-1.3-20.5-1.4 0-1.4 32.4-1.3 0-1.4-6.4-1.3 0-1.4-5.8-1.4-36.3-1.3 14.1-1.4 8-1.4 20.4-1.3 0-1.4-12.5-1.3 0-1.4-7.9-1.4 41.8-1.3-55-1.4 25.8-1.4 0-1.3-22.7-1.4 0-1.3-6.3-1.4 10.9-1.4 .6-1.3 39.6-1.4 0-1.4-31.9-1.3-17.9-1.4-16-1.4-.4-1.3 11.8-1.4 0-1.3 22.5-1.4 6-1.4 0-1.3 11.9-1.4 30.7-1.3 0-1.4-42.6-1.4 0-1.3-5.5-1.4 19.9-1.4 0-1.3 7.9-1.4-45.4-1.4 45.7-1.3-15.9-1.4 0-1.3-23.6-1.4 0-1.4 27.2-1.3 9.5-1.4 16.8-1.3-59.1-1.4 42.7-1.4-40.8-1.3 124.2-1.4 0-1.4-106.3-1.3-18-1.4 46.2-1.4-40-1.3 0-1.4 8.3-1.3 0-1.4 2.8-1.4 1.7-1.3 2.7-1.4 0-1.3 9.7-1.4 39.6-1.4-13.8-1.3-44-1.4 0-1.4 12.1-1.3-18.6-1.4 24.3-1.4 0-1.3 1.3-1.4 39.3-1.3-34-1.4-3.3-1.4 0-1.3-12.6-1.4-13.9-1.3 7.2-1.4 0-1.4-3.2-1.3 18.2-1.4-18.4-1.4 0-1.3 2.6-1.4-14.9-1.4-18.7-1.3 17.9-1.4 8.8-1.3 3-1.4 59.4-1.4 0-1.3-61.4-1.4 6.1-1.3 23.5-1.4-23-1.4 1.3-1.3 0-1.4-11.1-1.4 34.9-1.3 0-1.4-10-1.4-31.3-1.3 6.5-1.4-9.7-1.3 30.3-1.4 56.1-1.4 0-1.3-81.3-1.4 30.5-1.3-9-1.4 0-1.4-21.3-1.3 13-1.4 0-1.4-24-1.3-9.4-1.4 36.6-1.4 30.8-1.3-52.5-1.4-2.3-1.3 26-1.4 2.7-1.4 0-1.3-4.9-1.4 24.7-1.3 0-1.4-26.2-1.4-22.2-1.3 5-1.4 39.9-1.4 53.8-1.3 0-1.4-89.6-1.4 0-1.3 466.8-1.4 0-1.3 0-1.4 0-1.4 0-1.3 0-1.4 0-1.3 0-1.4 0-1.4 0-1.3-327-1.4 0-1.4 0-1.3 0-1.4 0-1.4-201-1.3 0-1.4 692.2-1.3 0-1.4 0-1.4 0-1.3 0-1.4 0-1.3 0-1.4 0-1.4 0-1.3 0-1.4 0-1.4-296.9-1.3 0-1.4-194.3-1.4 0-1.3-214.5-1.4 0-1.3 0-1.4 0-1.4 0-1.3 705.7-1.4 0-1.3 0-1.4 0-1.4 0-1.3 0-1.4 0-1.4 0-1.3 0-1.4 0-1.4 0-1.3 0-1.4 0-1.3-82.5-1.4 0-1.4 0-1.3 0-1.4 0-1.3 0-1.4 0-1.4 0-1.3 0-1.4-6.7z" fill="#ff7f00" fill-opacity="0.2"/><path d="M199.9 804l1.4 0 1.3 0 1.4 0 1.4 0 1.3 0 1.4 0 1.3 0 1.4 0 1.4 0 1.3 0 1.4 0 1.3 0 1.4 0 1.4-615.2 1.3 0 1.4 0 1.4 0 1.3 0 1.4 0 1.4 0 1.3 0 1.4 0 1.3 0 1.4 0 1.4 0 1.3 0 1.4 0 1.3 615.2 1.4 0 1.4 0 1.3 0 1.4 0 1.4 0 1.3-628.6 1.4 0 1.4 0 1.3 0 1.4 0 1.3 0 1.4 0 1.4 0 1.3 0 1.4 0 1.3-97.8 1.4 0 1.4 0 1.3 0 1.4 0 1.4 317.6 1.3-167.5 1.4 0 1.4 0 1.3 0 1.4 0 1.3 0 1.4-13.4 1.4 0 1.3 0 1.4-25.5 1.3 0 1.4 0 1.4 0 1.3 0 1.4 0 1.4 0 1.3 0 1.4 0 1.4 0 1.3 0 1.4 0 1.3 0 1.4 0 1.4 0 1.3 0 1.4 0 1.3 0 1.4 0 1.4 0 1.3 0 1.4 0 1.4 0 1.3 0 1.4 0 1.4 0 1.3 0 1.4 0 1.3 0 1.4 0 1.4 0 1.3 0 1.4 0 1.3 0 1.4 0 1.4 0 1.3 0 1.4 0 1.4 0 1.3 0 1.4 0 1.4 0 1.3 0 1.4 0 1.3 0 1.4 0 1.4 0 1.3 0 1.4 0 1.3 0 1.4 0 1.4 0 1.3 0 1.4 0 1.4 0 1.3 0 1.4 0 1.4 0 1.3 0 1.4 0 1.3 0 1.4 0 1.4 0 1.3 0 1.4 0 1.3 0 1.4 0 1.4 0 1.3 0 1.4 0 1.4 0 1.3 0 1.4 0 1.4 0 1.3 0 1.4 0 1.3 0 1.4 37.6 1.4 0 1.3-5.3 1.4-1.8 1.3 9.4 1.4 0 1.4-22.2 1.3 0 1.4 17.1 1.4-14 1.3-6.5 1.4-16.4 1.4 7.4 1.3 2.1 1.4 3.2 1.3 6.9 1.4 28 1.4-27.6 1.3-17.3 1.4 0 1.3 30.7 1.4 0 1.4 .4 1.3 0 1.4-2 1.4-16.8 1.3 32.4 1.4-9.2 1.4 2.9 1.3-1.4 1.4 0 1.3-18.4 1.4 25.8 1.4-12.2 1.3-20.1 1.4 0 1.3 37.9 1.4 8.5 1.4 0 1.3-3.9 1.4 10.8 1.4-20 1.3 11.3 1.4-38.2 1.4 0 1.3 29.3 1.4-30.4 1.3 0 1.4 31.9 1.4 1.7 1.3-12.1 1.4-9.8 1.4 12.6 1.3-17.8 1.4 0 1.3 6.3 1.4 44.9 1.4 72.7 1.3-89 1.4 0 1.4-4.3 1.3-8.5 1.4-28.3 1.3 0 1.4 33.2 1.4 19 1.3-53.4 1.4 1.6 1.3 59 1.4-46.1 1.4-7 1.3 0 1.4 17.5 1.4 0 1.3 30.5 1.4-27.7 1.4 3.3 1.3 .5 1.4 0 1.3 7 1.4-2.9 1.4-1.3 1.3-17.3 1.4 0 1.3 27.6 1.4 6.2 1.4-13.1 1.3 0 1.4 4.4 1.4-21.2 1.3 0 1.4-6.9 1.4 47.1 1.3-74.9 1.4 14.3 1.3 6.8 1.4 0 1.4 23.1 1.3 13.6 1.4-29.6 1.3-5.5 1.4 0 1.4 19.9 1.3-2.5 1.4-18.1 1.4 3.7 1.3 11.2 1.4 32.6 1.4-2.8 1.3-31 1.4 7.7 1.3 68.5 1.4-89.1 1.4 0 1.3 31.8 1.4-14 1.3 21 1.4-11.6 1.4-.3 1.3 13 1.4-10.2 1.4 0 1.3-3.5 1.4-28.9 1.4 0 1.3 37 1.4-41.4 1.3 54.6 1.4-33.3 1.4 0 1.3 2.7 1.4-6.1 1.4-2.5 1.3 33.1 1.4-79.2 1.3 38.9 1.4 54.2 1.4-46.9 1.3 0 1.4 1.9 1.4 28.2 1.3-32.9 1.4 0 1.3 9.4 1.4-3.7 1.4-18.9 1.3 0 1.4 23.9 1.3-26.4 1.4 0 1.4-27.8 1.3 0 1.4 14 1.4-28.8 1.3 24.1 1.4 5.6 1.4-6.3 1.3-34 1.4 0 1.3 22.5 1.4-1 1.4 20.9 1.3 21.7 1.4 0 1.3-13 1.4 20.6 1.4 7.5 1.3-.1 1.4-22.7 1.4 15.4 1.3-12.6 1.4 0 1.4 8.5 1.3-13.2 1.4-2 1.3 8.6 1.4 16.6 1.4-42 1.3 22.9 1.4 10.6 1.3 44.1 1.4-47.6 1.4 0 1.3-15.5 1.4-40.9 1.4 50.8 1.3 0 1.4-6.6 1.4 0 1.3-9.6 1.4-.1 1.3 13.4 1.4 34.5 1.4-4.1 1.3-33.4 1.4 0 1.3-22.9 1.4 0 1.4 24.9 1.3-2.1 1.4 4.8 1.4 0 1.3 17.3 1.4-3.4 1.4-.8 1.3 6.6 1.4 10.2 1.3-3 1.4 0 1.4 9.4 1.3-50.6 1.4 0 1.4 19.2 1.3 25.2 1.4-20.8 1.3-2.8 1.4 7.9 1.4-15.3 1.3-6.3 1.4-.9 1.4-10.7 1.3 0 1.4 20.8 1.3 0 1.4 19.5 1.4 5.8 1.3 72.3 1.4-111 1.3 0 1.4 21.5 1.4 0 1.3 2 1.4-9.2 1.4 0 1.3 3.4 1.4 7.3 1.4-15 1.3 3.8 1.4 0 1.3-11.1 1.4 0 1.4 4.9 1.3 28.2 1.4 7.5 1.3-24.1 1.4 0 1.4 7.4 1.3 2 1.4 0 1.4-12.1 1.3-20.5 1.4 0 1.4 21.8 1.3 15.2 1.4-24.2 1.3-13.7 1.4 1.3 1.4 21.4 1.3-.3 1.4 0 1.3 12.9 1.4 8.7 1.4 0 1.3-20.2 1.4-21.1 1.4 39.8 1.3-7 1.4 0 1.4 10.7 1.3-12 1.4 0 1.3-6.3 1.4-6.1 1.4 0 1.3-9.5 1.4 29.4 1.3 7.4 1.4-29.6 1.4 0 1.3 27.9 1.4-35.3 1.4 0 1.3 31.9 1.4-14.7 1.4 0 1.3-10.4 1.4 2.7 1.3 3.4 1.4-3.4 1.4 0 1.3 7.2 1.4-5.2 1.3 0 1.4-24.2 1.4 0 1.3 58.6 1.4-32.9 1.4-20.6 1.3-10 1.4 0 1.4 37.2 1.3 7.7 1.4-.1 1.3 0 1.4-14.8 1.4 0 1.3-14.4 1.4 0 1.3 8.3 1.4 20.4 1.4-11 1.3-14.1 1.4 0 1.4-14.5 1.3 0 1.4 45 1.4 0 1.3-12.7 1.4-35.9 1.3 0 1.4-1.9 1.4 29 1.3 18.3 1.4-14.5 1.3 12.2 1.4-12.8 1.4-6.3 1.3 12.8 1.4 0 1.4 7.8 1.3 6.5 1.4-1.1 1.4-30.5 1.3 19.4 1.4 7.9 1.3-21.7 1.4-4 1.4 0 1.3 10.7 1.4 5.9 1.3 5.8 1.4-5 1.4-14 1.3 0 1.4 4 1.4 31.2 1.3 4.7 1.4-23.7 1.4-15.2 1.3-10.3 1.4 0 1.3 20.5 1.4 18.8 1.4-50.5 1.3 12.5 1.4 41 1.3-8.4 1.4 2.1 1.4 8.1 1.3-46.3 1.4 .7 1.4 0 1.3 16.3 1.4 0 1.4-.9 1.3 0 1.4 .9 1.3 20.2 1.4 0 1.4-25.2 1.3 7.2 1.4 32.1 1.3-8 1.4-21.7 1.4 10.1 1.3 3.2 1.4 5.7 1.4-37.8 1.3 20.6 1.4 25.9 1.4-22.7 1.3 8.8 1.4 22.8 1.3-32.7 1.4 0 1.4 33.3 1.3-26.9 1.4 11.1 1.3 38.7 1.4-7.4 1.4-23.6 1.3-5.5 1.4-41.5 1.4 0 1.3 24.4 1.4 .5 1.4-5.8 1.3 0 1.4 30.7 1.3-10.9 1.4 6.2 1.4-23.2 1.3 0 1.4 16.5 1.3 16.4 1.4-29.1 1.4-4.5 1.3 42 1.4-25.1 1.4-8.6 1.3 1.4 1.4 8.3 1.4-4.5 1.3-28.4 1.4 0 1.3 29.8 1.4 15 1.4-14.2 1.3 0 1.4 13.7 1.3-33.7 1.4 0 1.4 7.4 1.3-14.5 1.4 36.2 1.4-14.2 1.3-8.3 1.4-20.3 1.4 0 1.3 10.7 1.4 0 1.3 35.9 1.4 0 1.4 4.4 1.3-47.4 1.4 4.5 1.3 22.3 1.4 14.1 1.4 7.3 1.3-7.5 1.4-6.8 1.4 0 1.3-4 1.4 0 1.4-9.9 1.3 5.7 1.4 5.8 1.3-34.5 1.4 0 1.4 31 1.3 6.8 1.4-13.1 1.3 0 1.4 25.7 1.4-2.1 1.3-3.6 1.4-32.8 1.4 0 1.3 22.4 1.4 10.4 1.4-3.9 1.3-12.5 1.4-7.5 1.3 47.1 1.4-37.1 1.4 9.5 1.3-28.2 1.4-1.8 1.3 35.3 1.4 1.7 1.4-24.5 1.3 0 1.4 24.3 1.4 0 1.3-33 1.4-13.9 1.4 0 1.3 46.3 1.4-14.2 1.3 0 1.4 12.1 1.4-.9 1.3-15.9 1.4 18 1.3-32.8 1.4 0 1.4-19.5 1.3 0 1.4 43.7 1.4 0 1.3-5 1.4-21 1.4 44.1 1.3-1.1 1.4 14 1.3 0 1.4-12.7 1.4 0 1.3 12 1.4-20.6 1.3 0 1.4 18.7 1.4-18.4 1.3-18.6 1.4-4.7 1.4 21.9 1.3 5.6 1.4-9.6 1.4-13.6 1.3-26.5 1.4 0 1.3-10.2 1.4-11.5 1.4 6.1 1.3-9.1 1.4 8.7 1.3 18.7 1.4 8.1 1.4 8.3 1.3 0 1.4-7.9 1.4 0 1.3 17.6 1.4 0 1.4-10 1.3 0 1.4 20.1 1.3-8.4 1.4-17.7 1.4 14.3 1.3-21.4 1.4 20.8 1.3 24 1.4-6.4 1.4 13 1.3-17.2 1.4-9.5 1.4 4.3 1.3 35.2 1.4-15.4 1.4-10.3 1.3-.1 1.4-4.3 1.3 6.7 1.4-13.8 1.4-27.2 1.3 0 1.4 17.6 1.4 21.6 1.3 0 1.4 22.8 1.3-24 1.4-29.3 1.4 0 1.3 4.3 1.4 0 1.4 24.6 1.3 0 1.4-6.8 1.3-2.8 1.4 0 1.4 3.7 1.3 3.2 1.4-53.5 1.3 31.7 1.4 31.9 1.4 37.4 1.3-21 1.4-67.8 1.4 0 1.3 15 1.4 25.2 1.4 0 1.3 11.5 1.4-12.1 1.3 5.1 1.4 0 1.4 25.6 1.3-5.5 1.4 11 1.3 5 1.4 3.3 1.4 12.2 1.3-32.4 1.4 17.5 1.4-21.8 1.3 8 1.4 0 1.4 .3 1.3 0 1.4 11.7 1.3-8.5 1.4 0 1.4-11 1.3 2.9 1.4 18.3 1.3 0 1.4-18.2 1.4 0 1.3 25.7 1.4-8.6 1.4-2.6 1.3-8.8 1.4 0 1.4 3.8 1.3-2 1.4 0 1.3-4.2 1.4 0 1.4 10.3 1.3 6.5 1.4-7.4 1.3-5.8 1.4 16.1 1.4 8.1 1.3 1.5 1.4-11.9 1.4-39.8 1.3 28.6 1.4 9.4 1.4 0 1.3 1.1 1.4-27.9 1.3 32 1.4-6.2 1.4 0 1.3 6.3 1.4 18.4 1.4 1.3 1.3-4.3 1.4-1.2 1.3-7.7 1.4 41.7 1.4-33.8 1.3-30.4 1.4-19.2 1.4 0 1.3 2.3 1.4 0 1.3 28.8 1.4 0 1.4 9 1.3 6.7 1.4-5.9 1.3-7.9 1.4 0 1.4-5.1 1.3-21.7 1.4 0 1.4 5.3 1.3 0 1.4 .1 1.4-27.1 1.3 76.1 1.4-42.3 1.3 0 1.4 8.4 1.4-6.6 1.3 12.2 1.4-17.2 1.3-1.1 1.4 5.5 1.4-2.4 1.3-2.6 1.4 0 1.4 3.2 1.3 6.7 1.4-5.2 1.4 0 1.3-6.9 1.4 6.7 1.3 15 1.4-1.9 1.4-15.8 1.3 86.4 1.4-111.8 1.4 0 1.3 9.7 1.4 17.7 1.3 2.6 1.4 0 1.4-13.1 1.3 21.5 1.4-10.1 1.4-12.2 1.3 0 1.4 22.7 1.3 8.9 1.4-41.5 1.4 0 1.3-8.5 1.4 35.6 1.4-21.6 1.3 28.7 1.4-.2 1.3-2.3 1.4-5.5 1.4 0 1.3-1.3 1.4 .2 1.4 6.7 1.3 16.6 1.4-8.1 1.3-8 1.4 3.8 1.4-21.8 1.3-11.7 1.4 0 1.4 30.7 1.3 11.4 1.4 5.5 1.3-19 1.4-26.6 1.4 15.7 1.3 0 1.4-2.7 1.4 11.9 1.3-8.9 1.4-1.4 1.3 12.3 1.4 3.1 1.4-7.5 1.3-23.7 1.4 1.3 1.3 29.5 1.4-11.3 1.4 0 1.3 16.5 1.4-19.3 1.4 0 1.3 6.1 1.4-.7 1.4 0 1.3 17.8 1.4-35.2 1.3 0 1.4-7.5 1.4 0 1.3 17.9 1.4-8.7 1.3-4.3 1.4 25.1 1.4-18.2 1.3 5.5 1.4 0 1.4 17.2 1.3-.9 1.4-2.9 1.4 0 1.3 7.8 1.4-37.9 1.3 29.2 1.4-.8 1.4-25.9 1.3-1.4 1.4 21.3 1.4-18.6 1.3 0 1.4 4.2 1.3-19.2 1.4 0 1.4 14.5 1.3 18.2 1.4-19.8 1.4-19.8 1.3 15 1.4 27.9 1.3-17.5 1.4-5.6 1.4 .3 1.3 20.5 1.4 2.3 1.4-13.4 1.3 0 1.4-9 1.3 0 1.4 12.1 1.4-10.5 1.3-10.4 1.4 0 1.4 21.4 1.3 0 1.4 10.9 1.3-16.7 1.4 0 1.4 24.2 1.3-13.2 1.4-1.5 1.4 0 1.3 12.6 1.4-.7 1.3-11.5 1.4-10.4 1.4 23.7 1.3-1.8 1.4-3.1 1.4 0 1.3-3.9 1.4-12.4 1.3 13 1.4 4.3 1.4 .5 1.3-18.4 1.4-4.1 1.3 17.9 1.4-6.1 1.4 0 1.3 28.4 1.4-24.5 1.4 0 1.3-20.5 1.4 0 1.4 34.4 1.3 4.1 1.4-1.5 1.3-25.1 1.4 8.1 1.4 30.1 1.3-4 1.4-3.8 1.3-19.7 1.4-40.8 1.4 0 1.3 20 1.4 11.5 1.4 35.1 1.3-43 1.4 0 1.4 27 1.3 7.6 1.4-38.4 1.3 0 1.4 39.7 1.4-20.3 1.3 0 1.4-2.6 1.4 3.5 1.3 0 1.4 3.4 1.3-34.1 1.4 23.2 1.4 14.9 1.3-30.9 1.4 0 1.4 29.4 1.3-10.2 1.4 9.9 1.3-10.5 1.4 0 1.4 52 1.3-11.1 1.4-62.3 1.4 0 1.3 11.7 1.4 12.8 1.3 10.5 1.4 0 1.4-4.1 1.3 12 1.4 2.6 1.4 6.6 1.3-20.3 1.4 0 1.3-15.4 1.4 0 0 172.8-1.4 0-1.3-80.4-1.4-12.7-1.3 24.8-1.4-2.5-1.4-3.4-1.3-.4-1.4-1.4-1.4 8.6-1.3 0-1.4-5.9-1.3-18.9-1.4 16.6-1.4 51.5-1.3 0-1.4-33.5-1.4-24.8-1.3-17.4-1.4 21-1.3-7.6-1.4 0-1.4-10.3-1.3 3-1.4 .3-1.4 28.4-1.3 0-1.4-48-1.3 58.2-1.4-18.7-1.4 0-1.3 7.6-1.4-7.9-1.4-35.6-1.3 17.4-1.4 8.9-1.3 0-1.4-9.9-1.4 2.6-1.3 55.6-1.4 0-1.4-63.5-1.3 11.7-1.4-13.8-1.4 13.5-1.3 17.3-1.4 36.5-1.3 0-1.4-41.5-1.4-12.6-1.3-4.2-1.4 18.9-1.3-15.6-1.4-.5-1.4-19.7-1.3 13.1-1.4 28-1.4 1-1.3-12.2-1.4-1-1.4 19.8-1.3 0-1.4-4.3-1.3-6.5-1.4 0-1.4-20.8-1.3 29.2-1.4 0-1.3-2.7-1.4 56.3-1.4-16.5-1.3-43.7-1.4 0-1.4 15.7-1.3 21.5-1.4-19-1.3-30.9-1.4 25.7-1.4 0-1.3-18.2-1.4-16.6-1.4-30.1-1.3 86.6-1.4-15.2-1.3 34.2-1.4 0-1.4-91.6-1.3 .4-1.4 9.7-1.4 0-1.3 24-1.4 0-1.3 7.6-1.4-30.6-1.4-3.2-1.3-12.7-1.4-1.1-1.4 27.4-1.3 0-1.4-7.5-1.3-49.1-1.4 29.7-1.4 12.9-1.3 38.1-1.4-38.6-1.4 2.6-1.3 .3-1.4 0-1.3-7.5-1.4 0-1.4 2.9-1.3 0-1.4-11.9-1.4 22.7-1.3 0-1.4 28.9-1.3 0-1.4-7.4-1.4 0-1.3-9.9-1.4-4.4-1.4-23.8-1.3 8-1.4 2.1-1.4 87-1.3-105.7-1.4 17.5-1.3 0-1.4 137.8-1.4 0-1.3-130.6-1.4 0-1.3 8.1-1.4-5.4-1.4-12.6-1.3 58.8-1.4 4.2-1.4 0-1.3-10.7-1.4-14.1-1.4 0-1.3-13.9-1.4-6.6-1.3 26.6-1.4 0-1.4-34.2-1.3-6-1.4-.4-1.3 10-1.4 3.1-1.4 0-1.3 29.7-1.4-57.4-1.4 61.6-1.3 0-1.4-14-1.3 0-1.4-11-1.4-28.8-1.3 29.3-1.4 0-1.4 .3-1.3-3.7-1.4 9-1.3-7.8-1.4-20.6-1.4 1-1.3 1.7-1.4 15.3-1.4 5.3-1.3 26.4-1.4 0-1.3-46.9-1.4 16.9-1.4 0-1.3-6.1-1.4-17.2-1.4 174.6-1.3 0-1.4-169.3-1.3-25.4-1.4 24.6-1.4 8.9-1.3 0-1.4 12.8-1.4 .1-1.3-37-1.4 6.1-1.3-1.5-1.4 107.3-1.4 55.5-1.3-9-1.4-148.7-1.4 30.5-1.3-13.5-1.4-19.6-1.3 38.7-1.4 0-1.4 109.3-1.3-119.5-1.4-15.3-1.4-7-1.3 5.6-1.4 0-1.4 10.1-1.3 7.4-1.4 0-1.3 25.1-1.4 20.6-1.4-18.2-1.3-49.8-1.4 65.1-1.3 0-1.4-22.4-1.4 0-1.3-45.5-1.4 0-1.4 18.8-1.3-10.2-1.4 1.7-1.4 9.6-1.3 9.4-1.4 102.4-1.3 0-1.4-82.4-1.4 0-1.3 2.2-1.4-28.3-1.3 66.3-1.4-85.5-1.4 6.6-1.3 51.4-1.4 20.8-1.4-29.3-1.3-21.1-1.4-13.3-1.3 11.2-1.4-3.8-1.4 0-1.3-28.6-1.4 8-1.4 0-1.3 10.3-1.4 10.7-1.3-17.5-1.4 37.4-1.4 0-1.3-30.7-1.4 5.5-1.4-4.7-1.3-13.2-1.4-6.8-1.4-5.4-1.3 32.5-1.4 28.4-1.3-57.8-1.4 41.2-1.4-9.2-1.3 0-1.4-27.8-1.3 146.3-1.4 0-1.4-153.6-1.3 13.5-1.4 36.7-1.4 0-1.3-34-1.4 22.1-1.4 0-1.3 20-1.4-34.9-1.3-3.9-1.4 34.7-1.4-32.3-1.3 9.7-1.4 71.4-1.3 0-1.4-74.5-1.4-25.1-1.3 24.8-1.4 0-1.4-17.3-1.3 29.6-1.4 0-1.4 135.4-1.3 0-1.4-143.8-1.3-17.6-1.4-20.1-1.4-9.2-1.3-.2-1.4-13.5-1.3 11.3-1.4-8.9-1.4-2.1-1.3 22.3-1.4 12.7-1.4 43.8-1.3 1.5-1.4 0-1.4-69.1-1.3 0-1.4-19.4-1.3-3.7-1.4 17.4-1.4 0-1.3 4.2-1.4-8.8-1.3 33.5-1.4-7-1.4-6.6-1.3-17.7-1.4 0-1.4 22.9-1.3 22.4-1.4-18.3-1.3-34.5-1.4 9.1-1.4 1.6-1.3 122.4-1.4 0-1.4-86-1.3 0-1.4-30.3-1.3 1.5-1.4 0-1.4 47.8-1.3 0-1.4-16.8-1.4 16.5-1.3 0-1.4-40.6-1.4-9.1-1.3-2.3-1.4-28.4-1.3 30.5-1.4-16.6-1.4-.4-1.3 25.6-1.4 0-1.3 24.9-1.4-51.1-1.4-9.3-1.3 8.7-1.4 23.5-1.4 0-1.3-11.7-1.4-2.6-1.4 0-1.3-44.7-1.4 43.6-1.3 0-1.4-17.6-1.4 0-1.3-10.1-1.4 26.3-1.3 50.2-1.4-33.4-1.4 28.8-1.3-34.2-1.4 12-1.4 3.7-1.3 13.7-1.4 0-1.4 4.3-1.3 40.7-1.4-15.3-1.3 1.8-1.4-18.1-1.4-33.5-1.3 8.6-1.4 12.4-1.3 0-1.4-11.8-1.4 51.1-1.3-46.2-1.4 22.9-1.4 0-1.3-81.2-1.4 8.2-1.4 11.2-1.3 28.5-1.4 5.3-1.3 0-1.4 9-1.4 34.8-1.3-2.5-1.4 0-1.3-88.2-1.4-8.9-1.4 48.2-1.3-21.6-1.4 54.4-1.4 99-1.3-40.6-1.4-86.8-1.4 3.1-1.3 0-1.4-23.1-1.3 23.5-1.4 0-1.4 42.7-1.3 0-1.4-43.7-1.3-14.9-1.4-7.5-1.4-.5-1.3 15.8-1.4-33.5-1.4 19.2-1.3 0-1.4 34.7-1.4-24.2-1.3 14.2-1.4-37.5-1.3 22.5-1.4 0-1.4-9.8-1.3-19.7-1.4 0-1.3 8.8-1.4 89.2-1.4 15.3-1.3-3.8-1.4-91.6-1.4-3.7-1.3 18.7-1.4 0-1.4-15.8-1.3 0-1.4 30.9-1.3 0-1.4-22.8-1.4 98-1.3-50.5-1.4-50.7-1.3 0-1.4-43-1.4 41.4-1.3-3.1-1.4 95.5-1.4 0-1.3-17.9-1.4-40.5-1.4-25.5-1.3 0-1.4-5.5-1.3 26.1-1.4 42.9-1.4-50.5-1.3-.6-1.4-22.5-1.3-7.7-1.4-1.3-1.4-12.5-1.3 9.5-1.4 9.6-1.4 11.8-1.3-3.3-1.4 60.8-1.4 36.9-1.3-1.3-1.4 0-1.3-129.7-1.4 25.7-1.4 60.8-1.3 38.7-1.4-26.3-1.3-65.9-1.4-9.8-1.4-24.7-1.3-6.2-1.4 53.6-1.4-20-1.3 35.6-1.4 2.1-1.4 26.9-1.3 0-1.4-81.6-1.3 12.3-1.4 15.7-1.4 15.7-1.3 0-1.4-23.8-1.3 9.2-1.4 0-1.4-17.5-1.3-4.3-1.4 0-1.4 10.9-1.3-33.7-1.4 63.3-1.4 0-1.3-11.3-1.4-5-1.3-13.1-1.4 0-1.4 51.2-1.3 0-1.4-90.5-1.3 15.8-1.4 3.4-1.4 12.3-1.3 20-1.4 0-1.4-24.3-1.3 16.6-1.4 0-1.4-21.3-1.3 25.7-1.4 0-1.3-19.6-1.4 161-1.4-87.8-1.3-50.5-1.4-58.8-1.3 22-1.4 185.9-1.4 0-1.3-145-1.4 .2-1.4 0-1.3-31.2-1.4-7.7-1.4 17.4-1.3 0-1.4-33.1-1.3 0-1.4 25.7-1.4-7.8-1.3 0-1.4 49.3-1.3 3.6-1.4 42.9-1.4-8.3-1.3-29.8-1.4 5-1.4-75.6-1.3 42.1-1.4 38.7-1.4-49.5-1.3-18.8-1.4 74.8-1.3-42.9-1.4-58.8-1.4 48.4-1.3-.2-1.4 89.5-1.3 0-1.4-66.1-1.4 0-1.3-46.4-1.4-12.8-1.4-5.4-1.3 32.1-1.4 11.5-1.4-41.2-1.3-2.1-1.4 171.4-1.3 1.3-1.4-133.6-1.4 9.5-1.3 0-1.4-10.2-1.3-10.1-1.4-4.1-1.4-34.2-1.3-3.3-1.4 43.6-1.4 53.8-1.3-8.6-1.4-80.9-1.4 13.5-1.3 15.8-1.4 16.8-1.3 9.3-1.4-34.1-1.4 29.4-1.3 0-1.4-42.5-1.3 18.3-1.4 3.6-1.4-7.1-1.3 0-1.4 40.2-1.4 0-1.3-.3-1.4 68.2-1.4 0-1.3 5.4-1.4-107.5-1.3 0-1.4 10.2-1.4 0-1.3-19.6-1.4 48.3-1.3 0-1.4 12.8-1.4-41.1-1.3-12.6-1.4-13.4-1.4 9.7-1.3 4.3-1.4 8.4-1.4 0-1.3-5.3-1.4-11-1.3-5.3-1.4 16.6-1.4 0-1.3 13.5-1.4 0-1.3-42.2-1.4 5.8-1.4 105-1.3-34.8-1.4 29.3-1.4-51.7-1.3 62.5-1.4 0-1.4-91-1.3 3.1-1.4 6.7-1.3 4.2-1.4-62.2-1.4 49.1-1.3 28.1-1.4 42.9-1.3 0-1.4-31.3-1.4 0-1.3-5.4-1.4 112.6-1.4-9.4-1.3-131.3-1.4-7.9-1.4 0-1.3 70.7-1.4 48-1.3 0-1.4-78.1-1.4 34.7-1.3-54.5-1.4 0-1.3-37.4-1.4-25.4-1.4-3.4-1.3 31.2-1.4 26.3-1.4-48.5-1.3 73.5-1.4 75.5-1.3-51-1.4 0-1.4-41.1-1.3 0-1.4 1.9-1.4 0-1.3-21.7-1.4 9.7-1.3-3.1-1.4-.9-1.4 20.4-1.3 0-1.4-72.8-1.4 9.3-1.3 25.3-1.4 0-1.4 12-1.3 12.4-1.4-7.4-1.3 16.8-1.4 0-1.4-18.2-1.3-34.4-1.4 14.9-1.3 3.2-1.4 12.1-1.4 0-1.3 22.8-1.4 0-1.4 12.6-1.3 0-1.4-32.7-1.4 1.1-1.3 16.8-1.4 9.4-1.3-63.8-1.4 12.4-1.4 35.7-1.3 0-1.4 7.2-1.3 1.2-1.4-8.7-1.4-27.3-1.3 70.6-1.4 0-1.4-60-1.3 15.2-1.4 65.4-1.4-71.5-1.3-10-1.4 25.1-1.3-5.7-1.4-15.5-1.4 0-1.3 1.8-1.4-29.9-1.3-2.4-1.4-13.8-1.4 0-1.3-2.4-1.4 4.7-1.4 0-1.3 43.6-1.4 15.1-1.4 31.9-1.3 0-1.4-47.5-1.3-12.8-1.4 4.5-1.4 0-1.3-5.6-1.4 71.2-1.3 0-1.4-62.3-1.4 74.2-1.3 74.1-1.4 0-1.4-96.4-1.3-21.6-1.4 0-1.3 26.3-1.4 0-1.4-13.3-1.3 0-1.4-1.8-1.4 0-1.3-14.4-1.4 73.4-1.3-51.2-1.4 9.3-1.4-2.9-1.3 19-1.4 46.6-1.4-117.3-1.3 142.4-1.4-131.1-1.4 18.9-1.3-16.1-1.4 3.2-1.3 1.4-1.4 84.7-1.4 29.4-1.3 0-1.4-104.8-1.3 33.9-1.4 28.9-1.4-76.4-1.3-21.4-1.4-7.4-1.4 0-1.3 34.1-1.4-3.5-1.4-23.4-1.3 11.1-1.4 16.1-1.3 4.5-1.4 36.9-1.4-49.9-1.3 40.5-1.4 0-1.3-17.2-1.4-19-1.4-3.5-1.3 44.2-1.4-18.3-1.4-10.3-1.3 17.2-1.4-39.8-1.4 26.1-1.3-20.7-1.4 59.1-1.3 0-1.4-62.4-1.4 14.2-1.3 17.4-1.4 52.3-1.3-30.9-1.4-12.2-1.4 0-1.3-32.6-1.4 5.5-1.4 14.2-1.3 0-1.4-30.2-1.4 7.3-1.3 20.1-1.4 3.1-1.3 0-1.4-9.2-1.4-49-1.3 54.5-1.4-31.5-1.3-6.2-1.4 34.7-1.4 56.3-1.3 17.2-1.4-24.9-1.4-60.4-1.3 9.7-1.4 0-1.3-46-1.4 3.2-1.4 13-1.3-15.3-1.4 46.6-1.4 0-1.3-12.2-1.4-.8-1.3 0-1.4 4.9-1.4-11.5-1.3 26.2-1.4 15.1-1.4 0-1.3-45-1.4 23.7-1.4 0-1.3-21.3-1.4 6.2-1.3-8.3-1.4-20.8-1.4 27.8-1.3 9.7-1.4 4.1-1.3-11.7-1.4-4.1-1.4 5.2-1.3-3.2-1.4 9.9-1.4-31.1-1.3-13.8-1.4 19.6-1.4 30.2-1.3-28.6-1.4-3.2-1.3 0-1.4-4.3-1.4 22.5-1.3 11.2-1.4 0-1.3-15-1.4 0-1.4 11-1.3 0-1.4-38.6-1.4-3.6-1.3 69.8-1.4 38.1-1.4-36.9-1.3-38.2-1.4 0-1.3-25.5-1.4 27.3-1.4-30.3-1.3-29-1.4 0-1.3 0-1.4 0-1.4 0-1.3 0-1.4 0-1.4 0-1.3 0-1.4 0-1.4 0-1.3 0-1.4 0-1.3 0-1.4 0-1.4 0-1.3 0-1.4 0-1.3 0-1.4 0-1.4 0-1.3 0-1.4 0-1.4 0-1.3 0-1.4 0-1.4 0-1.3 0-1.4 0-1.3 0-1.4 0-1.4 0-1.3 0-1.4 0-1.3 0-1.4 0-1.4 83.7-1.3 0-1.4-83.7-1.4 0-1.3-10.1-1.4 0-1.4 0-1.3 0-1.4 0-1.3 0-1.4 0-1.4 0-1.3 0-1.4 0-1.3 0-1.4 0-1.4 0-1.3 0-1.4 0-1.4 0-1.3 0-1.4 0-1.4 0-1.3 0-1.4 0-1.3 0-1.4 0-1.4 0-1.3 0-1.4 0-1.3 0-1.4 0-1.4 0-1.3 0-1.4 0-1.4 0-1.3 0-1.4 0-1.4 0-1.3 0-1.4-12-1.3 0-1.4 13.4-1.4 0-1.3 0-1.4 0-1.3 0-1.4 0-1.4 167.5-1.3 0-1.4 491.2-1.4 0-1.3 0-1.4 0-1.4 0-1.3 0-1.4 0-1.3 0-1.4 0-1.4 0-1.3 0-1.4 0-1.3 0-1.4 0-1.4 0-1.3-82.5-1.4 0-1.4 0-1.3 0-1.4 0-1.4 0-1.3 82.5-1.4 0-1.3 0-1.4 0-1.4 0-1.3 0-1.4 0-1.3 0-1.4 0-1.4 0-1.3 0-1.4 0-1.4 0-1.3 0-1.4-82.5-1.4 0-1.3 0-1.4 0-1.3 0-1.4 0-1.4 0-1.3 0-1.4 0-1.3 0-1.4 0-1.4 0-1.3 0-1.4 0z" fill="#ffff33" fill-opacity="0.2"/><path d="M199.9 812l.7 0 .7 0 .6 0 .7 0 .7 0 .7 0 .7 0 .7 0 .6 0 .7 0 .7 0 .7 0 .7 0 .6 0 .7 0 .7 0 .7 0 .7 0 .6 0 .7 0 .7 0 .7 0 .7 0 .6 0 .7 0 .7 0 .7 0 .7 0 .7 0 .6 0 .7 0 .7 0 .7 0 .7 0 .6 0 .7 0 .7 0 .7 0 .7 0 .7 0 .6 0 .7 0 .7 0 .7 0 .7 0 .6 0 .7 0 .7 0 .7 0 .7 0 .6 0 .7 0 .7 0 .7 0 .7 0 .6 0 .7 0 .7 0 .7 0 .7 0 .7 0 .6 0 .7 0 .7 0 .7 0 .7 0 .6 0 .7 0 .7 0 .7 0 .7 0 .7 0 .6 0 .7 0 .7 0 .7 0 .7 0 .6 0 .7 0 .7 0 .7 0 .7 0 .6 0 .7 0 .7 0 .7 0 .7 0 .6 0 .7 0 .7 0 .7-589.7 .7 0 .7 0 .6 0 .7 0 .7 0 .7 449 .7 0 .6 0 .7 0 .7 0 .7 0 .7 0 .7 0 .6-442.3 .7 0 .7 0 .7 0 .7 0 .6 0 .7 0 .7 0 .7 0 .7 0 .6 0 .7 0 .7 0 .7 0 .7 0 .6 0 .7 0 .7 0 .7 0 .7 147.4 .7 0 .6 46.9 .7 0 .7 0 .7 0 .7 0 .6 0 .7 0 .7 0 .7 0 .7 0 .7 0 .6 0 .7 0 .7 0 .7 0 .7-73.7 .6 0 .7-106.4 .7-10.3 .7 .1 .7-7.4 .6 9 .7 19.4 .7-30 .7 3.5 .7 0 .6 .1 .7 11.6 .7 0 .7-39 .7 .1 .7 5 .6 .1 .7 41.1 .7-26.4 .7 .1 .7 0 .6 3.8 .7 0 .7 .1 .7 26.8 .7-24 .7 14 .6-15.4 .7 12 .7 0 .7 .1 .7-9.6 .6-1.7 .7 .1 .7 10 .7-5.5 .7 6 .6-13.6 .7 .1 .7-1.4 .7 28.7 .7-37.5 .6 32.1 .7-8.4 .7 0 .7 .1 .7-12.2 .7 15.2 .6 .1 .7-.8 .7 47.5 .7 24.6 .7-76.1 .6-8.3 .7 .1 .7 0 .7 32.5 .7 0 .7 0 .6-7.5 .7-30.4 .7-1.9 .7 0 .7 8.7 .6 .1 .7 3.6 .7-5.7 .7 7.8 .7-12.4 .6 24.9 .7 .1 .7-4.7 .7 1.8 .7-20.6 .6 .1 .7 .2 .7 0 .7-3.9 .7 0 .7 11.4 .6-.4 .7 33.5 .7-43.2 .7 27.8 .7 .1 .6 2.2 .7-2.8 .7 0 .7-30 .7 0 .7 19.1 .6-21.8 .7 24.4 .7 16.9 .7-32.9 .7 0 .6 15.3 .7-12.9 .7 0 .7 19.7 .7 3.6 .6-18.4 .7 0 .7 .1 .7-13.6 .7-5.6 .6 .1 .7 7.9 .7 2.5 .7 2.6 .7-5.3 .7 21.5 .6-21.1 .7-12.7 .7 52.9 .7-17.7 .7-20.9 .6-3.9 .7 13.6 .7 9.7 .7-31.9 .7 47.2 .7 0 .6-20 .7 12.5 .7 .1 .7-15.5 .7 0 .6-12.9 .7 .1 .7 0 .7 16.1 .7-8.1 .6 0 .7 .1 .7 4.1 .7 0 .7 0 .6-17.1 .7 0 .7 13.1 .7-1.7 .7 0 .7 12.4 .6-28.9 .7 0 .7 26.8 .7-9.4 .7 0 .6 .1 .7 16.7 .7-17.6 .7 .1 .7 0 .7 20.2 .6 5.6 .7-20.6 .7 0 .7-1.9 .7 20.7 .6-27 .7 0 .7 40.4 .7 0 .7-22.8 .6 0 .7 0 .7 2.2 .7-18.5 .7 0 .6 0 .7 25 .7-22.5 .7 .1 .7 27.4 .7 0 .6-22.2 .7 2.4 .7 71.3 .7-71 .7 .1 .6-6.9 .7-30.6 .7 .1 .7 0 .7 27.8 .7 .1 .6-4.1 .7 18.2 .7 6.7 .7-6 .7-.5 .6 6.7 .7 21.8 .7 6.7 .7 6.7 .7 .2 .6 6.7 .7-25.2 .7 10.1 .7 48.7 .7 10.1 .6 19.1 .7 14.7 .7 67.8 .7-108.4 .7 51.9 .7 10.1 .6 10 .7 1 .7-3.3 .7 1.3 .7 1.4 .6-1.4 .7-27.9 .7 2.3 .7 12.4 .7 1.4 .7 80.5 .6 1.4 .7 1.3 .7-76.8 .7 39.6 .7-17.7 .6-.3 .7-14.8 .7 40.5 .7-32.3 .7-.3 .6 19.1 .7-15.9 .7-.4 .7-11.8 .7-.3 .7-.4 .6 32.9 .7-62.8 .7-.3 .7 19.2 .7 27.6 .6 18.8 .7-.1 .7 31.2 .7 31.3 .7-.6 .6 56.4 .7-29.3 .7-3.2 .7-42.3 .7 2.5 .7 2.5 .6 68.9 .7-37.3 .7-40.2 .7-40.2 .7-62 .6-1 .7-9.5 .7-16.9 .7-9.6 .7-22.8 .6-9.5 .7 30.3 .7-9.6 .7-11.7 .7 .6 .6 .2 .7 6.6 .7-55.1 .7 27.3 .7-13.7 .7 22.3 .6 .6 .7 .6 .7 14.6 .7-28.9 .7 34.3 .6 39.1 .7-45 .7 3.4 .7-2.6 .7 3.3 .7 43.5 .6 3.4 .7-17.5 .7 43 .7 3.4 .7-92.1 .6 107.8 .7 4 .7-14.7 .7-25.6 .7 2.8 .6 38.9 .7-79.7 .7 47 .7 27.3 .7-14.8 .6 4 .7 1 .7-20.6 .7 82.6 .7 4 .7 4 .6-56.7 .7 24.1 .7 71.8 .7 19.4 .7-7.2 .6 34 .7 4 .7-40.6 .7-3.7 .7 44.8 .7 6.3 .6-17.4 .7 4.1 .7 7.3 .7 49.8 .7-.9 .6-.9 .7-36.7 .7-.9 .7 69.7 .7-104.2 .6-.1 .7 63.3 .7-.9 .7-.9 .7 15.9 .6-83.4 .7 8.3 .7 27.6 .7-.9 .7-25.1 .7-2.4 .6-2.4 .7-5.8 .7 63 .7-79.8 .7-2.4 .6-2.5 .7 24.7 .7 36.6 .7-2.4 .7-41.9 .7-108.6 .6 25.4 .7-88.6 .7 25.1 .7-29.4 .7-49.7 .6-12.6 .7 31.1 .7 8.9 .7-83.8 .7-12.6 .6-2.2 .7 27.8 .7 36.4 .7-2.3 .7-16.2 .6-2.3 .7-20.7 .7-2.2 .7-15.8 .7 5.5 .7-2.3 .6-2.2 .7 17.1 .7-8 .7-6.4 .7 .1 .6-5.2 .7 32.8 .7-46.5 .7 .1 .7 23.6 .7 22.3 .6-33.8 .7 0 .7 90.1 .7 4.7 .7-90.1 .6 14.1 .7 .1 .7 7 .7 0 .7-9.9 .6 .1 .7-9 .7 22.3 .7 0 .7-5 .7 .1 .6-12.8 .7-5.1 .7 0 .7 0 .7 10 .6-4.9 .7 22.6 .7-17.3 .7-17.7 .7 0 .6 2.8 .7 .1 .7 14.8 .7-18.4 .7 25.4 .7-16.5 .6 .1 .7 16.7 .7 .1 .7-11 .7-6.7 .6 0 .7 7.2 .7-6.6 .7 0 .7 13.8 .6 .1 .7 8.2 .7 0 .7 0 .7-4.4 .6-9.6 .7 14.5 .7-21.6 .7-15.4 .7 0 .7 2.4 .6 21.1 .7 14.9 .7-16 .7 0 .7-14.2 .6 34.7 .7-44.1 .7 21.7 .7 .1 .7-16.3 .7 1.1 .6 33.3 .7 0 .7 14.6 .7-41.4 .7 37.8 .6 0 .7 0 .7 3.9 .7-43.6 .7-16.1 .6 0 .7 13.6 .7 18.3 .7 0 .7-12.2 .6-11.1 .7 44 .7-36.7 .7 0 .7 34.6 .7-49 .6 0 .7 47.2 .7-48.4 .7 0 .7 30.3 .6-22.3 .7 23.9 .7 38.2 .7-22.5 .7-38.2 .7 11 .6 31.9 .7-5.5 .7 .1 .7 1.4 .7-25 .6 .1 .7 5.1 .7 20.3 .7 .1 .7 2.9 .6-25.2 .7 0 .7-14.4 .7 43 .7-30.6 .6 10.2 .7 .1 .7-9 .7 0 .7-.7 .7 0 .6-2.9 .7 11.9 .7 5 .7-10.2 .7-3 .6-26.4 .7 0 .7 23.2 .7 0 .7 42.6 .7 0 .6-21.5 .7 .1 .7-47.4 .7 0 .7 .1 .6 42.2 .7 25.6 .7-8.5 .7 .1 .7-22.2 .6 15.4 .7 0 .7 9.3 .7-50.1 .7 8 .6 29.7 .7-2.4 .7-27.3 .7 34.6 .7-36.6 .7 38.6 .6 .1 .7-18.5 .7 2.6 .7 0 .7-11.7 .6 35 .7-31.8 .7 9.7 .7 0 .7 0 .7-36.1 .6 41.6 .7 1.5 .7-36.4 .7 0 .7 30.4 .6 3.8 .7-13.9 .7 0 .7 4.8 .7 .1 .6-1.7 .7-2.2 .7-2.3 .7 .1 .7 0 .7-5 .6 17.2 .7-11.1 .7 .1 .7 5.8 .7 7.7 .6-35.4 .7 59.6 .7 20.3 .7 7.7 .7 17.4 .6-19.1 .7-.6 .7 38.4 .7 18.7 .7 23.7 .7 22.9 .6-57.2 .7 76.9 .7 1 .7-101.7 .7 105 .6-91.4 .7 1 .7 70.3 .7 1.1 .7-36.6 .6 11 .7 1 .7 21.1 .7 1 .7-38.7 .6 79.2 .7-99.2 .7 66.8 .7 1.1 .7-1.4 .7 1.1 .6 1 .7 56.9 .7-79.5 .7 28.4 .7-4.6 .6 13.4 .7 28.5 .7-81.2 .7 80.2 .7 1 .7-20.2 .6 1 .7-44.4 .7 27.2 .7 32.1 .7 5.2 .6-12.3 .7 3.6 .7-1.1 .7-9.4 .7 25 .6-4 .7-10 .7 73.9 .7 3.6 .7-15.8 .6 3.5 .7-85 .7 52.7 .7-3.5 .7 25 .7 29.3 .6-60.2 .7-14 .7 3 .7-16.2 .7 106.9 .6 3 .7-2.5 .7-47.9 .7-31 .7-2.6 .7-2.6 .6 75.3 .7-2.6 .7-2.6 .7-17.5 .7-61.7 .6-2.5 .7 75.2 .7-155.8 .7-14.5 .7 108.8 .6-14.5 .7-68.7 .7 55.5 .7-14.5 .7-20.1 .6 .6 .7-1.9 .7 1 .7-24.9 .7-33.1 .7 93.4 .6 .6 .7-8.8 .7-126.6 .7 43.9 .7 18 .6 31.5 .7 .6 .7 65.3 .7-101.3 .7 .6 .7 58.7 .6-14.6 .7-7.1 .7-27.5 .7 .6 .7 17.9 .6 1.5 .7-24.3 .7 42.8 .7-51.1 .7 82.8 .6 1.5 .7-43.1 .7 1.5 .7 7.9 .7 1.5 .6-30.7 .7 1.5 .7 18.9 .7 34.2 .7-25.9 .7 1.5 .6 31 .7 10.8 .7-41.1 .7-14.1 .7 16.5 .6 3.3 .7 2 .7-66.1 .7 2 .7 45.9 .7 2 .6 50.7 .7 2 .7-40.9 .7 2 .7 34.7 .6-11.8 .7 2 .7 53.4 .7-83.3 .7 67.9 .6 17.8 .7-72.4 .7-13.4 .7 12.8 .7-36.8 .6 22.9 .7-6.2 .7 21 .7-6.3 .7-6.2 .7-109 .6-6.3 .7 35.3 .7-6.2 .7-6.2 .7-41 .6-6.2 .7 6.7 .7-6.2 .7-6.2 .7 36 .7 .4 .6 28.7 .7 .4 .7-43.5 .7 .4 .7-5.2 .6-.9 .7-17.4 .7 .4 .7 15.8 .7 53.2 .6 .4 .7-4.7 .7-18.5 .7-16.9 .7-25.8 .6 24.3 .7 .4 .7-16.1 .7 41.3 .7 .4 .7 28.5 .6 .3 .7-48 .7-27.6 .7 56.5 .7 44 .6 .4 .7-37.3 .7-43.2 .7-26.8 .7 45.4 .7 .4 .6-11.2 .7 28.5 .7-32.5 .7 20.5 .7-8.6 .6 5 .7 24.3 .7-39.8 .7 49.7 .7-38.8 .6 2.7 .7 6.6 .7 .6 .7 9 .7 16.5 .6 .6 .7-1.3 .7 .5 .7-17.9 .7 61.3 .7 .5 .6 16.3 .7-65.6 .7 .5 .7-26.8 .7-44.2 .6-22.1 .7-24.5 .7 25.7 .7-22.2 .7 .1 .7 26.6 .6-40.2 .7 .1 .7 25.8 .7-30.5 .7 17.9 .6-5.9 .7-3.8 .7 8.5 .7 .1 .7 8 .6-16.5 .7 31.9 .7 41.6 .7-62.6 .7 .1 .6-9.9 .7 .1 .7 20.5 .7 0 .7-9.7 .7 8 .6-25.7 .7 20 .7 14.6 .7 0 .7-2.6 .6 .1 .7 17 .7 .1 .7 0 .7-15.5 .7 0 .6-51.2 .7 52.6 .7-19.1 .7-8.8 .7 21.5 .6-15.2 .7 33.1 .7-32.5 .7 17.7 .7-18.7 .6 9.8 .7 22 .7 1.9 .7 68.6 .7 .1 .6-95.2 .7 .1 .7 36 .7 .9 .7-32.4 .7 .1 .6 0 .7-8.8 .7 .1 .7 25 .7-8 .6-13.9 .7 4.7 .7 1.2 .7-36.8 .7 48.7 .7-18.1 .6 .1 .7 0 .7-3.3 .7 1.9 .7 10.9 .6-11.3 .7 0 .7 36.4 .7 14.8 .7-10.7 .6-34.3 .7 .1 .7 28.1 .7-13.6 .7-37.6 .6 0 .7 .1 .7 12.8 .7 0 .7-.2 .7 .1 .6-26.6 .7 0 .7 53.5 .7 .1 .7 80.9 .6-8.8 .7-104.7 .7 30.7 .7 0 .7-38.3 .7 7.6 .6 .1 .7 0 .7 33.2 .7 .1 .7-15.2 .6 .1 .7-5.6 .7 .1 .7 0 .7 7.7 .6-3.8 .7 .1 .7 0 .7-8 .7 10.5 .6 .1 .7 0 .7 37.8 .7-34 .7 0 .7-19.6 .6 23.5 .7-24.4 .7 23.2 .7-6.8 .7 .1 .6 0 .7 7 .7 19.6 .7 0 .7 7.2 .7-36.4 .6-6.4 .7 6 .7-4.4 .7-2 .7-7.1 .6 0 .7-26.6 .7 9.4 .7 46.8 .7 9.4 .6 9.4 .7 18.7 .7-14.1 .7 84.9 .7-3.2 .6-23.3 .7 14.4 .7-16 .7 40.4 .7 15.7 .7 14.9 .6-17.2 .7 1.9 .7 49 .7-45.9 .7 19.2 .6 2 .7 5.7 .7-61.6 .7 46.9 .7-16.3 .7 1.9 .6 51.4 .7 2 .7-29.7 .7 21.8 .7 1.9 .6-38.8 .7 1.9 .7 2 .7 35.9 .7 14.7 .6-.6 .7-.5 .7-22.4 .7-16 .7-.5 .6 44.4 .7-14.7 .7-18.7 .7-.5 .7-15.4 .7 30.4 .6 26 .7-87.4 .7-.6 .7 37.3 .7-.6 .6 44.1 .7-.5 .7-40.2 .7-.6 .7 12.6 .7-.5 .6-21.3 .7 8.4 .7-35.7 .7-5.8 .7-39.6 .6 39.9 .7-5.9 .7-5.8 .7 63.6 .7-87.3 .6-5.2 .7-6.8 .7-32.8 .7-55.7 .7-32.9 .6 5.3 .7 3.6 .7 .1 .7 3 .7-15.1 .7 0 .6 5.7 .7 25.8 .7 .1 .7-29.5 .7 8.3 .6 .1 .7-2.6 .7 .1 .7 20.6 .7 0 .7 4.4 .6-23.5 .7-2.3 .7 13.8 .7 .1 .7-19.7 .6 .1 .7 4.7 .7 9.2 .7 0 .7-9.2 .6 .1 .7-16.7 .7 36.7 .7 .1 .7-2.9 .6-42 .7 28.7 .7-6 .7 .1 .7-3.5 .7 0 .6 0 .7 18.7 .7 4.9 .7 0 .7-16.7 .6-6.3 .7 0 .7 8.4 .7 5.7 .7 0 .7-2.8 .6 .1 .7 22.4 .7 .1 .7 0 .7-27.9 .6 12.9 .7-6.6 .7 0 .7 9.3 .7 .1 .6 0 .7-47.2 .7 49.9 .7 0 .7-8.3 .6 6.6 .7 16.4 .7-32.6 .7 .8 .7 23.5 .7-25.5 .6 66.3 .7 43.5 .7 43.6 .7 20 .7 1.2 .6 19.3 .7-27.6 .7 29.2 .7 1.2 .7-18.9 .7 1.2 .6 28.5 .7-31.2 .7 36.3 .7 1.2 .7-38.7 .6-64.8 .7-32.9 .7 17.5 .7-86 .7 27.6 .6 6.2 .7 35.5 .7-54 .7 .1 .7-7.4 .6 .1 .7 28.7 .7 .1 .7-22 .7 27.9 .7-21.9 .6 0 .7 1 .7 .1 .7 .1 .7-6.9 .6 9.2 .7 17 .7-34.8 .7-3.4 .7 0 .7 25.4 .6-8.2 .7 0 .7-15.5 .7 0 .7 6.1 .6 25.6 .7 61.3 .7-88.5 .7 0 .7 15.2 .6 4.5 .7 24.6 .7-26.1 .7-11.5 .7 .1 .6 12 .7 .1 .7-14.2 .7 .1 .7 24.2 .7 0 .6-9 .7 6 .7 8.2 .7 .1 .7-5.7 .6-51.7 .7 48.2 .7-10 .7 5.3 .7 .1 .7 16.4 .6-25.4 .7 .1 .7 1.9 .7 2.2 .7-18.2 .6 .1 .7 .1 .7-6.2 .7 0 .7 23.1 .6 14.8 .7 0 .7-21.6 .7-8.7 .7 .1 .6 .1 .7 5.8 .7 12.2 .7 .1 .7 0 .7 5.4 .6 .1 .7 23.4 .7 .1 .7-26.7 .7-21 .6 .1 .7 0 .7 18.3 .7 .1 .7 28.5 .7-34 .6 4.2 .7 18.4 .7-32.6 .7 17.8 .7-9.9 .6 .1 .7 106.7 .7 0 .7-28.9 .7-74.9 .6 .1 .7 7.9 .7-1.3 .7 6.2 .7 22 .6 0 .7-1.1 .7-30.1 .7 7.2 .7-10.5 .7 0 .6-20 .7 80.3 .7 .1 .7-71.7 .7 33.8 .6 28.1 .7 0 .7-61 .7 0 .7 28.3 .7-13.3 .6-2.5 .7 .1 .7 7.2 .7 .1 .7-30 .6 44 .7 0 .7 .1 .7 7.6 .7 0 .6 1 .7-41.3 .7-6.5 .7 36.7 .7 0 .7 .1 .6-9.9 .7 .1 .7 .1 .7-1 .7-18.7 .6 .1 .7 3.5 .7-10.3 .7 8.6 .7-4.7 .6 4.5 .7 43.3 .7-54.9 .7 .1 .7 27.9 .7 15 .6 4.2 .7-8.4 .7-14.8 .7 21.8 .7 .1 .6-11.3 .7 0 .7 .2 .7 0 .7 .1 .6 2.6 .7 .1 .7 .1 .7-20.2 .7 52.4 .6-45.1 .7 0 .7 17.1 .7-12.9 .7 6 .7-24.8 .6 0 .7 39.2 .7 0 .7-9.8 .7-21.2 .6 20.1 .7 10.5 .7 .1 .7-22.2 .7 21.4 .7 15.1 .6-2.3 .7 30.8 .7-1.6 .7 3.9 .7 4.6 .6 2.2 .7-1.5 .7 14.3 .7 24.2 .7 2.2 .6-26.8 .7 2.3 .7-14.2 .7 24.4 .7 6.8 .6 2.2 .7 33.5 .7-14.3 .7-14.2 .7-65.4 .7 12.9 .6-14.2 .7-14.3 .7 9.9 .7-14.3 .7-4.8 .6-13 .7 4.3 .7 13 .7 5.7 .7-18.9 .7 5.8 .6 31.5 .7-5.5 .7 27.9 .7 5.7 .7-.8 .6 5.7 .7 5.8 .7 8.7 .7-2.6 .7-23.5 .6 1.4 .7-18.2 .7-2 .7-1.9 .7-3.1 .6-7.8 .7-14.1 .7-10.6 .7 22.2 .7-10.6 .7-2.4 .6 0 .7 0 .7-36 .7 35.9 .7-38.1 .6-1.1 .7 9.5 .7 .1 .7 22 .7 1.9 .7 0 .6-13.3 .7 .2 .7 0 .7 0 .7-6.2 .6-16.1 .7 31.2 .7 .1 .7 23.2 .7-17 .6 0 .7 3.5 .7-24.2 .7 0 .7 18 .6-5.4 .7 .1 .7 0 .7 4.5 .7-18.5 .7 6.6 .6-2.3 .7 0 .7 0 .7 2.1 .7-24 .6 34.2 .7-21.7 .7 17.1 .7 0 .7 0 .7 8.7 .6 0 .7-1.2 .7-6.1 .7-24.1 .7 27.1 .6-26.6 .7 20.3 .7 0 .7 12.2 .7 .1 .6-52.7 .7 36.8 .7 0 .7 3.1 .7 0 .7 21.4 .6-13.6 .7-16.5 .7-2 .7 0 .7 .1 .6 16.1 .7-3.9 .7 16.8 .7 0 .7-21.5 .6 31.1 .7 0 .7 0 .7-13.5 .7 .1 .7-5.6 .6 0 .7 7.3 .7 0 .7-25.9 .7 .1 .6 73.9 .7-15.7 .7-49.3 .7 0 .7-23.2 .6 36.6 .7-21.9 .7 0 .7 0 .7 26.7 .6-32 .7 14.7 .7-.3 .7 0 .7 .4 .7 0 .6-7.7 .7 38.2 .7 0 .7-4.9 .7-25.9 .6-10.2 .7 17.8 .7 0 .7-16.2 .7 16.1 .7 0 .6-1.6 .7 0 .7 0 .7-11.4 .7 26.7 .6 0 .7 3.7 .7 0 .7-3 .7-56.4 .6 70.8 .7 .1 .7 0 .7-6.1 .7 0 .6-50.7 .7 0 .7 50.6 .7 0 .7-10.8 .7-6.6 .6 0 .7-42 .7 36.1 .7-3.4 .7 2.6 .6-16.3 .7 3.7 .7 24.3 .7-43.3 .7 0 .7 25.4 .6 0 .7 0 .7 13.3 .7-19 .7-11.1 .6 0 .7 2.2 .7 4.2 .7 11.1 .7 0 .6 0 .7 4.4 .7-29.1 .7 0 .7 0 .7 2 .6 23.1 .7 10.9 .7-18.7 .7-6.3 .7 27.3 .6 0 .7-6.8 .7-5.3 .7 0 .7-17.9 .6 39.4 .7-21.5 .7 57.4 .7 21.4 .7-2.4 .7-34.1 .6-56.2 .7 15.1 .7-4 .7 0 .7-46.8 .6 0 .7 49.3 .7 22.3 .7 .1 .7-46.3 .6 29.8 .7-16.4 .7 0 .7 0 .7 15.9 .7 13 .6-34.7 .7 0 .7 4.6 .7 0 .7 7.7 .6 3.2 .7 0 .7 21 .7-40.1 .7 .1 .6 13.9 .7 0 .7 35.6 .7 .1 .7-54.3 .7 43.4 .6-17.1 .7 0 .7 1.2 .7 2.6 .7 0 .6-4.5 .7 9.1 .7-3.1 .7-8 .7-3.2 .6 0 .7-23.3 .7 31.8 .7 0 .7 0 .7-22.6 .6 39.5 .7-.5 .7 0 .7-32.3 .7 33.1 .6-46.3 .7 32.2 .7 15.2 .7-23.8 .7-25.5 .6 47.7 .7-4.9 .7 0 .7-32.8 .7 6 .7 19.5 .6-12.9 .7 1.1 .7-13.6 .7-11.8 .7 38.2 .6 0 .7 2 .7-22.9 .7 29.5 .7-10 .6 0 .7 8.6 .7-33.9 .7 30.9 .7 0 .6-10.6 .7 2.2 .7 0 .7 0 .7-49 .7 74 .6-41.7 .7 17.9 .7 7.1 .7-20.5 .7 23.3 .6 0 .7-34.3 .7 0 .7 5.8 .7 9.2 .7 0 .6-8.4 .7 0 .7 18.2 .7-26.4 .7 45.9 .6-41.9 .7 24.2 .7 0 .7-8.6 .7 6.5 .6-19.8 .7 41.1 .7-30.6 .7 11.7 .7-34.5 .6 0 .7 4 .7 0 .7 9 .7 0 .7 0 .6 26.4 .7 14.5 .7 0 .7 12.1 .7-12.3 .6 22 .7-18 .7 12.1 .7 25.6 .7 10.3 .7-38.8 .6 .8 .7 44.7 .7 .8 .7 .8 .7-50.2 .6 75.4 .7-57.4 .7 7.5 .7 .8 .7-5 .6 13.4 .7-10.6 .7 .8 .7 2.7 .7 22.1 .7 .8 .6-10.4 .7 .8 .7 20.9 .7-50.8 .7 22.1 .6 .8 .7 21.9 .7-11.9 .7-29.7 .7 20.7 .6 18.6 .7-19.8 .7 2.3 .7-.9 .7 14 .7-37.8 .6 18.7 .7-.9 .7-.9 .7 5.7 .7-.9 .6-17.5 .7 21.5 .7-29.6 .7 21.3 .7 7.4 .6 28.9 .7-33.6 .7-10.1 .7-10 .7-22.7 .7-10 .6-.3 .7-10.1 .7-46.2 .7 46.3 .7 0 .6-2 .7 16.9 .7 0 .7-22.3 .7-22.2 .6 13.2 .7 .3 .7 0 .7 19.5 .7 0 .7 0 .6 10.9 .7 0 .7-13.8 .7-17.6 .7 15.1 .6 0 .7 0 .7-23.4 .7 53.9 .7 0 .6-34.8 .7 22.1 .7-17.7 .7-5 .7 22.7 .7-30.8 .6 0 .7 30.6 .7-26.4 .7 .1 .7 12.2 .6-15.1 .7 .6 .7 0 .7-8.8 .7 0 .6 32.6 .7-28 .7 1.7 .7 0 .7 0 .7 .1 .6-8.5 .7 20 .7-19.9 .7 3.2 .7 20 .6 .1 .7 2.9 .7-25.9 .7 24.5 .7 1.1 .6-8.5 .7 2.9 .7 0 .7-7.1 .7 25.2 .6-14.3 .7-12.2 .7 1.2 .7 5.9 .7 0 .7-7.3 .6 0 .7 .1 .7-10.8 .7 .1 .7 0 .6 9.4 .7 9.7 .7-34.9 .7 70.7 .7 0 .7-26.3 .6-28 .7 26.1 .7-13.8 .7-11.5 .7 0 .6-.7 .7 22.7 .7-.6 .7-2.8 .7 0 .6 0 .7-23.4 .7 0 .7 41.3 .7 0 .6 0 .7-30 .7-8.1 .7 3.1 .7 .1 .7 0 .6 57.9 .7-44.2 .7-7.9 .7 35.8 .7-1.1 .6-11.6 .7-20.8 .7-9.6 .7 0 .7 3.2 .7 40.2 .6 2.5 .7-39.1 .7-4.4 .7 42.8 .7 .1 .6-22.1 .7 0 .7 .1 .7-15.8 .7 0 .6 11.4 .7 0 .7-30.5 .7 40.7 .7-2.1 .7 0 .6 0 .7-6.7 .7-22 .7 .1 .7 1.4 .6 0 .7 2.6 .7 0 .7 0 .7-6.2 .6 .1 .7 32.3 .7-29.2 .7 .1 .7-6.3 .7-14 .6 38.1 .7-9.2 .7 9.2 .7 0 .7 9.3 .6-23.5 .7 .1 .7 17.7 .7-7.9 .7 .1 .6 29.7 .7-65.7 .7 0 .7 63.6 .7 0 .7-18.3 .6 0 .7-16 .7 0 .7 51.7 .7-50.7 .6 0 .7-6.4 .7 30.9 .7-15.3 .7 44.3 .6 12.8 .7-50.8 .7-11 .7 21.2 .7-45.5 .7 0 .6 22.9 .7 12.6 .7 43.5 .7-20.1 .7-43 .6-6.3 .7 0 .7 27.5" fill="none" stroke="#377eb8" stroke-width="3.5" stroke-linejoin="round"/><path d="M199.9 812l.7 0 .7 0 .6 0 .7 0 .7 0 .7 0 .7 0 .7 0 .6 0 .7 0 .7 0 .7 0 .7 0 .6 0 .7 0 .7 0 .7 0 .7 0 .6 0 .7-214.4 .7 0 .7 0 .7 0 .6 0 .7 0 .7 0 .7 0 .7 0 .7 0 .6 0 .7 0 .7 0 .7 0 .7 0 .6 0 .7 0 .7 0 .7 0 .7 0 .7 0 .6 0 .7 0 .7 0 .7 0 .7 0 .6 0 .7 0 .7 0 .7 0 .7 0 .6 0 .7 0 .7 0 .7 0 .7 0 .6 0 .7 0 .7 0 .7 0 .7-181 .7 0 .6 0 .7 0 .7 0 .7 0 .7 0 .6 0 .7 0 .7 0 .7 181 .7 0 .7 0 .6 0 .7 0 .7 0 .7 0 .7 0 .6 0 .7 0 .7 0 .7 0 .7 0 .6 0 .7 0 .7 0 .7 0 .7 0 .6 0 .7 0 .7 0 .7 0 .7 0 .7 0 .6 0 .7 0 .7-214.5 .7 0 .7-160.8 .6 0 .7 13.4 .7 0 .7 0 .7 0 .7 0 .6 0 .7 0 .7 0 .7 0 .7 0 .6 0 .7 0 .7 0 .7 0 .7 0 .6 0 .7 0 .7 0 .7 160.8 .7 0 .6 0 .7 0 .7 0 .7 0 .7 0 .7 0 .6 0 .7 0 .7-197.6 .7 0 .7 0 .6 0 .7 0 .7 0 .7 0 .7 0 .7 0 .6 0 .7 0 .7 0 .7 0 .7 0 .6 0 .7 0 .7 0 .7 83.7 .7 0 .6-97.5 .7 .1 .7 6.4 .7 0 .7 .1 .6 10.7 .7 .1 .7 .1 .7-3.4 .7-18.6 .7 2.5 .6 .1 .7 5.3 .7 2.7 .7 .1 .7-6.9 .6 103.4 .7-93.1 .7-9.1 .7 0 .7 .1 .7-6.8 .6 0 .7 76.7 .7-1.2 .7-65.7 .7 .1 .6 7.6 .7-12.5 .7 2.6 .7 9.2 .7 81.7 .6-84.6 .7 2.6 .7 2.2 .7 3.8 .7-20.2 .6 .1 .7 .1 .7-4 .7 .1 .7 7.4 .7 .1 .6 8.4 .7-7.8 .7 0 .7 16.6 .7-.8 .6 .1 .7-.9 .7 .1 .7-8.9 .7 3 .7-2.7 .6 .2 .7 1.6 .7 .2 .7-5.4 .7 .2 .6 5.6 .7 .2 .7-2 .7-6.1 .7 .2 .6 10.7 .7-.5 .7 .2 .7 5.5 .7 .2 .6 .2 .7-2.4 .7-4.1 .7-19.1 .7 27.1 .7-11.5 .6 .2 .7 5.5 .7-1.6 .7-14.5 .7 .3 .6 1.4 .7 12.7 .7 50.4 .7-41.2 .7 .2 .7 .9 .6 .2 .7-8.1 .7 .3 .7 9.7 .7 71.6 .6 11.8 .7-86.1 .7 .3 .7-9.1 .7 .2 .6 .2 .7 5.9 .7 .8 .7-9.6 .7 15 .6-7.9 .7-1.5 .7 6.4 .7 6.2 .7-2.6 .7 .2 .6 .5 .7 .2 .7-4.7 .7-2.3 .7 .2 .6 105.6 .7 111.6 .7 4.8 .7-2.8 .7-37 .7 49.3 .6-7.7 .7 1 .7-11.6 .7 11.4 .7-23.1 .6 43.9 .7-22.5 .7 21.9 .7 1 .7 1 .6-55 .7 1.1 .7 29 .7 1 .7 19.1 .6-6.7 .7-14.7 .7 30.5 .7 11.3 .7-43 .7 1.3 .6 32.7 .7-21.6 .7 1.3 .7-1.6 .7 36.7 .6 1.2 .7-10.3 .7 1.3 .7 1.2 .7 4.7 .7-18.8 .6-71.5 .7-44.6 .7-71.4 .7 .3 .7-17.9 .6 5.7 .7 19.6 .7-8.8 .7-22.2 .7 .3 .6 20.2 .7-22.2 .7 .3 .7 17.6 .7-5.8 .6 6.1 .7-20.3 .7 .3 .7 6.6 .7 .4 .7-4.5 .6 .4 .7 .3 .7-11.1 .7 .3 .7 .8 .6 .3 .7 4 .7-11.4 .7 33.4 .7-4.1 .7 .3 .6-23.9 .7 .3 .7 .3 .7 11.7 .7-15.2 .6 .3 .7 51.9 .7 .3 .7 .3 .7-32.8 .6 .4 .7-17.4 .7 44.3 .7 4 .7 9.5 .6 4 .7-12.1 .7-30.3 .7 4 .7 4.1 .7 18.1 .6 40.9 .7 4 .7 52.5 .7 4 .7 4 .6-85.4 .7 54.4 .7-98.3 .7 108.6 .7-57.7 .7 76.8 .6-40.6 .7 .9 .7 .9 .7 26.9 .7-33.5 .6-18.4 .7 .9 .7-4.4 .7 74.1 .7 .9 .6-30 .7-37.2 .7 45.2 .7-13.9 .7 .9 .7 17.9 .6-17.9 .7 22.8 .7-15 .7-23.9 .7 .9 .6-9.3 .7 .9 .7 11.9 .7 48.4 .7 .9 .6-58.8 .7 16.2 .7 .9 .7-14.4 .7 58 .7-13.4 .6-62.5 .7-.4 .7-13.4 .7-13.4 .7 .4 .6-52.9 .7 .3 .7 61.3 .7 7.1 .7 .3 .6 .3 .7-3.2 .7-67.4 .7 .3 .7 42.5 .6 6.9 .7-7.6 .7 33.4 .7-24.3 .7-3 .7-2.3 .6 22.1 .7 .3 .7-20.9 .7-36.7 .7 .3 .6 17.3 .7-4.1 .7 .3 .7-13.2 .7 22 .7 .3 .6-1.4 .7 .3 .7 34.1 .7-18.3 .7 35 .6 .3 .7 .3 .7-23.6 .7-41 .7 53.1 .6 .3 .7-41.1 .7 12.2 .7 9.5 .7 10.3 .6 12.9 .7-4.3 .7-47.5 .7 31.8 .7 2 .7 .8 .6 23 .7 2 .7-2.3 .7-4.9 .7 43.7 .6-13.5 .7 1.8 .7-21.9 .7-16 .7 1.8 .7 37.2 .6 1.8 .7-14.4 .7 1.8 .7 17.3 .7 7 .6 1.8 .7-3.4 .7-4.1 .7-1.8 .7 1.8 .6 1.8 .7-8.7 .7 53.9 .7-85.5 .7 21.5 .6 4.2 .7 1.8 .7 17 .7-28.5 .7 1.7 .7 1.8 .6 51.5 .7-13 .7 7 .7 4.5 .7 3.1 .6-29.9 .7-9.5 .7 3 .7 56.5 .7-52.9 .7 3 .6 3.1 .7 38.3 .7-18.6 .7 3.1 .7 3 .6 14.5 .7 3 .7 3.7 .7 25.7 .7 3 .6 3 .7 8.6 .7 .3 .7-27.2 .7 .3 .6 .3 .7-46.5 .7 57.8 .7 27.3 .7-37.5 .7 .3 .6 36.5 .7 .3 .7-2.5 .7 26.8 .7 .3 .6-60.2 .7-2.1 .7 .3 .7 .3 .7 4 .7 1 .6 .3 .7-19.7 .7 .3 .7 46.5 .7-20.6 .6 39.3 .7-62.7 .7 .3 .7-.7 .7 23 .6-32.6 .7 65.3 .7-41.7 .7 .3 .7 18.4 .7 40.9 .6 .3 .7 4.8 .7 .3 .7-29.2 .7-25.9 .6 .3 .7 9.5 .7 5.4 .7 50.5 .7 2.7 .6 2.7 .7-34.6 .7 2.7 .7-36.9 .7 90.8 .7 2.7 .6-46.5 .7 2.6 .7 2.7 .7-15 .7 .5 .6 67.8 .7 2.7 .7-91 .7 37.7 .7-31.9 .6 .3 .7 35.8 .7 2.6 .7-5.9 .7 2.7 .6-50.1 .7 2.7 .7 47.7 .7-2.5 .7-9.3 .7 77 .6-24.3 .7 2.7 .7-23.9 .7 2.7 .7 2.7 .6-11.9 .7 16.9 .7 24.7 .7 2.8 .7 7.6 .7 14 .6-7.4 .7 2.8 .7 2.8 .7-38.6 .7 68.7 .6-4.1 .7 2.8 .7 2.8 .7-36.5 .7-4.4 .6 27 .7-5.7 .7-49.4 .7 82 .7-123.2 .6 69.3 .7-17.6 .7-17.6 .7-76.7 .7-22.4 .7-7.6 .6 18 .7-8.6 .7-39.3 .7-8.7 .7-8.6 .6-7.9 .7-8.6 .7-31.1 .7 7.4 .7 23.5 .7-23.4 .6-8.6 .7-58.2 .7 20.4 .7-8.6 .7 4.4 .6-3.4 .7-3.3 .7 20.6 .7-3.4 .7-3.3 .6-39.1 .7-3.3 .7 25.2 .7-8.8 .7 .1 .6-17.7 .7-22.4 .7 38 .7-15.9 .7 18.3 .7-47.4 .6 67.2 .7 .1 .7-57.7 .7 43.3 .7 .1 .6 .1 .7-.6 .7-31.4 .7 15.2 .7 9.8 .7-12.7 .6 .1 .7 9.4 .7 .1 .7-43.7 .7 56.4 .6-21 .7 .1 .7 3.8 .7 0 .7 1.4 .6 29 .7-33.7 .7-7.5 .7 34.7 .7-61.4 .6 20 .7 2.8 .7 24.9 .7 .1 .7-22.8 .7-5.7 .6-3.8 .7 .1 .7 19.6 .7 17.3 .7-17.9 .6-4.6 .7 .1 .7 14.8 .7-28.7 .7 0 .7 17.9 .6-29 .7 .1 .7 11.5 .7 0 .7-31.8 .6 70.7 .7-10.6 .7 8.2 .7-16.1 .7-2.7 .6 .5 .7-18.6 .7 28.9 .7-17.7 .7 37.5 .7-25.8 .6 .1 .7 35.6 .7-50.9 .7 .1 .7 99.4 .6 .1 .7-86.4 .7 18.7 .7-25.3 .7 16.6 .6-15 .7 0 .7 2.4 .7 24.6 .7-27.1 .7-23.4 .6 19.6 .7 14.7 .7 4.8 .7 13.4 .7 8.9 .6 46.2 .7 13.4 .7-70.3 .7 115.2 .7 13.4 .6-30.8 .7-26.9 .7 17.9 .7 1.5 .7 53.3 .6-72.6 .7 1.5 .7 14.8 .7 26.1 .7 1.5 .7 1.4 .6 19.4 .7-46.8 .7 38.2 .7-35.3 .7 1.5 .6 1.4 .7 5.7 .7-.9 .7 1.4 .7-10.9 .7 1.5 .6 13.7 .7-30.9 .7 1.4 .7 29.6 .7 1.5 .6 13.4 .7-49.9 .7-.7 .7 20 .7-31.1 .6 49.4 .7 5.1 .7 14.4 .7-.7 .7-10.6 .6-.8 .7-41.7 .7 19.7 .7-.7 .7-15.9 .7 48.9 .6-.7 .7-.8 .7-36.1 .7-2 .7-26.8 .6-26.8 .7-69.2 .7 20.7 .7 15.9 .7 0 .7 19 .6 0 .7-26 .7 41.7 .7-67.8 .7 0 .6 0 .7 24.3 .7 0 .7 35.6 .7-15.8 .6-44.3 .7 25.7 .7 0 .7-15.7 .7 64 .6-80.2 .7 0 .7 18.1 .7 0 .7 0 .7-12.1 .6 0 .7 .9 .7 37 .7 0 .7 11.9 .6-45.8 .7 16.9 .7 0 .7-56 .7 81.8 .7 0 .6 8.8 .7-84.3 .7 77.2 .7-49.5 .7 76.8 .6-26.3 .7 .3 .7 13.4 .7 13.4 .7 2.1 .6 .8 .7 .7 .7 40.5 .7-33.8 .7 39.3 .6-55.8 .7 .8 .7 35.2 .7 21 .7-46.8 .7 35.5 .6 2.2 .7 .8 .7 25.2 .7 .8 .7-60.5 .6 .7 .7-4.9 .7 33.1 .7 .7 .7 .8 .7 40.9 .6-56 .7 22.2 .7 41.3 .7-43.9 .7 39.1 .6-52.1 .7-7.7 .7-6.3 .7-7.7 .7 6.2 .6-7.8 .7-7.7 .7-43 .7-26.9 .7 95.7 .6-96.5 .7-7.7 .7 31.5 .7 0 .7-1.5 .7-.6 .6 0 .7-27 .7 23 .7 1.5 .7-11.2 .6 0 .7-21 .7 57.1 .7-7.2 .7 0 .7-22.1 .6 0 .7 0 .7 49.3 .7-42.1 .7 8.9 .6 9.2 .7-14.4 .7 0 .7 0 .7 12.2 .6 6.2 .7-35.5 .7-16.1 .7 33.3 .7-7.8 .6 20.2 .7 0 .7-41.1 .7 62.3 .7 0 .7 .4 .6-72.9 .7 29.1 .7 11.2 .7 0 .7-32.1 .6 49.6 .7-49.5 .7 22.1 .7 0 .7 0 .7 36.1 .6-39.3 .7 27.5 .7-25.7 .7-3.2 .7 0 .6 0 .7 5.9 .7 11.8 .7-11.3 .7-16.3 .6 0 .7 0 .7 41.4 .7-9.3 .7 0 .6 13.2 .7-54.7 .7 33.9 .7-19.8 .7 21.6 .7 0 .6-25.9 .7 1.4 .7 11.3 .7 26.8 .7-44.2 .6 0 .7-1.1 .7 52.9 .7 0 .7-19.5 .7-13.2 .6 0 .7-7.9 .7-10.8 .7 0 .7 12.4 .6 0 .7 0 .7-14.2 .7 41.5 .7 0 .6-27.1 .7 21.1 .7-8.7 .7 0 .7 0 .6 13 .7 0 .7 0 .7-9.9 .7 61.5 .7 0 .6-84.7 .7 0 .7 0 .7 20.8 .7 0 .6 3.8 .7-8 .7-6 .7 0 .7 20.7 .7 74.5 .6-89.2 .7-4.6 .7-5.8 .7 65.2 .7-63.1 .6 8.5 .7 5.5 .7 0 .7 15.6 .7-14.8 .6-12.1 .7-19.9 .7 35.8 .7 0 .7 10.6 .6 0 .7-19.8 .7 0 .7-4.7 .7 3.7 .7 .6 .6 12.5 .7 0 .7-13.3 .7 36.4 .7-36.4 .6-6.2 .7 .7 .7 0 .7 0 .7 24.7 .7 0 .6 0 .7-22.6 .7 4.6 .7-3.8 .7 0 .6-8.9 .7 4.2 .7 3.5 .7 6.4 .7 1.5 .6 .1 .7-2 .7 0 .7 0 .7-16 .6 .1 .7 24.4 .7 0 .7-20.8 .7 0 .7 0 .6-2.2 .7 76.7 .7-61.3 .7-4.5 .7 0 .6 15.7 .7 0 .7-13.6 .7 0 .7 70.6 .7 .1 .6 0 .7-82.9 .7 18.5 .7 0 .7-22.7 .6 .1 .7 0 .7 44.2 .7 0 .7 0 .6-14.7 .7-6.8 .7-1.5 .7-19.8 .7 .1 .6 31.6 .7-17.2 .7-10 .7 0 .7 13.7 .7-14.3 .6 0 .7 28.4 .7 0 .7-26.9 .7-10.7 .6 101 .7-71.8 .7-14.5 .7 6 .7-3.7 .7 3.2 .6-22.8 .7 0 .7 .1 .7 37.4 .7-4.6 .6-28.8 .7 40.4 .7 0 .7-8.5 .7 10.6 .6 0 .7 0 .7-28.1 .7-9.1 .7 .1 .6 25.1 .7-24.4 .7 32.6 .7 0 .7-12.1 .7 .1 .6-9.9 .7 0 .7 17.1 .7-4.8 .7 0 .6-7.5 .7 0 .7 0 .7 12.4 .7 6 .7 .1 .6 0 .7-28.2 .7 0 .7 23 .7-26.8 .6 11.6 .7 3.1 .7 13.4 .7 .1 .7-12.7 .6 3.3 .7 0 .7-43.9 .7 69.2 .7-44.9 .6-13.2 .7 3.1 .7 0 .7 0 .7 54.3 .7-38.8 .6 34 .7-16 .7-34.9 .7 50.1 .7 0 .6 0 .7-27.3 .7 0 .7-16.1 .7 33 .7 0 .6-25.3 .7 18.7 .7-33.5 .7 14.9 .7 0 .6 11.7 .7 0 .7 .1 .7 30.1 .7-20 .6-2.9 .7 0 .7-1.9 .7 .6 .7-10.9 .6 0 .7-3.5 .7 0 .7 8.8 .7 4.6 .7 0 .6-20.9 .7 26 .7-17.1 .7 0 .7 5.9 .6 26.1 .7 0 .7-57.9 .7 67.1 .7-62.4 .7 0 .6 0 .7 13.7 .7 35 .7-40.6 .7 61.6 .6 0 .7-28.3 .7-21.6 .7-.3 .7-6.3 .6 0 .7 0 .7 28.5 .7 55.5 .7-42.8 .6-34.5 .7 37.3 .7-27 .7 6.8 .7 0 .7-8.9 .6 28.8 .7-37.5 .7 32.5 .7 .1 .7-17.8 .6-29.4 .7 0 .7 34.5 .7 0 .7-9.6 .7-7.7 .6 0 .7 25.2 .7 0 .7-31.7 .7 18.5 .6 0 .7 0 .7-30.2 .7 22.5 .7 24.2 .6 0 .7 0 .7-1.4 .7 0 .7-28.8 .6-5.9 .7 5.3 .7 36.6 .7 .1 .7-6.2 .7 0 .6 .1 .7-39.5 .7 0 .7 13.2 .7-.4 .6 8.2 .7 6.9 .7-34.7 .7 0 .7 13.5 .7 0 .6 35.6 .7 .1 .7-27.2 .7 0 .7 0 .6 5.5 .7 13.1 .7-12.1 .7-32.7 .7 0 .6 17.5 .7 28.3 .7 0 .7-59.4 .7 0 .6 51.2 .7 0 .7 0 .7 8.5 .7-26.8 .7 0 .6 19.6 .7-9.7 .7 22.3 .7-30.2 .7 0 .6 2.6 .7-14.6 .7 0 .7-24.1 .7 0 .7 0 .6 46.7 .7 0 .7-16.6 .7 .1 .7 0 .6-13.3 .7 0 .7 16.7 .7 40.2 .7 0 .6-21.8 .7 0 .7-29.4 .7 0 .7 20.2 .6 3.4 .7 0 .7 0 .7-5.4 .7 20.5 .7 .1 .6 0 .7 14.4 .7-42 .7 1.9 .7-.4 .6 93.6 .7-115.3 .7 7.9 .7 0 .7-8.7 .7 20.6 .6 1.2 .7 25.6 .7 0 .7 7.3 .7 0 .6-33.8 .7 5.9 .7 .1 .7-2.4 .7 11 .6 0 .7 9.4 .7 1.7 .7 0 .7 0 .6-37.2 .7-12.8 .7 33 .7-15.8 .7 38.6 .7-24 .6 21.4 .7 0 .7-16.4 .7 .1 .7-27.6 .6 0 .7 11.9 .7 3.4 .7-9.1 .7 4.6 .7 0 .6 0 .7 24.7 .7 4.9 .7-44.7 .7 .1 .6 5.1 .7 0 .7 32.5 .7-22.5 .7 23.5 .6 4.3 .7 0 .7 0 .7-4.5 .7-17.7 .6-8.4 .7 .1 .7 32.2 .7-49 .7 46.7 .7-1.6 .6 0 .7-24.7 .7 65.3 .7-43.6 .7-16.5 .6 6.9 .7 0 .7 7.5 .7-11.8 .7-4.7 .7 0 .6 0 .7 1.5 .7 .1 .7 31 .7-20 .6 19.3 .7-31.5 .7 3.8 .7 22.3 .7-13.6 .6-4.2 .7-13 .7 6.8 .7 0 .7 5.5 .7-14.8 .6 14.4 .7 0 .7 23.2 .7 0 .7-23.5 .6 0 .7 20.8 .7 .1 .7-31.4 .7 9.5 .6 5.3 .7 0 .7 4.2 .7-3.4 .7 0 .7 1.1 .6 10.8 .7-7.4 .7 0 .7-37 .7 0 .6 0 .7 34.5 .7-31.4 .7 52.5 .7-41.2 .6 0 .7 26.5 .7 0 .7 0 .7 .5 .6-7.5 .7-27.5 .7 0 .7 46.2 .7-34.9 .7-2.9 .6 61.6 .7-62 .7 0 .7 40.4 .7 0 .6-40.8 .7-5.1 .7 29.2 .7 .1 .7-9.6 .7 0 .6-8.1 .7 68 .7 9.7 .7-68 .7 0 .6 13.6 .7-21.9 .7 0 .7 3.2 .7 0 .6 0 .7 28 .7-62.4 .7 17.9 .7 0 .6-4.5 .7 47.5 .7-21.4 .7 0 .7 .1 .7 3.3 .6-5 .7 3.1 .7 .1 .7 0 .7 6.5 .6 0 .7-11.7 .7 1.5 .7 22.8 .7-13.8 .7 0 .6 10.5 .7 .1 .7 0 .7 27.3 .7 0 .6 0 .7-40.3 .7 2.7 .7 0 .7-26.1 .6-5.7 .7 35.1 .7 0 .7 0 .7 14.3 .6-23.7 .7 16.6 .7-15.4 .7-8.8 .7 0 .7 0 .6 10.8 .7 0 .7-6.1 .7 14.9 .7-8.6 .6 6.5 .7 .1 .7-35.2 .7 25.7 .7 0 .7 16.6 .6 0 .7 0 .7 4.2 .7 0 .7-36.3 .6 32.4 .7 .1 .7-18.5 .7 0 .7 29.4 .6-39.8 .7 5.5 .7-2 .7 .1 .7 8 .6 3.4 .7 .1 .7 0 .7-19.8 .7 0 .7 0 .6 10.9 .7 0 .7 0 .7 4.1 .7-6.7 .6 0 .7-3.5 .7 29 .7-21 .7-11.1 .7 29.4 .6 .1 .7-16.9 .7-15.3 .7 0 .7 75.2 .6-53.6 .7-34.6 .7 0 .7 .1 .7 31.6 .6-5.7 .7 11.3 .7-42.2 .7 45.3 .7 11.7 .7 0 .6 0 .7-18.4 .7-13.8 .7 1.5 .7 0 .6 .1 .7 .1 .7 25.1 .7 0 .7 4.9 .6-43.6 .7 0 .7 23.9 .7 17.1 .7 .1 .7-15 .6 0 .7-16 .7 5.7 .7 4.8 .7 35 .6 0 .7-40.2 .7 22.9 .7-32.4 .7 0 .6 66.4 .7-14.8 .7-34.3 .7-3.6 .7 32.5 .6-33.7 .7-17.1 .7 56.3 .7-61.1 .7 .1 .7 46.1 .6 .1 .7-4.1 .7-19.7 .7 47.4 .7-59.8 .6 .1 .7 0 .7 28 .7-21.2 .7 33.5 .7 0 .6 0 .7-40.3 .7 0 .7 0 .7 16.1 .6 5.4 .7-.2 .7 16.3 .7 0 .7-27.5 .6 0 .7-7.5 .7 .1 .7-3.9 .7 37.1 .6-29 .7 .1 .7 0 .7 9.7 .7 18.8 .7 0 .6-52 .7 0 .7 16.4 .7 0 .7 5.3 .6 63.2 .7-36.1 .7 .1 .7-36.9 .7 36.7 .7 8.2 .6 0 .7 .1 .7 10.7 .7-36.2 .7 13.2 .6 0 .7-13.1 .7 22 .7 0 .7-21.2 .6-19.2 .7 27.1 .7 0 .7 16.5 .7 35.6 .7 2.2 .6-35.5 .7 24.2 .7 0 .7-47.3 .7 0 .6 12.6 .7 0 .7 0 .7 12.4 .7 40.6 .6-11.2 .7-74.8 .7 0 .7 0 .7 35.3 .7-12.1 .6 8.1 .7-7.9 .7-15.9 .7 42.5 .7 0 .6-31.4 .7 30.1 .7-41.9 .7-1.7 .7 70.8 .6-16.6 .7-27.7 .7-11.7 .7-1.4 .7 5.3 .7-21.8 .6 .1 .7 0 .7 31.4 .7 0 .7-26.6 .6 0 .7 38.1 .7-14.1 .7 0 .7-31.7 .6 37.5 .7-4.6 .7-11.2 .7 0 .7 4.4 .7-4.9 .6-11.6 .7-17.8 .7 53.9 .7 20.5 .7 35.5 .6-64.1 .7-22.3 .7 12.5 .7 20.7 .7 .1 .6-54.8 .7 50.7 .7-12.7 .7 0 .7-6.3 .7 0 .6-12.4 .7 22.1 .7-1.4 .7-18.7 .7 25.6 .6 0 .7-38.3 .7 37.9 .7-8.9 .7 .1 .6-9 .7 0 .7 0 .7-9.7 .7 32.6 .7 0 .6-37.4 .7 7 .7 27 .7-42.3 .7 0 .6 3.1 .7 0 .7 4.2 .7 27.3 .7-6.2 .6 2.6 .7 8.9 .7-25.5 .7 11.3 .7-13.6 .6 30.5 .7-33.1 .7 3.8 .7 30.2 .7-42.6 .7 5.9 .6 .1 .7 27.9 .7-51.6 .7 47.3 .7-4 .6 14 .7 0 .7-4 .7-20.1 .7 0 .7 0 .6 .3 .7 15.8 .7 .1 .7 0 .7-.7 .6 0 .7-12.9 .7-16.9 .7 33 .7 0 .6 0 .7 47.7 .7-60.2 .7 0 .7 .1 .6-4.2 .7 23.9 .7 .1 .7 9.6 .7-18.6 .7-11.5 .6 87 .7-39.5 .7 .1 .7-86.9 .7 12.3 .6 0 .7 0 .7 33.7 .7-27.2 .7 36.6 .7-15.1 .6 34.3 .7-25.8 .7-2.7 .7 .1 .7 9.6 .6-28.6 .7 0 .7 39.7 .7-.6 .7 0 .6-4.8 .7 0 .7-2.2 .7 .1 .7 0 .7-13.2 .6-6.6 .7-26.9 .7 46.8 .7-5.6 .7 0 .6 5.1 .7 0 .7 8.3 .7-17 .7 0 .6 0 .7-3.7 .7 0 .7 0 .7 5.5 .7 .1 .6 0 .7 11.8 .7 0 .7-12.1 .7 .1 .6 7.5 .7-32.2 .7 .1 .7 30.2 .7 2.7 .6 72.6 .7-14.4 .7-72.5 .7 94.6 .7 0 .7-92.4 .6 3.1 .7 14.4 .7-26.8 .7-7.4 .7 0 .6 9 .7 7.4 .7-5.6 .7 .1 .7 0 .6-4.3 .7 0 .7 6.8 .7 25.7 .7-14.8 .7 0 .6 5.4 .7 1.3 .7-13.3 .7-11.5 .7 29.9 .6 .1 .7-26.1 .7 0 .7 .1 .7 6.6 .6 4.1 .7-21.4 .7 36.1 .7-43.9 .7 51.8 .7-29.8 .6-.2 .7 33.2 .7-45.9 .7 2.1 .7 .1 .6 11.8 .7 0 .7-7.3 .7 .1 .7 0 .6 5.2 .7-14.5 .7 46.8 .7-15.1 .7-14.4 .7 3.4 .6 0 .7 8.6 .7 0 .7-12 .7-27.8 .6 0 .7 0 .7 29.9 .7 0 .7-40.7 .6 0 .7 49.9 .7 6.7 .7-21.3 .7 0 .6 30.4 .7 0 .7 0 .7-43.9 .7-2.8 .7 33.5 .6-8.1 .7-22.9 .7 0 .7 23.2 .7 0 .6 13.7 .7-34.2 .7 0 .7 0 .7 .2 .7 22.8 .6-30.3 .7 0 .7 39.2 .7-17.7 .7 16.2 .6-34.8 .7 .1 .7 0 .7 7 .7 0 .6 29.1 .7 .3 .7 0 .7-15 .7 0 .6-8.1 .7 38.5 .7 .1 .7 .7 .7-38.5 .7 55.9 .6-33.3 .7 .1 .7 0 .7 17.9 .7-32.7 .6 0 .7 40.6 .7-15.9 .7-35.7 .7 8 .7 0 .6 0 .7 10.1 .7 8 .7 0 .7 0 .6-19.9 .7 21 .7-32.2 .7 1.1 .7 19.9 .6-3.1 .7-3.4 .7 0 .7 34.5 .7-27.7 .7 14.3 .6 0 .7-26.3 .7 .1 .7-12.9 .7 21.1 .6 0 .7-2.1 .7 19 .7-51 .7 36.9 .6 0 .7 0 .7-14.9 .7 0 .7 2.8 .7-16.1 .6 0 .7 .1 .7 22.7 .7-6.5 .7 0 .6 9.3 .7 .1 .7-.9 .7-23.2 .7 56.1 .6 0 .7-16.2 .7-11.8 .7 0 .7-23 .7 24.7 .6 0 .7-20.8 .7 14.5 .7-.2 .7-.1 .6-6.6 .7 28.1 .7 0 .7-18 .7 .1 .6 5.6 .7 0 .7 0 .7 24.9 .7-49.9 .7 28.7 .6 7.3 .7 0 .7-4.2 .7-33.4 .7 25.4 .6 22.1 .7 0 .7-10.6" fill="none" stroke="#4daf4a" stroke-width="3.5" stroke-linejoin="round"/><path d="M199.9 812l.7 0 .7 0 .6 0 .7 0 .7 0 .7 0 .7 0 .7 0 .6 0 .7 0 .7 0 .7 0 .7 0 .6 0 .7 0 .7 0 .7-214.4 .7 0 .6 0 .7 0 .7 0 .7 0 .7 0 .6 0 .7 0 .7 0 .7 0 .7 0 .7 0 .6 0 .7 0 .7 0 .7 0 .7 0 .6-408.8 .7 0 .7 0 .7 211.1 .7 0 .7 0 .6 0 .7 0 .7 0 .7 0 .7 0 .6 0 .7 0 .7 0 .7 0 .7 0 .6 197.7 .7 0 .7 0 .7 0 .7 0 .6 0 .7 0 .7 0 .7 0 .7 0 .7 0 .6 80.4 .7 0 .7-80.4 .7 0 .7 0 .6 0 .7 0 .7 0 .7 0 .7 0 .7 0 .6 0 .7 0 .7 0 .7 0 .7 0 .6 0 .7 0 .7 0 .7 0 .7-197.7 .6 0 .7 0 .7 0 .7 0 .7 0 .6 0 .7 0 .7 0 .7 0 .7 0 .7 0 .6 197.7 .7 0 .7 0 .7 0 .7 0 .6 0 .7 0 .7-197.7 .7 0 .7 0 .7 0 .6 0 .7 0 .7 0 .7-207.7 .7-.7 .6 3.2 .7-.6 .7-1.7 .7-1.6 .7-.7 .6-.7 .7-1.3 .7 2.1 .7-.7 .7 1.9 .6-2.3 .7 1.9 .7 0 .7 1.9 .7 6.1 .7 1.9 .6-.3 .7-10.4 .7-3.9 .7-3.4 .7-3.1 .6-1.1 .7-14.1 .7 16.1 .7-6.1 .7-.9 .7-4.9 .6-.8 .7 3.8 .7-6.7 .7 23.8 .7 0 .6-22.2 .7 0 .7 3.5 .7 0 .7-1.1 .6 2.9 .7-3.9 .7 0 .7 3.6 .7 0 .6-.8 .7 0 .7-1.5 .7-3.3 .7 4.1 .7 0 .6-3.8 .7 0 .7 0 .7 1.3 .7 8.2 .6-3.8 .7 21.9 .7-23.1 .7 3.1 .7 0 .7-8.7 .6 2.6 .7 0 .7 0 .7-1.5 .7 3.4 .6 0 .7 2 .7-9.3 .7 0 .7 5.5 .6 0 .7 .7 .7 0 .7-3.2 .7 0 .6 0 .7 2.8 .7 .2 .7 2.7 .7-1.4 .7 0 .6-3.2 .7 5 .7-5.8 .7 5.4 .7 37 .6-5.5 .7-37.2 .7 0 .7 4.6 .7-.9 .7 1.3 .6 0 .7-5.8 .7 0 .7-3.3 .7 10.6 .6-1.1 .7-3.6 .7 0 .7 0 .7 3.7 .6 32.5 .7 9.3 .7-47.7 .7 4.1 .7 0 .6-.8 .7 0 .7 2.5 .7 0 .7 0 .7-.9 .6 0 .7-5 .7 0 .7 1.9 .7 2.9 .6-1.6 .7 2.6 .7 4.7 .7-9 .7 2.2 .7 0 .6 3.8 .7-7.7 .7 0 .7 0 .7 3.9 .6-2.4 .7 3.1 .7 0 .7 2 .7 0 .6-4.8 .7 5 .7 0 .7 0 .7 18.3 .6 0 .7 0 .7-20.6 .7 2.2 .7 0 .7 .2 .6-3.9 .7 38.6 .7-20.3 .7-18.5 .7-3.2 .6 6.5 .7 22.6 .7 8 .7 .6 .7-21.3 .7-18.4 .6 .6 .7 2 .7 5.2 .7 11.5 .7 .6 .6-13.3 .7 .6 .7 11 .7 .5 .7-2.4 .6 3 .7-8.9 .7 .6 .7 1.1 .7 11.2 .6-19.4 .7 15.5 .7 2.7 .7 6.3 .7 5.1 .7-6 .6-5 .7 10 .7-13.9 .7 .6 .7 16 .6 .6 .7-9 .7 .6 .7 .6 .7-4.9 .7 .6 .6 .6 .7-3 .7 .6 .7 15.6 .7-7.3 .6 9.3 .7-16.7 .7 .4 .7 3.1 .7 6.4 .6 .5 .7 .4 .7-2.3 .7 10.3 .7 .4 .6 .4 .7 .4 .7 2.4 .7-17.4 .7 .4 .7 19.6 .6 .4 .7 .4 .7-1.2 .7-10.6 .7 18.2 .6 .4 .7-15.6 .7 1.7 .7-1.9 .7 13.3 .7 1.9 .6-2.3 .7-13.9 .7 7.1 .7 .4 .7 6.6 .6 .5 .7 7.7 .7-18.1 .7 15.2 .7-7.5 .6-5.2 .7 .3 .7 7.7 .7 0 .7-11.5 .6 5.6 .7 11.3 .7 .3 .7-3.2 .7 .3 .7-3.4 .6-1 .7 3.1 .7 .4 .7-8.5 .7 8.4 .6 .4 .7-.4 .7 .4 .7 7.5 .7-.2 .7 .4 .6-8.1 .7 .4 .7-.9 .7 .4 .7 .3 .6-1 .7 .4 .7-3 .7 11.8 .7-8.7 .6 .3 .7-4.2 .7 19 .7-8.8 .7-4.7 .7 .3 .6 10.5 .7-2.1 .7-8.2 .7 2.4 .7 3.1 .6 9.2 .7-3.5 .7-6.4 .7 .4 .7 11.8 .6-2.3 .7-9.2 .7 .4 .7 .3 .7 14.9 .7 .4 .6-5 .7-7 .7 21.6 .7-15.5 .7 .4 .6-3.3 .7 .4 .7 .3 .7 22 .7 0 .6 9.3 .7 7.8 .7 9.4 .7 3.5 .7-1.5 .6-7.5 .7 5.4 .7 1.1 .7 14.5 .7-24.1 .7 15.1 .6-5.8 .7 .2 .7 .2 .7 5.2 .7 .1 .6 .2 .7-8.8 .7 1.6 .7 10.7 .7-.2 .7 .2 .6 .2 .7-15.8 .7 15 .7-18.4 .7 28.3 .6-8.2 .7 .2 .7 .6 .7-9 .7-8.3 .6 21.2 .7-13.3 .7-3.9 .7-7 .7 18.7 .6-10.4 .7-6.7 .7-6.7 .7-3.3 .7-6.7 .7 3.8 .6-6.7 .7-22.2 .7 24 .7-2.2 .7-13.9 .6-2.2 .7-2.3 .7-24.7 .7-2.2 .7-2.2 .7 10.8 .6 3.4 .7 10.5 .7 3.7 .7-27.5 .7 2.7 .6 22 .7 2.6 .7-19.5 .7-1 .7 3.6 .6 2.7 .7-1.2 .7 20.3 .7 2.7 .7-9.1 .6 1.5 .7-5.2 .7 14.3 .7-9.5 .7 7.8 .7-9.5 .6-.4 .7 12.7 .7-29.5 .7 1.3 .7 16.4 .6 0 .7 10.2 .7 0 .7-5.3 .7-12.4 .7 12.2 .6 .1 .7-7.6 .7 0 .7 21.3 .7-4 .6-.4 .7-14.4 .7-13.5 .7 33.5 .7-31.2 .6 .1 .7-6.4 .7 0 .7 0 .7 17.4 .6-4 .7-10.9 .7 26.4 .7 .6 .7-14.1 .7-17.8 .6 38.8 .7-36.7 .7 12.7 .7 13.2 .7 5.2 .6 11.2 .7-9.7 .7 0 .7-21.3 .7 21.4 .7-6.1 .6 4.6 .7 0 .7 20.1 .7 0 .7 .1 .6-8.8 .7-41.3 .7 37.6 .7 .1 .7-32.9 .6 26.4 .7 0 .7 0 .7-27.5 .7 0 .7 28.9 .6-21.4 .7 0 .7 11.1 .7 0 .7 .1 .6 12.3 .7-4.3 .7-8 .7 0 .7 0 .6 6.3 .7 0 .7 0 .7 .5 .7 0 .7 0 .6-9.5 .7 1.3 .7 13.9 .7 1.1 .7-26.3 .6 0 .7-.1 .7 0 .7 18 .7-17.2 .6 38.9 .7-21.8 .7-29 .7 0 .7 21.1 .6 0 .7 0 .7 13.8 .7 0 .7-16.1 .7-1.9 .6 44.8 .7 .1 .7-43.9 .7 0 .7 19.7 .6 15.2 .7-16.9 .7 .1 .7-45 .7 0 .7 0 .6 17.3 .7 0 .7 .1 .7 25.5 .7 0 .6-8.4 .7 10.8 .7-21.6 .7 32.8 .7-10.7 .6 .1 .7 0 .7-9.3 .7 0 .7 1.4 .6 7.1 .7 0 .7 .1 .7-8.9 .7 10 .7-7.3 .6 12.4 .7-54.1 .7 0 .7 20.6 .7 0 .6 32.8 .7 .1 .7-7.8 .7 6.7 .7-21.7 .7-17.2 .6 25.7 .7-19.2 .7 1 .7 0 .7-21.4 .6 65.8 .7 0 .7-23.5 .7 0 .7-36 .6 0 .7 0 .7 51.1 .7-7.6 .7 .1 .6 0 .7-26.3 .7 0 .7-3.9 .7 37.5 .7 0 .6-15.4 .7-17.7 .7 31.9 .7 12.1 .7-30 .6-11 .7 6.9 .7 0 .7 0 .7 33.9 .7 0 .6-56.5 .7 0 .7-1.2 .7 53.8 .7-25.7 .6 0 .7-1 .7 29 .7 0 .7-16 .6 18.8 .7 0 .7-27.4 .7 16.5 .7 0 .6-30.1 .7 0 .7 8.1 .7 0 .7 0 .7-14.6 .6-10.9 .7 25.8 .7 0 .7-9.5 .7 18.4 .6 56.6 .7-60.8 .7 .2 .7-6 .7 0 .7 15.8 .6 0 .7-7.6 .7 10.9 .7-2.9 .7 14.6 .6-23.6 .7 0 .7 11.3 .7-8.4 .7-2.9 .6 0 .7 7.5 .7 6.9 .7-22.2 .7 0 .7 0 .6 41.6 .7-65.9 .7 .1 .7 45.7 .7 17.2 .6 .1 .7 72.4 .7 3.7 .7-10.4 .7 3.7 .6 3.7 .7 9.5 .7 40.1 .7-48 .7 3.7 .7-9.9 .6 9.3 .7-58.3 .7-16.8 .7 13.1 .7 .5 .6 .6 .7-32.8 .7 23.5 .7 30.2 .7 .6 .6 12.8 .7-20.8 .7 6.1 .7 .6 .7-4.5 .6 42 .7 2.7 .7-74.9 .7 5.8 .7 45.7 .7-48.3 .6 2.8 .7 73.6 .7 2.8 .7-26.7 .7 3.8 .6-12.9 .7 2.8 .7 22.1 .7 2.8 .7 1.3 .7-10.7 .6 16.8 .7-24.2 .7-3.1 .7 34.7 .7-3.2 .6-3.1 .7-37.9 .7 20.7 .7-31.1 .7 12.6 .6-13.8 .7 9.4 .7-.5 .7-11 .7 3.8 .6 13.8 .7 11.2 .7-51.9 .7-5.7 .7 51.4 .7-1.2 .6-10.7 .7-1.2 .7-37.6 .7 12.9 .7 9 .6-1.1 .7-1.2 .7-5.3 .7-31.9 .7 50.6 .7-27.6 .6-1.3 .7-1.2 .7 36.5 .7-1.2 .7-26.1 .6 2.8 .7-1.1 .7 7.7 .7 5.8 .7 8.1 .6 5.8 .7 5.7 .7-43.2 .7 5.7 .7 9.1 .6-10.9 .7-1.9 .7-7.4 .7 27.5 .7-7.3 .7-18.1 .6-7.4 .7-7.4 .7-33.1 .7-11.5 .7 0 .6 19.3 .7 7 .7 0 .7 2.8 .7 0 .7 6.9 .6 0 .7 1.3 .7 0 .7-6.1 .7-31.4 .6 42.6 .7 0 .7-33.1 .7 11.1 .7 0 .6-38.9 .7 57.9 .7-33.7 .7 0 .7 7 .6 0 .7 23.5 .7-18.4 .7-3.2 .7-16.8 .7 20 .6-11.3 .7 14.9 .7-5.4 .7 0 .7 13.9 .6 21.6 .7-7.6 .7 0 .7-23.2 .7 0 .7 13.5 .6 0 .7 0 .7-30.4 .7 0 .7-9.9 .6 46.5 .7-56.1 .7 44.7 .7 .9 .7-6.8 .6 0 .7 0 .7 9.5 .7-11.7 .7 19.6 .6-26.7 .7 37.7 .7-21.7 .7 0 .7 32.3 .7 0 .6-50.1 .7 16.1 .7-24.2 .7 0 .7 0 .6 47.2 .7-23.9 .7 3.9 .7-20.8 .7 0 .7 19.3 .6 0 .7-4.4 .7 0 .7 0 .7-6.5 .6 4.9 .7 8.4 .7-3.8 .7 7.3 .7-23.6 .6 27.5 .7-32.8 .7 20.6 .7 28.6 .7 0 .6 17.9 .7-40.1 .7 12.8 .7-17.4 .7 0 .7 0 .6 30.3 .7 0 .7 0 .7-29.9 .7 0 .6-31.2 .7 6.9 .7 31 .7-22.4 .7 16.5 .7 0 .6 0 .7 4.1 .7-7.9 .7 5.4 .7 19.7 .6-37.3 .7 3.8 .7 9.1 .7-.5 .7 0 .6 14 .7 0 .7-23.3 .7 10.1 .7 0 .6 0 .7-6.4 .7 26.1 .7 0 .7-4.6 .7-30.6 .6 52.2 .7-31.8 .7-17.8 .7 21.9 .7-2.4 .6 8 .7 2.4 .7 4.6 .7 8 .7 8.1 .7-22 .6 16.7 .7 31.1 .7-16.3 .7 22.9 .7-15.4 .6-31.6 .7 46.2 .7 .8 .7 .8 .7-32.1 .6 7.8 .7 .8 .7 9.6 .7-9.5 .7 5.3 .6-19.4 .7 .8 .7 33 .7 .8 .7-18.4 .7-7.7 .6 .9 .7 7.6 .7 7.6 .7-2.7 .7-14.2 .6-2.7 .7-2.7 .7 5.5 .7-5.3 .7 6.4 .7-2.7 .6-2.7 .7 10.5 .7-2.6 .7-9 .7-2.7 .6-2.7 .7 21.5 .7-2.7 .7-15.7 .7-16.2 .6-2.7 .7 1.7 .7-42.1 .7 26.6 .7-15.4 .6 0 .7 0 .7 7.9 .7 36.8 .7-16.2 .7-14.1 .6 6.1 .7-10.2 .7 15.5 .7-23.7 .7 0 .6 14 .7 0 .7 9 .7 0 .7-44.2 .7 54.5 .6-23.1 .7 0 .7 39.3 .7-49.8 .7 0 .6 0 .7 50.1 .7-2.6 .7 0 .7-10.4 .6 0 .7-30 .7 0 .7 0 .7 4.9 .6 33 .7-30.1 .7 8.9 .7 0 .7-6.7 .7 0 .6-30.4 .7 0 .7 18.4 .7 9.3 .7 0 .6 10.2 .7 0 .7-15.7 .7 31.8 .7 22.8 .7 8.7 .6 22.7 .7 23.1 .7 22.8 .7-4.7 .7-44 .6-20.1 .7-6.8 .7-34.2 .7 9.3 .7 8.8 .6 38.7 .7 15.5 .7 3.3 .7 16.7 .7 16.8 .6 8.5 .7-8.7 .7-33.5 .7-58.9 .7-20.6 .7 6.6 .6-10 .7-9 .7-10.1 .7-10 .7-39.4 .6 7.8 .7 13.6 .7 7.8 .7 19 .7 31.6 .7 7.8 .6-18.4 .7 .8 .7 18.2 .7 .8 .7 8.1 .6-53.4 .7 33.8 .7-24.8 .7 37.8 .7-25.2 .6 .6 .7 .8 .7 8.9 .7-27.2 .7 .9 .6 5.5 .7 19.3 .7 19.2 .7 26.6 .7 54.1 .7 15.8 .6-6.6 .7 19.3 .7 19.3 .7-3.8 .7-24.8 .6-12.8 .7-9 .7-26.9 .7-12.8 .7 18.9 .7 .6 .6-31.9 .7-12.8 .7-14.2 .7-12.8 .7-1.6 .6-1.3 .7-1.4 .7-9.2 .7-1.3 .7-15.2 .6 11.6 .7-12.9 .7 29.3 .7-1.4 .7-12.5 .6-33.5 .7 0 .7 13.6 .7 25.2 .7 20.9 .7-14.7 .6-47.7 .7 0 .7 36.4 .7 0 .7-2.7 .6 0 .7 0 .7-1.7 .7 14.1 .7-13.9 .7 20 .6-59.6 .7 45.4 .7-33.8 .7 44.4 .7-16.8 .6 9.6 .7 0 .7-13.5 .7 14.4 .7 0 .6-1.9 .7 0 .7-18.7 .7 37.9 .7-20.5 .6-11.6 .7 0 .7 18 .7-17.7 .7 0 .7 9.7 .6 0 .7 6 .7 0 .7 0 .7-31.4 .6 0 .7-1.8 .7 0 .7 0 .7 38.1 .7-18.7 .6 0 .7-12.3 .7 38 .7 0 .7-14.4 .6-14 .7-3.3 .7 0 .7 0 .7 8.3 .6 9.5 .7-34.5 .7 35.1 .7 23.4 .7-56.1 .6 40.3 .7 3 .7 24.9 .7-16 .7-8.1 .7 0 .6 0 .7-22.1 .7 6.5 .7 0 .7-7.7 .6 6.6 .7-16.9 .7 9.6 .7 7.6 .7 26.4 .7 10.2 .6 9.5 .7 8.7 .7 9.5 .7 9.7 .7 1.6 .6 12.5 .7-3.6 .7-5.4 .7-16.6 .7 1.5 .6 10.8 .7 20.5 .7 3.3 .7-20.9 .7-23.6 .6 1.6 .7 8.4 .7 47.4 .7-9.2 .7 .5 .7-17.8 .6-17.9 .7-26.7 .7-19.9 .7-17.9 .7-17.9 .6-19.7 .7 22.3 .7 0 .7 11.6 .7 0 .7 3.5 .6 0 .7-1 .7-35.4 .7 40.7 .7-38.3 .6 0 .7 0 .7 15 .7 16.2 .7 0 .6 14.3 .7 0 .7-20.8 .7 19 .7-21.7 .6-19.1 .7 38.9 .7 34 .7-15.2 .7-38.8 .7-8 .6 0 .7 8.9 .7 16.6 .7 0 .7-28 .6 21.7 .7 0 .7 0 .7-30.4 .7 27.7 .7-13 .6 2.3 .7-14.3 .7 0 .7 14.4 .7 0 .6 0 .7-23.2 .7 6.3 .7 0 .7 12.5 .6 0 .7 2.4 .7 0 .7 0 .7-6.8 .6-5.1 .7 27.6 .7-22.1 .7 0 .7 0 .7 33.3 .6 0 .7-46 .7 0 .7 0 .7 43 .6-41.7 .7 27.1 .7 0 .7 1.6 .7-20.3 .7 10.1 .6 37.4 .7 6 .7 15.1 .7-7.3 .7-4.7 .6 14.9 .7 .7 .7 2.6 .7 12.7 .7-5 .6 5.4 .7-30.6 .7 2.6 .7 44.3 .7-14.5 .6 2.6 .7 16.6 .7-37.7 .7-18.8 .7 2.4 .7-37.4 .6-31.9 .7 .1 .7 22.2 .7 0 .7 1.9 .6 .1 .7 3.6 .7 .1 .7-1.4 .7-7 .7 0 .6-2.8 .7 15.3 .7 .1 .7 0 .7 8.9 .6-10.7 .7-10.6 .7 4.2 .7-12 .7 10.4 .6 22.5 .7-31.4 .7 15.1 .7-7.4 .7-9.2 .6 0 .7 14.3 .7 .1 .7 0 .7-12.7 .7 .1 .6 27.3 .7 0 .7-14.9 .7-7.8 .7 0 .6 .1 .7-16 .7 .1 .7-8.8 .7 14 .7 47.6 .6-16.8 .7-14.7 .7 0 .7 12.4 .7-13.6 .6-6.6 .7 23.2 .7 .1 .7-16 .7-7.2 .6-6.9 .7 0 .7 0 .7 22.6 .7-5.9 .7 11.1 .6 .1 .7-14.4 .7 0 .7-12.6 .7 26.8 .6-36.5 .7 49.9 .7-16.8 .7 4.7 .7-3.9 .6-19 .7 0 .7 72.4 .7-77.3 .7 3.8 .7 40.1 .6-2.1 .7-38.7 .7 .1 .7 0 .7 12.4 .6 0 .7-1.2 .7 .1 .7 0 .7 20.5 .6-8.9 .7-24.9 .7 0 .7 1.3 .7 9.2 .6 .1 .7-10.8 .7 0 .7 24 .7-4.1 .7 2 .6-11.5 .7-5.4 .7 6.9 .7 7.7 .7 13.9 .6-22.5 .7 0 .7 .1 .7 15.3 .7 .1 .7-23.3 .6 35.6 .7-39.6 .7 .1 .7 0 .7 34.7 .6-33.1 .7 .1 .7 0 .7 14.3 .7 0 .6 4.2 .7 18.6 .7-35.4 .7 0 .7 17.9 .6 0 .7-1.7 .7 0 .7-12.6 .7 9.6 .7 0 .6-10 .7 27.4 .7 .1 .7-3.9 .7 6.8 .6-27.1 .7 9.8 .7 .1 .7 0 .7 10.7 .7 0 .6-5.5 .7-27.3 .7 6.9 .7 0 .7 .1 .6 53.3 .7-45.9 .7 19.2 .7-16.3 .7 11.6 .6 0 .7 .1 .7 1.9 .7-25.4 .7 13.8 .6-23 .7 23.3 .7 .1 .7 8.2 .7 .1 .7 25.3 .6-38.8 .7 13.2 .7 21.7 .7-46.8 .7 .1 .6 22.3 .7 9.1 .7 .1 .7-8.5 .7 0 .7 .1 .6-35.8 .7 49.7 .7-22.1 .7 15.7 .7-23.3 .6 22.3 .7-29.8 .7 12.9 .7 4.5 .7 .1 .6-1.9 .7 .1 .7-3.2 .7 29.3 .7 0 .6 0 .7-17.9 .7-6.7 .7 11.9 .7-21.6 .7 .1 .6 0 .7-20 .7 0 .7 32.5 .7 0 .6 2 .7-3.7 .7 19.7 .7-1.4 .7 0 .7-36 .6 30.4 .7-45.4 .7 29.3 .7 .1 .7 0 .6-2 .7 0 .7 35.2 .7-38.2 .7 0 .6 3.7 .7 8.4 .7 18.9 .7-19.1 .7 0 .7-29.9 .6 48.6 .7 3.1 .7-22.4 .7 4 .7 2 .6 16.6 .7-15.3 .7 .3 .7-6.5 .7-12.4 .6 .3 .7 28.4 .7-13 .7-1.4 .7-1.4 .7-.5 .6 .9 .7 .3 .7 .2 .7 15.1 .7-30.2 .6 .2 .7 24 .7 .2 .7-1.6 .7-7.1 .6 29.1 .7-6.6 .7-33.5 .7 .2 .7-4.2 .6 5.4 .7 .3 .7-9.9 .7 .2 .7 .2 .7 42.7 .6 .3 .7-31.3 .7 .3 .7 .2 .7 27.1 .6 .2 .7-1.9 .7-15.9 .7 15.2 .7 .2 .7-14.6 .6 .2 .7-5.2 .7-4.3 .7 17.8 .7 5.1 .6-2.1 .7-28.7 .7 .3 .7 37.5 .7 .2 .6-32 .7 .2 .7 .3 .7 4.8 .7 20.7 .6-4.2 .7 .2 .7-14.5 .7 34.5 .7 .2 .7-13.1 .6-29.1 .7 32.2 .7-2.2 .7 0 .7 0 .6-20 .7 20.1 .7-1.2 .7-3.1 .7-.1 .7 0 .6-14.1 .7 0 .7 18.6 .7-25.7 .7 0 .6-3.2 .7 50.3 .7 0 .7 0 .7-52.1 .6 0 .7 27.9 .7 1.8 .7-13.8 .7 0 .7 0 .6 20.3 .7 0 .7-11.5 .7 1.4 .7 0 .6-10.7 .7 18.2 .7-11.6 .7 0 .7 11.3 .6 0 .7-9.1 .7 1.4 .7-1.2 .7 0 .7-5.9 .6 17.7 .7 0 .7-3.5 .7-13.3 .7 0 .6-.8 .7 0 .7 3.6 .7-.2 .7 .5 .6 9 .7 0 .7 0 .7-14.9 .7 31.8 .7-32.1 .6 0 .7 11.8 .7 0 .7 3.5 .7-18.5 .6 1.9 .7 28.2 .7 0 .7-13.8 .7 0 .6 .1 .7 4.6 .7 9.1 .7-34.9 .7 0 .7 0 .6 15 .7 19.2 .7 0 .7 0 .7-18.7 .6 0 .7 0 .7 3.6 .7 0 .7-3.3 .6 0 .7 .4 .7 0 .7-.8 .7 0 .7 0 .6 13.8 .7 0 .7 10.2 .7-52.4 .7 44.5 .6-16.9 .7 .1 .7-9.9 .7 0 .7 4.1 .6 0 .7 6.4 .7 0 .7 11.1 .7-32.2 .7 0 .6 8.3 .7 0 .7 10.8 .7 13.3 .7-23.4 .6 16 .7 4.4 .7 4.3 .7-43.8 .7 0 .6 21.4 .7-4.1 .7 10.3 .7-13.4 .7 0 .6 10.9 .7 14.3 .7 0 .7-30.3 .7 31.1 .7 0 .6 0 .7-14.5 .7 4.7 .7 0 .7 1.9 .6 0 .7-15.7 .7 0 .7-3.8 .7 17.9 .7 0 .6-15.1 .7 6.4 .7 4.6 .7 13.1 .7-9.7 .6 0 .7-9.5 .7 0 .7 12.1 .7 0 .6 19.9 .7-29.4 .7 .1 .7 11.3 .7 1.1 .6 0 .7-7.7 .7 .1 .7 13.1 .7-6.1 .7-18.1 .6 .1 .7 0 .7-4.3 .7 11.7 .7-.8 .6-13.6 .7 7.9 .7 6.1 .7 16.5 .7 0 .7 .1 .6-27.8 .7 0 .7 21.5 .7 0 .7 26.8 .6-36.4 .7 26.4 .7-16.8 .7 0 .7 0 .6 16.6 .7-12.9 .7 .1 .7-4.8 .7 0 .7 10.7 .6-39.1 .7 0 .7 28 .7 0 .7 6.4 .6-11.9 .7 0 .7 1.9 .7 7.8 .7-23.6 .6 29.4 .7-9.3 .7-7.2 .7 0 .7 59.1 .7-66.2 .6 21.4 .7 4.8 .7 0 .7-1.6 .7 0 .6 0 .7-25.2 .7 .1 .7 12.5 .7 1 .6-15.3 .7 0 .7-7.5 .7 0 .7 3.6 .7 43.1 .6-18 .7 0 .7-2.8 .7 0 .7 0 .6 13 .7-20.8 .7 10.2 .7-17.3 .7 21.5 .6-13.5 .7-3.2 .7-2.7 .7 0 .7 6.7 .7-20.8 .6 0 .7 9.5 .7 0 .7 0 .7 35.9 .6-27.2 .7 0 .7 0 .7 14.9 .7 2.4 .6-14.6 .7 20.6 .7-32.9 .7 .1 .7 20.5 .7 0 .6 .1 .7 .5 .7-19.7 .7 0 .7 17.5 .6 4.1 .7 0 .7-17.1 .7 18 .7 0 .6 5.2 .7 0 .7-3.4 .7-15.1 .7 0 .7 14.8 .6 0 .7-18.9 .7 8 .7 0 .7 1.6 .6 14 .7-20.4 .7 0 .7 20.7 .7 .1 .6-9.6 .7 36.4 .7-36.4 .7 9.6 .7-1.5 .6 0 .7-23.6 .7 0 .7-20.8 .7 40.9 .7-55.9 .6 63.3 .7 0 .7-13.6 .7 0 .7 0 .6 11.5 .7-3.7 .7 0 .7 10.4 .7 0 .7-18.6 .6-4.9 .7 0 .7-11.9 .7 20 .7-29.3 .6 24.9 .7 .4 .7 0 .7-16 .7 17.3 .6 1.8 .7 0 .7-2.7 .7 15.2 .7 0 .6-15.5 .7-4.1 .7 0 .7-13.4 .7 0 .7 0 .6 6.3 .7 43.3 .7-59.9 .7 0 .7-12.5 .6 36.3 .7 13.6 .7-16.6 .7 0 .7-2.8 .7 0 .6-1.5 .7 0 .7 11 .7-8.9 .7 6.4 .6 0 .7 2.7 .7 0 .7 8.5 .7 0 .6-33 .7 35 .7 0 .7 .3 .7 0 .7 33.1 .6-33.3 .7-31.1 .7 26 .7-16.6 .7 0 .6 24.2 .7 0 .7 6.4 .7-41.5 .7 0 .6 0 .7-2.9 .7 0 .7 61.3 .7 0 .7-50.3 .6 0 .7 0 .7 4.9 .7 5.8 .7 10 .6-19 .7-4.6 .7 23.2 .7-46.7 .7 38.7 .6 0 .7 16.9 .7-9.1 .7 .7 .7 0 .7 8 .6-38.9 .7 14 .7 0 .7 6.1 .7-18.9 .6 36.3 .7 0 .7 0 .7-19.3 .7 0 .6-1.2 .7-29.2 .7 26.5 .7 2.9 .7-12.4 .7 2.4 .6 13 .7-11.2 .7 5.3 .7 4.4 .7 2 .6 14.2 .7-16.1 .7 14.7" fill="none" stroke="#984ea3" stroke-width="3.5" stroke-linejoin="round"/><path d="M199.9 805.3l.7 0 .7-10.1 .6 16.8 .7 0 .7 0 .7 0 .7 0 .7 0 .6 0 .7 0 .7 0 .7 0 .7 0 .6 0 .7 0 .7 0 .7 0 .7 0 .6 0 .7 0 .7 0 .7-214.4 .7 0 .6 0 .7 0 .7 0 .7 0 .7-197.7 .7 0 .6 0 .7 0 .7 0 .7 0 .7 0 .6 0 .7 0 .7 0 .7 0 .7 0 .7 0 .6-211.1 .7 0 .7 0 .7 0 .7 0 .6 0 .7 0 .7 0 .7 0 .7 0 .6 0 .7 0 .7 0 .7 0 .7 0 .6 214.4 .7 0 .7 0 .7 0 .7 194.4 .7 0 .6 0 .7 0 .7 0 .7 0 .7-194.4 .6 0 .7 0 .7 0 .7 0 .7 0 .7 194.4 .6 0 .7 0 .7 0 .7 0 .7 0 .6 0 .7-194.4 .7 0 .7 0 .7-201 .6 0 .7 0 .7 0 .7 0 .7 0 .6 0 .7 0 .7 201 .7 0 .7 0 .7 0 .6 0 .7 0 .7 0 .7 0 .7 0 .6 0 .7-201 .7 0 .7 0 .7 0 .7 201 .6 0 .7 0 .7 0 .7 0 .7 0 .6 0 .7 0 .7-174.2 .7 0 .7 174.2 .6 0 .7-164.9 .7 0 .7 .1 .7-27.6 .6 0 .7 38.8 .7-30.9 .7 24.9 .7 0 .7 .1 .6-23 .7 .1 .7 15.8 .7-20.7 .7 .1 .6 0 .7 24.1 .7-13.9 .7 .1 .7 24 .7-24 .6 14.4 .7-30 .7 2.6 .7 0 .7 0 .6 22.3 .7 0 .7 9 .7 0 .7-26.7 .6 0 .7-1.7 .7 29.7 .7-3.6 .7 .8 .6 0 .7 0 .7-14.5 .7-18.6 .7 0 .7 .1 .6 10.1 .7 15.4 .7-7.8 .7 0 .7-1.7 .6 .1 .7 0 .7-7 .7 18.4 .7-6.2 .7-4.8 .6-.1 .7 8.7 .7-12.5 .7 0 .7 22.7 .6 7.4 .7 24.5 .7-33.6 .7 0 .7-11.4 .6 .1 .7-16.4 .7 .5 .7 14.1 .7-12.5 .6 7.5 .7 0 .7 0 .7 .4 .7 .1 .7 7.3 .6-19.3 .7 18.8 .7-2 .7 0 .7 7.5 .6-1.2 .7 8.6 .7 8.3 .7-41 .7 2.9 .7 26.4 .6-23.2 .7 .1 .7 3.3 .7 27.1 .7-33.8 .6 0 .7 29.6 .7 0 .7-31.2 .7 21.2 .6-4.7 .7 0 .7-.9 .7 .1 .7-10.2 .6 0 .7-9.5 .7 28.9 .7-29.2 .7 21.5 .7 .1 .6 0 .7 13.6 .7 .1 .7 0 .7-19.8 .6 0 .7 5.5 .7-7.5 .7 0 .7 7.1 .7 0 .6-2.7 .7 0 .7 2.3 .7-10.1 .7 14.1 .6 31.6 .7 0 .7-29.4 .7-14.6 .7 22.2 .6 .1 .7 24.9 .7-14 .7-43 .7 36.4 .6 0 .7-17.4 .7-23 .7 0 .7 25 .7 .1 .6-8.2 .7 0 .7 1.8 .7 19 .7-25.2 .6 3.3 .7 22.8 .7-.7 .7-.6 .7-16.9 .7-3.4 .6 17.4 .7-12.7 .7 4 .7 0 .7-.1 .6-.9 .7 4.1 .7 0 .7-19.4 .7 29.5 .6-24 .7 2 .7-15.2 .7 16.7 .7-10.9 .6-.1 .7 26 .7-.1 .7-8.7 .7-6.9 .7-.1 .6 6.2 .7 0 .7 94.5 .7-.1 .7-53.1 .6-42.2 .7 2.7 .7 3.8 .7-.1 .7 0 .7-16.7 .6 21.5 .7-.1 .7 0 .7-19.9 .7 22.5 .6 0 .7-.1 .7-.6 .7-.1 .7-30.2 .6 7.9 .7 7.2 .7 0 .7-.1 .7-5.5 .6 14.8 .7-14.6 .7 12.5 .7 2.8 .7-30.1 .7-.1 .6-5.6 .7 51 .7 0 .7-.1 .7-12 .6-14.5 .7 8.7 .7-2.9 .7-.1 .7 7.3 .7-.1 .6 0 .7-14.5 .7 .1 .7 2.8 .7 0 .6-4.6 .7 3.4 .7 3.9 .7 0 .7 0 .6-7.3 .7-27.6 .7 0 .7 26.2 .7 0 .6 3.8 .7-3.4 .7 0 .7-3.1 .7 24.1 .7-15.5 .6 0 .7 16.6 .7-35.1 .7 0 .7 22.8 .6 0 .7 6.8 .7-26.3 .7 1.5 .7 0 .7-5.2 .6 18.1 .7-13.8 .7 12.8 .7 0 .7 0 .6 6.7 .7 0 .7-19 .7 7.8 .7 1.4 .6-12 .7 36.1 .7-15.7 .7 3.6 .7-13 .7 0 .6 4.6 .7-15.5 .7 7.6 .7-7.4 .7 23.6 .6 .7 .7-13.2 .7 .7 .7 3.6 .7 4.2 .6 .7 .7 .6 .7-11.7 .7 4.6 .7 .7 .7-.2 .6 .7 .7 15.8 .7 6.3 .7 .6 .7-18.2 .6 .9 .7 .6 .7 .7 .7 12.6 .7-25.6 .6 .1 .7 20.8 .7 0 .7 .9 .7-7.5 .6-9.5 .7 25.2 .7-11.6 .7 1.9 .7 .1 .7 0 .6-6.3 .7-7.5 .7 40.4 .7-40.6 .7 12.3 .6-5.7 .7 .1 .7 11.7 .7 0 .7 .1 .7-7.3 .6 7.2 .7 0 .7 0 .7-12.9 .7 0 .6 5.5 .7 0 .7 0 .7 8.1 .7-5.4 .6-2.6 .7 0 .7-2.7 .7-11.2 .7 0 .6-.3 .7 10.3 .7 0 .7-1.5 .7 34.9 .7 0 .6 2.8 .7-40.7 .7 19.7 .7 0 .7 0 .6-1 .7 0 .7 7.5 .7 0 .7-2.6 .7-19.7 .6 0 .7 13.1 .7 0 .7-6.8 .7 .1 .6 4.7 .7-7.5 .7 14.6 .7-8.3 .7-17.6 .6 13.9 .7 21.9 .7-45.3 .7 40.2 .7 0 .6-11.4 .7-18 .7 38.6 .7 0 .7-18 .7 .1 .6 0 .7-1.3 .7 .1 .7 2.1 .7 0 .6 0 .7 17 .7-28 .7 17.1 .7 .1 .7-21.9 .6 29.4 .7-21.4 .7 0 .7-11.7 .7 22.2 .6 0 .7 0 .7-11.2 .7 0 .7-5.2 .6-2.7 .7 20.9 .7-22.3 .7 .1 .7 22.9 .6-24.2 .7 0 .7 67.8 .7 3.6 .7 0 .7-58.5 .6-23.8 .7 0 .7 0 .7 7.2 .7 0 .6-.1 .7 43.5 .7-20.1 .7-7.2 .7 5.3 .7-30.3 .6 44.8 .7 0 .7-21.6 .7 3.1 .7-19.3 .6 0 .7 22 .7 0 .7 .1 .7-4.3 .6-4.4 .7 2 .7 119.9 .7-28.9 .7-90.6 .7 0 .6 .8 .7 13.1 .7 91.4 .7-39.2 .7 51.9 .6-91.4 .7 .1 .7-44.5 .7 23.6 .7 12.7 .6-53.3 .7 57.4 .7-38 .7 .3 .7 20.1 .7-12.6 .6-9.9 .7 43.7 .7-41.8 .7 0 .7 2.3 .6 25.6 .7 0 .7 0 .7-3.8 .7 0 .6 0 .7-6.1 .7-17.1 .7 0 .7 20.3 .6 91.5 .7-119.3 .7 41.2 .7 0 .7-13.7 .7 0 .6-15.5 .7-1.6 .7 6.6 .7 10.4 .7-35.2 .6 0 .7 27.4 .7-3.2 .7 17.2 .7-8.5 .7-10.9 .6 0 .7 8.6 .7 3.8 .7 0 .7-6.3 .6 0 .7-10.5 .7 33.2 .7-30.4 .7 38.3 .6 0 .7-20.4 .7 0 .7-17.6 .7 .9 .6 0 .7 8 .7 21.7 .7 0 .7 16.4 .7 0 .6 0 .7-8.5 .7-8.4 .7-10.5 .7-16.6 .6 11 .7 0 .7 0 .7 11.6 .7-32.1 .7 0 .6 4.4 .7-4.3 .7 14.1 .7-15.2 .7 84.1 .6-65.1 .7 0 .7 17.3 .7-42.2 .7 12 .6 8.2 .7-4 .7 11.7 .7 0 .7 0 .6-1.5 .7-6.4 .7 7 .7-7.9 .7 25.6 .7 0 .6-24.7 .7-9.2 .7 40.4 .7 0 .7-35.1 .6 0 .7 5.9 .7 0 .7 .9 .7 6.8 .7 0 .6-30.9 .7 26.7 .7 0 .7-22.9 .7 0 .6 0 .7 48.7 .7-25.5 .7 0 .7-19.5 .6-5.7 .7 8 .7-7.5 .7 38.5 .7 0 .6 0 .7-25.2 .7 15.3 .7-30 .7 0 .7-2.4 .6 56.3 .7-63.6 .7 127.8 .7-32.3 .7 13.7 .6-84.5 .7-8.3 .7 30.5 .7 56.1 .7 0 .7-74.6 .6 0 .7 7.8 .7 0 .7 33.6 .7-60 .6 0 .7 18.7 .7 20.1 .7-23.4 .7 0 .6-17.6 .7 0 .7 0 .7 44.3 .7 0 .7-12 .6 6.6 .7 14.7 .7-45.6 .7 0 .7 17.5 .6-18.9 .7 4.3 .7 14.7 .7 25 .7-28.6 .6 0 .7 16.3 .7-35.3 .7 25.4 .7 0 .7 0 .6 17.6 .7 0 .7-7.3 .7 0 .7 0 .6-20.4 .7 3.7 .7-.8 .7-18.8 .7 17 .6 4 .7 1.3 .7-20 .7 54 .7 0 .6 0 .7-43.6 .7 0 .7 8.9 .7 0 .7 55.8 .6-49.7 .7 7.9 .7 5.8 .7 6.9 .7 0 .6-4.9 .7-25.2 .7-10.1 .7 36.9 .7-22.8 .7-14.1 .6 25.4 .7 0 .7 22.4 .7 0 .7-20.3 .6 0 .7-27.8 .7 0 .7 15.7 .7 11.8 .6-23.9 .7 0 .7 22.4 .7-11.2 .7 0 .6 5.9 .7 2.6 .7-28.7 .7 0 .7 17.7 .7 24.5 .6-11.1 .7 0 .7-18.3 .7-3.3 .7 0 .6-.6 .7 0 .7 2 .7 26.6 .7 0 .7-10.6 .6-7.3 .7 0 .7 7.8 .7 0 .7-15.5 .6 36.3 .7 0 .7-38.8 .7 0 .7 18.5 .6 0 .7 6.4 .7 0 .7 0 .7 1.2 .6-18.1 .7 0 .7 9.7 .7 0 .7-25 .7 9.5 .6 24.9 .7 0 .7 5 .7-30 .7 20.6 .6-3.8 .7 2.8 .7-14.5 .7 0 .7 0 .7-21.6 .6 31.6 .7 0 .7 0 .7 13.1 .7 0 .6-29.7 .7 0 .7-21.7 .7 56 .7 0 .6 0 .7-10.1 .7 4.5 .7-37.4 .7 0 .6 33.2 .7-7.3 .7 0 .7 6.7 .7-3.9 .7 0 .6 0 .7 68.5 .7 0 .7-5.5 .7-62.9 .6 0 .7-29 .7 0 .7 20.5 .7 44.9 .7-65.5 .6 77.5 .7 27 .7-24.3 .7-39.6 .7-28.6 .6 0 .7 44.1 .7-59.6 .7 0 .7 0 .6 40.2 .7 0 .7-11.9 .7-18.1 .7 19.4 .6 0 .7-19.9 .7 9.2 .7 0 .7 16.4 .7-1.5 .6-.9 .7 2.1 .7-7 .7 0 .7 0 .6-1.9 .7 29.4 .7-54.1 .7 34.8 .7 9.4 .7 9.4 .6 8.9 .7-11.9 .7 44.7 .7-11.4 .7-18.7 .6 53.2 .7-22.2 .7 9.4 .7 6.1 .7-7.5 .6 39.7 .7 6.2 .7-30 .7 6.2 .7 28.1 .6 6.2 .7 16.9 .7-17.3 .7 20.2 .7 8.9 .7 6.1 .6-20.7 .7-30.5 .7-34.3 .7-36.9 .7-3.7 .6-51.4 .7 45.9 .7-7.9 .7-3.8 .7-51.9 .7-3.8 .6 14 .7 0 .7 0 .7 40 .7 0 .6-21.4 .7-26.5 .7 0 .7 57.3 .7 3.6 .6-4.6 .7-38.5 .7-10.9 .7 0 .7 18.9 .6 0 .7-10.6 .7-2.7 .7 8.2 .7-11.8 .7 6.6 .6 0 .7 14.6 .7 0 .7-2.1 .7 0 .6-5.7 .7-8.1 .7 12.1 .7 4.3 .7 0 .7-28.1 .6 0 .7 6.3 .7 31.2 .7-36.1 .7 0 .6-.8 .7 0 .7-3.8 .7 26.5 .7 0 .6-16.1 .7 3.3 .7 15 .7 0 .7-26.7 .6 0 .7 11 .7 1.6 .7 0 .7 8.2 .7-10.1 .6-11.2 .7 28 .7 0 .7 8.2 .7 0 .6-8.4 .7 0 .7 14.6 .7 0 .7-11.1 .7 0 .6 0 .7-16.1 .7 0 .7 0 .7-2.7 .6 13.9 .7-7.5 .7-5.1 .7 43.8 .7 0 .6-44.6 .7-5.5 .7 9 .7 0 .7-1.6 .6-.2 .7 25.6 .7-41.6 .7 19.2 .7 0 .7-2.5 .6 0 .7 5.7 .7-6.3 .7 0 .7-21.1 .6 0 .7-8 .7 0 .7 20.9 .7 29.1 .7 0 .6-14.3 .7-27.6 .7 0 .7 1 .7 0 .6 0 .7 41.8 .7-25.6 .7 11.7 .7 0 .6 0 .7-19.9 .7 0 .7 0 .7 8.8 .6 20.2 .7-29.7 .7 21.8 .7 0 .7 64.1 .7-21.9 .6-41.3 .7 0 .7 .4 .7-13.2 .7 0 .6 0 .7 4 .7 6.2 .7-1 .7 0 .7-9 .6 0 .7 0 .7-5.6 .7 0 .7-7.5 .6 16.5 .7-23.9 .7 0 .7 28.4 .7 0 .6 .7 .7 0 .7 5.1 .7-14.1 .7-6.6 .6 0 .7 30.2 .7 0 .7 0 .7-26.4 .7 0 .6 3.7 .7 0 .7 5.2 .7 22.7 .7-39.4 .6 94.6 .7-4.3 .7-80.9 .7-2.5 .7 18.4 .7 0 .6-13.2 .7 8.7 .7 0 .7 38.2 .7 0 .6-43 .7 16.3 .7-13.4 .7 0 .7 0 .6 8 .7 3.4 .7 0 .7-36.8 .7 0 .6 33 .7-.1 .7-27 .7 49.8 .7 0 .7 0 .6-23.9 .7-40.6 .7 36.9 .7-8.3 .7-10.9 .6 0 .7 37.7 .7 0 .7-14.1 .7 0 .7-29 .6 0 .7 14.7 .7 0 .7 .2 .7 5.2 .6 29.3 .7 53.8 .7 18.8 .7-28.5 .7-28.5 .6-9.4 .7-28.4 .7 .2 .7-34.4 .7 11.9 .6 .2 .7 12.3 .7 .2 .7 12.3 .7 .3 .7 25.6 .6 .3 .7 .2 .7-23.1 .7-16.7 .7 .3 .6 .2 .7 12 .7-3.4 .7-5.1 .7 19.5 .7-3.5 .6-2.7 .7 63.5 .7-15 .7 .2 .7-40.1 .6 .3 .7-7.5 .7-23.1 .7 .2 .7 32.2 .6 42.5 .7 33.1 .7 49.8 .7 35.5 .7-34.7 .6-101 .7 69.1 .7-91.7 .7 6.1 .7-19.8 .7-11.4 .6-13.9 .7 29.5 .7-10.4 .7 0 .7 8 .6 0 .7 31.3 .7-49.4 .7 28.7 .7-20.9 .7-10.4 .6 19.9 .7 0 .7 0 .7 3.3 .7-9.6 .6 0 .7 11.7 .7 0 .7 0 .7-1.2 .6 0 .7 5.3 .7-16.6 .7 17 .7 0 .6 0 .7-52.3 .7 44.5 .7-27.6 .7 48.9 .7-24.5 .6 0 .7-7.2 .7 0 .7-14.2 .7 53 .6-37.9 .7-1.1 .7 13.3 .7-23.3 .7 0 .7 0 .6 7 .7 24.2 .7 0 .7 0 .7-20.3 .6 0 .7 .1 .7 0 .7 15.4 .7 0 .6-8.7 .7 0 .7-8.5 .7 0 .7 0 .6 3.1 .7 12.7 .7-13.8 .7 0 .7-1.1 .7 13.7 .6-27.1 .7 0 .7 16.9 .7 24.6 .7-30.7 .6 4.7 .7 0 .7 1.7 .7 10.2 .7 0 .7 0 .6-19.2 .7 6.5 .7 2.7 .7 0 .7-2.6 .6 5.3 .7 0 .7-28.4 .7 2.7 .7 24.7 .6 6.7 .7 0 .7 0 .7-21 .7 0 .6 9.8 .7-4.7 .7 0 .7 4.1 .7 0 .7-23.4 .6 0 .7 27.6 .7-9.5 .7 0 .7 0 .6 17.8 .7-17.9 .7 2.1 .7 0 .7-5.3 .7 0 .6 .1 .7-1.8 .7 9.2 .7 0 .7-6.5 .6 .3 .7 1.6 .7 20.4 .7-16.4 .7 2.6 .6 0 .7 0 .7 2.7 .7-18.3 .7 1 .6 14.8 .7 42.4 .7-8.7 .7 11 .7-40.4 .7 1 .6-8 .7 1 .7 1 .7 1.2 .7 29.8 .6-5.7 .7 1 .7-12.6 .7 1 .7 22.5 .7 3.7 .6-22.1 .7 1 .7 2.1 .7-17.2 .7 .4 .6 2.9 .7 22.8 .7 .4 .7-15.2 .7 .5 .6 .4 .7 17.4 .7 .5 .7 11.8 .7-6.2 .6 .4 .7 .5 .7-24 .7 6.8 .7 .5 .7 .4 .6 19.7 .7-13.6 .7-16.3 .7 20.4 .7 .6 .6 .5 .7-6.8 .7-1.5 .7 .5 .7 14.8 .7 .5 .6 2.5 .7-31.1 .7 32.4 .7-25.4 .7 10.2 .6 2.5 .7 16 .7 6.6 .7-10.1 .7 26.1 .6 2.5 .7-52.6 .7 42.1 .7 0 .7 .2 .6-6 .7-3.9 .7 0 .7 11.8 .7 76.1 .7-76.4 .6 0 .7-14.9 .7 0 .7 14.5 .7-14 .6 0 .7 36.8 .7-42.6 .7 19.7 .7-7.5 .7-7.6 .6 0 .7 0 .7 21 .7 0 .7 15.7 .6-28.6 .7 10.8 .7 10.1 .7-5.8 .7-11.3 .6 25.6 .7-28.4 .7-2.7 .7 0 .7 14.7 .7 0 .6-4.2 .7 60.9 .7 8.3 .7 0 .7-74.6 .6 0 .7 20.2 .7 0 .7-7.9 .7 10.2 .6 0 .7 0 .7-20.8 .7 13.8 .7-28.9 .7 10.6 .6 0 .7 8.1 .7 0 .7 7.6 .7-26.4 .6 0 .7 0 .7 15 .7 0 .7-15.1 .6 0 .7 31.7 .7 0 .7 0 .7-11.6 .6 0 .7-17.6 .7 0 .7 2 .7 2.5 .7 23.9 .6-43.8 .7 16.3 .7 19.4 .7 0 .7 2.2 .6-16.9 .7 0 .7 2.6 .7-15.4 .7 28 .7-3.5 .6 0 .7-5.3 .7 0 .7 0 .7 .2 .6 0 .7 7.4 .7-6.7 .7-3.9 .7 17.9 .6-25 .7 26.7 .7-20.2 .7-5.9 .7-4.8 .6-16.3 .7-4.8 .7-4.8 .7 3.3 .7 2 .7 0 .6 1.3 .7 96.2 .7-96.2 .7 25.2 .7 0 .6 2.5 .7-42 .7 0 .7 14.5 .7 27.9 .7-39.3 .6 0 .7-3.9 .7 0 .7 16 .7 .1 .6 0 .7 3.5 .7 0 .7-3 .7-1.8 .6 0 .7 4.1 .7 0 .7 11.3 .7 0 .6-19.2 .7 0 .7 8.1 .7 0 .7 0 .7 11.5 .6 10.5 .7-34.5 .7 4.1 .7 0 .7-18.5 .6 0 .7 38.4 .7-17.4 .7 0 .7 9 .7-.1 .6 8.4 .7-40.3 .7 41.7 .7-26.4 .7 0 .6 30.8 .7 0 .7 0 .7-27.3 .7 3.6 .6 8.6 .7-27.3 .7 11.1 .7 16.4 .7 0 .6-17.8 .7 0 .7 22.7 .7-38.5 .7 48.6 .7-8.2 .6-22.5 .7 27.1 .7 0 .7 16 .7 0 .6-38 .7 0 .7 0 .7 30.7 .7 0 .7 0 .6-27.1 .7-7.5 .7 2.2 .7 21.2 .7-3.8 .6 0 .7 0 .7-32.4 .7 31.5 .7 0 .6-7.5 .7 0 .7 10.7 .7-31.3 .7 67.6 .7 0 .6-74.2 .7 33.9 .7-18.3 .7 13.7 .7-11 .6 0 .7 3.8 .7-11.1 .7 19.3 .7-6.6 .6 0 .7-7.4 .7 10.2 .7 96 .7 .3 .7-100.9 .6 .3 .7-17.2 .7 .4 .7 .3 .7 33.2 .6-8 .7 .3 .7 73.5 .7 .3 .7-2.9 .6-55.4 .7-23 .7 10.2 .7-15.1 .7 .3 .6-9 .7 .1 .7 22.3 .7 17 .7-17.5 .7 0 .6 5.9 .7-7.8 .7 106.4 .7-.2 .7-106.4 .6 0 .7 17 .7 0 .7-18 .7 0 .7-13.2 .6 .1 .7 0 .7 25 .7 0 .7-3.7 .6 20.9 .7 0 .7-22.4 .7 0 .7-38.4 .6 37.7 .7 0 .7-6.5 .7 12.9 .7-12.5 .6 2.9 .7-1 .7 13.8 .7 0 .7 0 .7 4.1 .6 0 .7-11.4 .7 .1 .7 14.4 .7 0 .6-8 .7 0 .7-30.4 .7 .1 .7 0 .7 21 .6 0 .7 .1 .7 5.2 .7-29.6 .7 85.7 .6-45.3 .7-3.2 .7-14.7 .7 .1 .7 10.2 .6 4.4 .7-21.2 .7 8 .7 0 .7-5.6 .7 16.1 .6-19.6 .7 .1 .7 28.4 .7-19.5 .7 0 .6 8.9 .7 0 .7-2.7 .7 7 .7 .1 .6 0 .7 17.4 .7-41.7 .7 13.8 .7 0 .7-16.2 .6 3 .7 22.1 .7 .1 .7-7.7 .7 0 .6-5 .7 6.4 .7-10 .7 0 .7 15 .6-14 .7 17.2 .7 0 .7 0 .7-17.7 .7 5.6 .6 .1 .7 37.4 .7-54.2 .7 34.8 .7-22.5 .6 36.2 .7 28 .7-34.3 .7-13.8 .7 29 .6 17.9 .7 .1 .7-14.5 .7 16.2 .7-14.6 .7-13.2 .6-14.6 .7-11.8 .7-7.9 .7 4.7 .7 0 .6 .6 .7-35 .7 51.6 .7-23.8 .7 18.9 .6 50.1 .7-76.1 .7 0 .7 24.1 .7-24.6 .7 0 .6 37 .7 0 .7-23.8 .7-.3 .7-1 .6-8.2 .7 0 .7 7.6 .7 104.8 .7 7 .6-27.1 .7-63.7 .7-12.6 .7 22.3 .7 25.7 .7-11.1 .6-11.2 .7-7 .7 1.1 .7-11.2 .7-11.2 .6-26.7 .7 28.6 .7-23.5 .7 11.2 .7 0 .6-31.6 .7 0 .7 0 .7 30.2 .7 69.3 .6 0 .7-47.6 .7 0 .7 3.9 .7-46.3 .7 0 .6 38.7 .7 0 .7-15.4 .7 0 .7-22.5 .6 26.2 .7 6.3 .7 0 .7 79.1 .7 0 .7-94.6 .6 0 .7 19.5 .7-24.1 .7 104.2 .7 .1 .6-93.5 .7 0 .7 8.4 .7 0 .7 31.9 .6 0 .7-26.4 .7-6.1 .7 0 .7 0 .6 13.1 .7 0 .7-29.4 .7 0 .7 28 .7-9 .6 0 .7 7.6 .7 0 .7-22.8 .7 26.9 .6-47.7 .7 0 .7 24.1 .7 .1 .7 0 .7-6.8 .6 7.8 .7 24.5 .7 0 .7-21.1 .7-17.3 .6 33.7 .7-15.2 .7 1.9 .7-.4 .7 88.6 .6 0 .7-74.1 .7-13.5 .7 9.3 .7-11.4 .7-14.5 .6 14.9 .7-11.1 .7 4.9 .7 0 .7 0 .6-3.1 .7 73.8 .7 10.9 .7 2.8 .7-73.8 .6 3.6 .7 0 .7-2.5 .7 0 .7 0 .7-9.2 .6 28.4 .7 0 .7-30.4 .7-5 .7 19.8 .6 8 .7-33.5 .7 25.2 .7 0 .7 12.1 .6-53.4 .7 .1 .7 .1 .7 0 .7 17.1 .7 9.7 .6-9.3 .7 .1 .7 2.3 .7 28.4 .7-20.9 .6 20.4 .7 0 .7-19.2 .7 0 .7-12.6 .6 7.3 .7 0 .7-3.7 .7 0 .7 25.6 .7-13.3 .6-2.2 .7 14 .7 0 .7 6.7 .7-8.4 .6-31.4 .7 113.9 .7-84.8 .7-17.3 .7 .1 .6 0 .7 13.4 .7 0 .7 73.1 .7 0 .7-13.3 .6-80.8 .7 0 .7 12.3 .7 0 .7-7.9 .6 31.6 .7-40.8 .7-7.8 .7 13.7 .7 14.8 .6 14.7 .7-32.2 .7 29.1 .7 0 .7-21.2 .7-2.1 .6 0 .7 0 .7 9.8 .7 0 .7 5.9 .6-8.9 .7-15.1 .7 31.2 .7-24.7 .7 0 .6 17.9 .7-3.6 .7 2 .7 .1 .7 7.9 .6-3.7 .7 65.8 .7-13.7 .7 7.5 .7-67.4 .7-10.4 .6 16.7 .7 0 .7 3.7 .7-30.9 .7 17.4 .6 .1 .7 0 .7 10.1 .7 0 .7 80.2 .7-29.3 .6 0 .7-76.1 .7 0 .7 87.5 .7 0 .6-59 .7-27.1 .7 33.2 .7 0 .7-24.2 .6 7.5 .7 .1 .7 .5 .7-14.6 .7 30.2 .6 0 .7-34.6 .7 33.4 .7-11 .7 0 .7 7.5 .6 0 .7 0 .7-13.1 .7 6.6 .7 .1 .6 8.1 .7-24.5 .7 10.7 .7 17.4 .7 0 .7 15.8 .6-45.1 .7 16.3 .7 9.3 .7-26.6 .7 16.5 .6 5.2 .7 0 .7 .1 .7-16 .7 0 .6 18.7 .7 7.1 .7 .1 .7-18.9 .7 16.7 .7-4.7 .6-6.8 .7-.5 .7 .3 .7-2.4 .7 4.4 .6-8.9 .7 4.4 .7 44.3 .7 4.4 .7 45.3 .6 4.3 .7 4.7 .7 2.5 .7-63.9 .7 4.7 .7 28.3 .6 4.7 .7-36.8 .7 110.8 .7 4.7 .7-29.7 .6 4.1 .7-59.7 .7 68.1 .7-35.8 .7-3.3 .6 4 .7 4 .7-10 .7 29.5 .7 14.6 .7-11.7 .6 11.8 .7-45.7 .7 59.3 .7-1.4 .7-45.2 .6 38.4 .7 13.4 .7-75.5 .7-1.4 .7-1.3 .6 33.5 .7-1.3 .7-1.4 .7 4.1 .7 10.3 .7-37.7 .6 1.8 .7 37.7 .7 26.7 .7-95.9 .7 27.3 .6-5.8 .7-1.3 .7-1.4" fill="none" stroke="#ff7f00" stroke-width="3.5" stroke-linejoin="round"/><path d="M199.9 812l.7 0 .7 0 .6 0 .7 0 .7 0 .7 0 .7 0 .7 0 .6 0 .7 0 .7 0 .7 0 .7 0 .6 0 .7 0 .7 0 .7 0 .7 0 .6 0 .7 0 .7 0 .7 0 .7 0 .6 0 .7 0 .7 0 .7 0 .7 0 .7 0 .6 0 .7 0 .7 0 .7-214.4 .7 0 .6 0 .7 0 .7 0 .7 0 .7 0 .7 0 .6 0 .7 0 .7 0 .7 0 .7 0 .6 0 .7 0 .7 0 .7 0 .7 0 .6 214.4 .7 0 .7 0 .7 0 .7 0 .6 0 .7 0 .7 0 .7 0 .7 0 .7 0 .6 0 .7 0 .7 0 .7 0 .7 0 .6 0 .7-214.4 .7 0 .7 0 .7 0 .7 0 .6 0 .7 0 .7 0 .7 0 .7 0 .6 0 .7 0 .7 207.7 .7 0 .7 0 .6 0 .7-402.1 .7 0 .7 0 .7 0 .6 0 .7 0 .7 0 .7 0 .7 0 .7 0 .6 0 .7 0 .7 0 .7 0 .7 0 .6 0 .7-167.5 .7 0 .7 0 .7 0 .7 0 .6 0 .7 0 .7 0 .7 0 .7 0 .6 0 .7 0 .7-13.4 .7 0 .7 0 .6 0 .7 0 .7 0 .7 0 .7-12 .6 0 .7 0 .7 0 .7 0 .7 0 .7 0 .6 0 .7 0 .7 0 .7 0 .7 0 .6 0 .7 0 .7 0 .7 0 .7 0 .7 0 .6 0 .7 0 .7 0 .7 0 .7 0 .6 0 .7 0 .7 0 .7 0 .7 0 .6 0 .7 0 .7 0 .7 0 .7 0 .6 0 .7 0 .7 0 .7 0 .7 0 .7 0 .6 0 .7 0 .7 0 .7 0 .7 0 .6 0 .7 0 .7 0 .7 0 .7 0 .7 0 .6 0 .7 0 .7 0 .7 0 .7 0 .6 0 .7 0 .7 0 .7 0 .7 0 .6 0 .7 0 .7 0 .7 0 .7 0 .6 5.3 .7 0 .7 0 .7 0 .7 0 .7 0 .6 0 .7 0 .7 0 .7 0 .7 67 .6 0 .7 0 .7-67 .7 0 .7 0 .7 0 .6 0 .7 0 .7 0 .7 0 .7 0 .6 0 .7 0 .7 0 .7 0 .7 0 .6 0 .7 0 .7 0 .7 0 .7 0 .6 0 .7 0 .7 0 .7 0 .7 0 .7 0 .6 0 .7 0 .7 0 .7 0 .7 0 .6 0 .7 0 .7 0 .7 0 .7 0 .7 0 .6 0 .7 0 .7 0 .7 0 .7 0 .6 0 .7 0 .7-.7 .7 0 .7 0 .6 0 .7-1.3 .7 0 .7 0 .7 0 .6-.7 .7 0 .7 0 .7 0 .7-1.3 .7 0 .6 0 .7 0 .7-1.3 .7 0 .7 0 .6 0 .7-2.1 .7 0 .7 0 .7-2 .7 0 .6 0 .7-2 .7 0 .7 0 .7 0 .6 51.6 .7-.2 .7 6.7 .7-10.8 .7-.2 .6-4.5 .7-.2 .7 26.2 .7-29.8 .7 2 .6 48.7 .7-41 .7 96.1 .7-15.7 .7-19.7 .7-96.6 .6 21.6 .7 14.6 .7-10.1 .7 11.9 .7-18.7 .6 64.8 .7-59.7 .7-26.5 .7-.2 .7-.2 .7 42.3 .6-5.6 .7-.3 .7 48.5 .7-56.7 .7-19.6 .6 23.8 .7 .2 .7 .1 .7 8.8 .7-5.2 .6-2.3 .7 13.3 .7-35.7 .7 5.3 .7 18.7 .6 .1 .7 3.3 .7 3.5 .7-10.6 .7 .1 .7 3.7 .6 4 .7 .2 .7 41.1 .7-45.6 .7-13.5 .6 34.7 .7 .2 .7 .1 .7-16.1 .7 .2 .7 .1 .6 3.5 .7 .1 .7-2.2 .7 41.2 .7-13.7 .6-34.6 .7 .2 .7 .6 .7 3.7 .7 .2 .6-2 .7 .3 .7-19.7 .7 25.4 .7 .1 .6 .2 .7-.2 .7 30 .7-31.9 .7 21.2 .7 .1 .6-12.6 .7 29.6 .7-24.1 .7 .3 .7-5.7 .6 .2 .7 .3 .7-10.2 .7-18.9 .7 .3 .7 30.6 .6-10.9 .7 .2 .7-.5 .7 8 .7-36 .6 63 .7 8.2 .7-42.4 .7 1.3 .7-2.8 .6 .2 .7-1 .7 .2 .7-17.1 .7 10.4 .7 .2 .6 .2 .7 .7 .7 15.4 .7-1.9 .7-3.5 .6 .2 .7 26.7 .7 .2 .7 66.4 .7 .2 .6 10.4 .7-65.1 .7-37.3 .7 16.9 .7-15.2 .7 1.4 .6 .2 .7 7.4 .7 .2 .7 42.8 .7-66.4 .6 .2 .7 .2 .7 17.9 .7 20 .7 .2 .6 .2 .7-65.8 .7 .2 .7 56.3 .7 9.7 .6 .2 .7 2 .7-57.7 .7 .1 .7 23.3 .7 0 .6 6.4 .7 1.5 .7 16.4 .7-33.4 .7 30.6 .6 0 .7-.7 .7 12 .7-18.9 .7 0 .7 0 .6 14.2 .7 53 .7-64.8 .7 10.7 .7-12.4 .6 8.9 .7 0 .7-17.3 .7 0 .7 0 .6 21.8 .7-32.7 .7 .1 .7 32.4 .7 8.8 .6 0 .7-20.5 .7 0 .7 0 .7 46.4 .7-59.9 .6 17.8 .7 33 .7 0 .7-36.8 .7 0 .6-17.3 .7 32 .7 3.4 .7-56.5 .7 58.9 .7 7.8 .6-.7 .7-72.6 .7 .1 .7 95.3 .7-52.5 .6-6.3 .7-25.1 .7 49.2 .7-38.7 .7 24.9 .6 0 .7 0 .7-4 .7 12.5 .7-31.2 .6-5.7 .7 .1 .7 35.5 .7 10.8 .7 0 .7-39.4 .6 10.8 .7-12.7 .7 0 .7 .1 .7 .3 .6 .1 .7 38.5 .7 0 .7 5.6 .7-7.1 .7 0 .6 0 .7-47.2 .7 19.9 .7 6.5 .7 102.4 .6-54.2 .7 34.9 .7-96.2 .7 .1 .7 41.3 .6 0 .7-32.1 .7 33.4 .7-31.1 .7 3.8 .6 24.2 .7 0 .7-19.9 .7-9.3 .7 0 .7 13 .6 .1 .7 2.3 .7 .1 .7-7.9 .7 54.3 .6-.4 .7-70 .7-.4 .7 33.4 .7-33.9 .7 0 .6 53.2 .7 32.6 .7-40 .7-53.2 .7 38.7 .6 0 .7-11.5 .7-12.1 .7-25.8 .7 71.3 .6-.8 .7-.8 .7-37.8 .7-27.1 .7-.8 .7-.7 .6 40.4 .7-5.1 .7-.8 .7-46.7 .7-.8 .6 21.7 .7 46.8 .7 37.5 .7 46.1 .7-34.1 .6-90.4 .7-.8 .7-7.3 .7-.8 .7 20.2 .7 58.4 .6-9.2 .7-.8 .7-64.5 .7 .4 .7 6.3 .6-.8 .7 4.5 .7-10.6 .7-13.9 .7 32.2 .6-27.3 .7 3.5 .7-1.7 .7 7 .7 41.4 .6-21.3 .7-50.5 .7 49.1 .7-1.7 .7-1.7 .7-63.8 .6-1.7 .7 25.6 .7-7.3 .7-1.6 .7-37.1 .6 33.3 .7 11.3 .7 1.7 .7 1.6 .7-14.2 .7 1.1 .6 1.7 .7-8 .7 8.1 .7 68.5 .7-97.7 .6 37.1 .7 22.6 .7-14.6 .7 1.7 .7 32.3 .6 1.7 .7 1.7 .7-29.9 .7 24.7 .7 1.7 .6-44.1 .7 11.2 .7 23.6 .7 0 .7 0 .7 7.7 .6-17.4 .7 25.3 .7-54.1 .7 30.5 .7 0 .6 .1 .7-2.2 .7 0 .7 0 .7 6.9 .7 0 .6 0 .7-18.7 .7 0 .7-5.6 .7 37.8 .6-.3 .7-16.1 .7 0 .7 .4 .7-14.6 .6-8.5 .7 50.6 .7 .1 .7-35.1 .7 40.7 .6 0 .7 0 .7-51.4 .7 0 .7 33.2 .7 3.3 .6-28.1 .7 .1 .7-50.2 .7 97.2 .7-27.2 .6-13.8 .7 0 .7 26.2 .7-13.4 .7-30.3 .7 0 .6 0 .7 23.3 .7-45.7 .7 0 .7 27 .6 30 .7-1.6 .7 3.6 .7 2.3 .7-11.6 .6 3.6 .7 .1 .7 .8 .7-20.5 .7 33.1 .6-14.6 .7-34 .7 26.1 .7 3.6 .7 0 .7-22 .6 0 .7-1.7 .7 0 .7 0 .7 23.3 .6 28.5 .7-34.1 .7 7.8 .7-17.9 .7 0 .7 .1 .6 5.3 .7 15 .7 0 .7-1.5 .7-5.3 .6 7.8 .7 6.4 .7-7.9 .7 0 .7 13 .6 .1 .7 0 .7-54.8 .7 33 .7 3 .7 .1 .6 0 .7 114.9 .7-61.2 .7-64 .7-7.5 .6 6.4 .7 .1 .7 42.5 .7-32.1 .7-2.4 .6-28.9 .7 0 .7 0 .7 16.7 .7-12.5 .7 19 .6-17.1 .7 24.4 .7 17.5 .7 2.2 .7-36 .6 89.8 .7-63.6 .7 29.7 .7-44.7 .7 .1 .6 103.7 .7-14.6 .7 0 .7-64.6 .7-52.1 .6 42.8 .7-3.8 .7-9.4 .7 .1 .7 0 .7 6.5 .6 2.1 .7-7.3 .7-2.2 .7 23.8 .7 4.6 .6 25 .7-50.5 .7 0 .7 .1 .7 5.7 .7-6.9 .6-4.4 .7 0 .7-11 .7 53.4 .7-36.7 .6 6 .7-40.2 .7 .1 .7 0 .7 18.6 .6 27.4 .7 .1 .7 0 .7-.4 .7 0 .6-10.6 .7 0 .7 88.7 .7 12.7 .7-96.5 .7 .6 .6-2.8 .7 0 .7 66.9 .7 0 .7-84.3 .6 4.3 .7 28.8 .7-44.2 .7 28.9 .7-12.3 .7 0 .6 4.4 .7 0 .7 35.3 .7-31.9 .7-15.2 .6 .1 .7 40 .7-40.5 .7 12.9 .7-3.1 .6 7.7 .7 .1 .7 8.9 .7 0 .7 .1 .6-21.1 .7 13.7 .7 3.3 .7 0 .7 0 .7 14.6 .6-19.7 .7-5 .7-17.1 .7 36.8 .7 0 .6 .4 .7 .1 .7 0 .7 35.6 .7 0 .7-28.3 .6 0 .7 0 .7-21.8 .7-9.7 .7 0 .6-3.7 .7 46.9 .7-39.3 .7 0 .7 1.8 .6 33.2 .7-60 .7 24.7 .7 11.7 .7 0 .6 75.2 .7-6.4 .7-68 .7 0 .7 10.5 .7 0 .6 7.6 .7 31.2 .7-72.8 .7 0 .7 28.8 .6 4.1 .7-9 .7 0 .7 .1 .7-6.3 .7 23 .6-31.9 .7 0 .7-10.8 .7 38 .7-26 .6 4.1 .7 0 .7-9.5 .7 0 .7 34.3 .6-9 .7 13.4 .7-31.3 .7 3.5 .7 0 .6 .1 .7-9.3 .7 0 .7-22.3 .7 21.1 .7 50.3 .6 0 .7-19.4 .7 4.1 .7-43.8 .7 0 .6 0 .7-8.4 .7 .1 .7 41 .7-21.9 .7 0 .6 0 .7 41.2 .7-28.8 .7 0 .7 15.6 .6 .1 .7 10.5 .7 0 .7-26.7 .7 29.9 .6 .1 .7 0 .7-47.9 .7 0 .7 12.9 .6-23 .7 36.8 .7-14.9 .7 19.6 .7-19.4 .7 .1 .6 7 .7-21.6 .7 .1 .7 18.1 .7 .1 .6-40.4 .7 .1 .7 48.2 .7-6.5 .7 .1 .7 61.6 .6 59.1 .7-16.1 .7-92 .7 14.9 .7-54.6 .6 34.2 .7-28.9 .7 0 .7 19.8 .7-1.5 .6 22.3 .7 81.5 .7-81.4 .7-11.8 .7 0 .6-17.7 .7 18.1 .7 .1 .7 .1 .7-14.3 .7 12.4 .6 .1 .7-22.7 .7 31.2 .7 5.6 .7-15.4 .6 9.7 .7 2.7 .7 0 .7-8.7 .7 .1 .7-27.3 .6 76.8 .7-55.9 .7 10.5 .7 0 .7 .1 .6-34.5 .7 14.9 .7 19.5 .7-19.9 .7 0 .6 .1 .7 4.7 .7-12.8 .7 55.3 .7 0 .6-39.1 .7-1 .7 0 .7 8 .7 .1 .7-34.3 .6 52.8 .7 0 .7-34.8 .7 18.4 .7 .1 .6 8.1 .7-1.4 .7 .1 .7-16 .7-9.2 .7 .1 .6 0 .7-6.9 .7 .1 .7 34 .7 0 .6 66.1 .7-15 .7-26.6 .7-22 .7-38.9 .6 .1 .7 45.2 .7 .1 .7-17.3 .7-4.6 .6-12 .7 25.6 .7 .1 .7 11.4 .7 .1 .7 .1 .6-56.7 .7 .1 .7 48.2 .7-37.4 .7 30.5 .6 .1 .7 0 .7-33.6 .7 .1 .7 35 .7-7.3 .6-19.8 .7 .1 .7-7.1 .7 62.9 .7 .1 .6 0 .7-48.8 .7 15.5 .7 0 .7 9 .6-7.1 .7 0 .7 11.1 .7 .1 .7 .1 .6-14.3 .7 16.3 .7-29.6 .7 0 .7-10 .7 17.2 .6 .1 .7 0 .7 5.9 .7 24.2 .7-43.3 .6 0 .7 17.6 .7 7.8 .7 .1 .7 0 .7-23.4 .6 22.3 .7-6 .7 24.9 .7 0 .7 19.1 .6 .1 .7-63.1 .7 29.3 .7 0 .7 4.2 .6 .1 .7-19.9 .7 0 .7 79.9 .7 .1 .6-5.6 .7-25 .7 .1 .7 0 .7-15.7 .7 .1 .6-20.5 .7 .1 .7 0 .7-32.8 .7 .1 .6 19.6 .7-1.9 .7-7.8 .7 16 .7-1.4 .7 5.9 .6 0 .7 24.7 .7-30.8 .7 9 .7 64.9 .6-73 .7-6.4 .7 22.8 .7-9.6 .7-19.7 .6-12.4 .7 36.7 .7 .1 .7-23.7 .7 17.1 .6 112.6 .7-53.5 .7 36.7 .7-113.7 .7 0 .7 38.1 .6 0 .7 .1 .7-31.2 .7 3.7 .7 .1 .6-6.3 .7 5.3 .7 .1 .7 22.7 .7-31.4 .7 .1 .6 0 .7 24.2 .7-15.2 .7 0 .7 4.2 .6 .1 .7 9.6 .7 48.3 .7 7.3 .7-43.6 .6-13 .7 3 .7-2.5 .7 1.2 .7 5.8 .6 10.5 .7-50.3 .7 43.5 .7 .1 .7-37.6 .7 15.7 .6-16.1 .7 37.3 .7 0 .7 .1 .7-11.6 .6 4.5 .7-19.5 .7-9.1 .7 0 .7-3.5 .7 0 .6 40.5 .7-14.4 .7-12 .7 42.7 .7 0 .6 90.9 .7-118.5 .7-3.1 .7 0 .7 13.3 .6 0 .7-56.8 .7 0 .7 31.5 .7 9.9 .6 0 .7 20.1 .7 0 .7-1.5 .7 .7 .7-19.3 .6 .1 .7-3 .7 24.3 .7-34 .7 119.4 .6 0 .7 2 .7-98.7 .7 20.2 .7-41.9 .7-14.9 .6 13.9 .7 1.9 .7 9.6 .7-9.5 .7-3.7 .6 0 .7 .1 .7 5.7 .7 .1 .7 0 .6 25.6 .7-13.4 .7-15.8 .7 54.3 .7-41.1 .6 20.4 .7-16.4 .7 14.1 .7-13.7 .7-5.5 .7 .1 .6-5 .7 0 .7 .1 .7-7.6 .7 23.1 .6-12.7 .7 .1 .7 30.6 .7 0 .7-25 .7 3.1 .6-7.5 .7 .1 .7-24.3 .7 .1 .7 91.4 .6-6.6 .7-45.4 .7-17.4 .7 .1 .7 0 .6 19.5 .7-26.9 .7-12.9 .7 0 .7 25.2 .6 .1 .7-4.8 .7 22.6 .7 19.4 .7-23.6 .7-36.5 .6 51 .7 .1 .7-24.3 .7 0 .7 14.6 .6-14.7 .7 .1 .7-24.8 .7 .1 .7-19.4 .7 32.6 .6 4.5 .7 .1 .7-1.1 .7 16.5 .7-16.4 .6 0 .7 11.6 .7 0 .7 2.4 .7-13.8 .6 13.2 .7-13.1 .7 0 .7 29.5 .7-31.4 .6 0 .7-6.1 .7 0 .7-15.6 .7 0 .7 0 .6 45 .7 24.7 .7 0 .7-45.3 .7 17.9 .6 .1 .7 2.7 .7-31.6 .7 2.7 .7 30.3 .7-6.5 .6 2.7 .7 2.4 .7 2.7 .7 2.7 .7 1.2 .6 0 .7-7.2 .7 14.9 .7-4.8 .7 46.6 .6-46.6 .7 60.3 .7-45.2 .7 56.5 .7-76.6 .6 32.7 .7-34.9 .7 4.1 .7 27.7 .7-49.4 .7 0 .6-7.2 .7 0 .7 0 .7 12.8 .7 0 .6 1.8 .7 0 .7 0 .7 5.3 .7 0 .7 21.9 .6-40.7 .7-20.1 .7-20.1 .7 32.7 .7 .8 .6-38 .7-6.3 .7-4.4 .7-2.5 .7 .8 .6 12 .7-16 .7 39.6 .7-20 .7 5 .6 12.5 .7 19.2 .7-12.3 .7 12.5 .7 17.1 .7-13.9 .6 5 .7 21.4 .7-30.2 .7 0 .7 0 .6 8.4 .7 .8 .7-7.5 .7 0 .7 18.4 .7 22.7 .6-27.1 .7 11.8 .7 0 .7-19.3 .7 0 .6-9.9 .7 0 .7 7.4 .7 15.1 .7 1 .6-23.6 .7-13.1 .7 0 .7 36.1 .7 0 .6 5.8 .7 0 .7-23.4 .7 19.8 .7 0 .7 35.5 .6-49.6 .7 2.8 .7 6.8 .7 0 .7-23.3 .6 41.7 .7 0 .7-9.6 .7 0 .7-3.6 .7-14.5 .6 25.8 .7-10.9 .7-10.5 .7 0 .7 0 .6 9 .7 0 .7-12 .7 39.5 .7-50.8 .6 0 .7 6.2 .7 11.1 .7-23.7 .7 24.5 .7 5.5 .6-19.9 .7 32 .7 0 .7 0 .7-3 .6 0 .7-19.6 .7 0 .7-13.1 .7 6.2 .6 3.5 .7 0 .7-1.2 .7 0 .7 22.1 .7 0 .6 0 .7-8.3 .7 0 .7 16.3 .7-26.5 .6 0 .7 0 .7-6 .7 10.4 .7-4.4 .6 0 .7 2.1 .7 0 .7-24.2 .7 10.7 .6 0 .7 14.9 .7-.1 .7 66.4 .7-8.5 .7 19.7 .6-57.5 .7 0 .7-21 .7-48.5 .7 39.7 .6 0 .7-14.1 .7 37.2 .7 0 .7-17.9 .7 0 .6 0 .7 6.6 .7-2.1 .7 0 .7 22.6 .6-15.2 .7-13.5 .7 34.5 .7-7.3 .7 14.7 .6-8.8 .7 1.3 .7 18.5 .7-29 .7 44.9 .6-23.2 .7 6.8 .7-5.5 .7 18.2 .7-12.6 .7 0 .6-17.4 .7 7.4 .7 0 .7 5.3 .7-24 .6 0 .7 17.8 .7 0 .7 .2 .7 0 .7 6.1 .6-16.4 .7 7.1 .7 4.7 .7 0 .7 0 .6-5.3 .7-.8 .7 19.5 .7-21.3 .7 0 .6 0 .7-2.4 .7 27 .7-10.9 .7-1.9 .6 5.1 .7-.6 .7-3.9 .7 3.2 .7 0 .7-.6 .6 0 .7 0 .7-21 .7 28.4 .7 0 .6-15.1 .7 0 .7-18 .7 18.8 .7-1.8 .7 0 .6 1.5 .7 0 .7-20.5 .7 22.5 .7 0 .6 7.9 .7-21.5 .7 16.7 .7-17.6 .7 15.7 .6-12.7 .7 42.8 .7-45.5 .7 27 .7-27.2 .6 0 .7 9.1 .7 0 .7 3.9 .7-.3 .7 0 .6 18.5 .7 0 .7 0 .7-11.4 .7-22.8 .6 0 .7 7.2 .7-1.7 .7 0 .7 0 .7 1.1 .6 33.1 .7 0 .7-15.3 .7-13.2 .7 0 .6 0 .7 3.1 .7 0 .7 5.3 .7 0 .6 0 .7-10.4 .7 27.7 .7 0 .7 0 .7 .5 .6 0 .7 0 .7-7.2 .7 0 .7 18 .6-17 .7 45.1 .7-3.2 .7-20.5 .7-25.2 .6 0 .7 0 .7-29.8 .7 31.6 .7-43 .7 44.5 .6 0 .7 0 .7-31.2 .7 34.9 .7-1.1 .6 0 .7-5.4 .7 0 .7 0 .7 13.3 .6 0 .7 8.6 .7-4.6 .7 0 .7-13.8 .6-23.8 .7 0 .7 0 .7 6.9 .7 0 .7 14.9 .6 0 .7-43.1 .7 0 .7 41 .7 0 .6-22.2 .7 0 .7 15.3 .7 0 .7-12 .7-4.8 .6 29 .7 0 .7 0 .7-16.5 .7-.5 .6 20.2 .7-10 .7-13.3 .7 .5 .7-18.1 .6 26.6 .7-18.7 .7 42.2 .7-40.5 .7 0 .6 0 .7 9.4 .7 0 .7 11.6 .7-19.6 .7 0 .6 11.4 .7-3 .7 9.6 .7-11.4 .7-19.7 .6 37 .7-14.6 .7 14 .7 .7 .7-13.6 .7 0 .6 0 .7-16.6 .7 0 .7 32.1 .7-.6 .6 0 .7-21.7 .7 12.8 .7-21.5 .7 0 .6 99.7 .7 0 .7-17.9 .7-88.4 .7 2.6 .7 0 .6 8.5 .7 19.2 .7-26.7 .7 0 .7 9.7 .6 5.6 .7-8.6 .7 30.5 .7-1.8 .7-43 .6 17.4 .7 14.7 .7-6.9 .7 0 .7-24.4 .7 0 .6 13.1 .7 0 .7-1.6 .7 3 .7 27.7 .6 0 .7-22.1 .7 0 .7-12.6 .7 0 .6 43.6 .7-54.1 .7 46.2 .7-33.3 .7 0 .7-7.2 .6 31.9 .7-.9 .7 0 .7 .9 .7 1.2 .6-1.1 .7 0 .7-12.6 .7 0 .7 8.3 .6-5 .7 0 .7-17.2 .7 6.7 .7 0 .7 15.2 .6 0 .7-3.7 .7 10.9 .7-17.2 .7 13.9 .6-6.6 .7-16.5 .7 26.6 .7-7.2 .7 0 .6-9.7 .7 10.1 .7-30.9 .7 41.6 .7-32.2 .7 33.8 .6-4.9 .7-12.8 .7 3.8 .7 21.2 .7 0 .6-37 .7 0 .7-6.9 .7 0 .7 31.4 .6 0 .7-12.5 .7 7.2 .7 0 .7 0 .7-21.2 .6 0 .7 2.5 .7 0 .7 21.7 .7 0 .6-15.8 .7 7.7 .7-16 .7 34.3 .7-36.6 .6 18.9 .7 0 .7-18 .7 15.7 .7 6.1 .6 1.5 .7 0 .7 6.3 .7-37.9 .7 33.3 .7 0 .6-9.7 .7 0 .7 0 .7 14.2 .7 0 .6-18.3 .7-1.5 .7 6.8 .7-.9 .7-16.5 .7 21.8 .6-1 .7 6.2 .7 4.7 .7 0 .7-15.7 .6 18.5 .7-22.7 .7 0 .7-13.9 .7 0 .6 7 .7 0 .7 0 .7-16.9 .7 0 .6 25.1 .7 14.7 .7-10.8 .7-12.1 .7 0 .7 0 .6-6.2 .7 0 .7 19.7 .7 14.2 .7-.7 .6-14.7 .7-1.4 .7-.7 .7-.7 .7-11.7 .7 25.8 .6-21.7 .7 1.6 .7 8.1 .7-4.9 .7-.7 .6 12 .7-12 .7-4.7 .7-.7 .7-21.8 .6-.6 .7 5.8 .7 25.3 .7-12 .7-.7 .7-.7 .6-20.7 .7 31.5 .7-.7 .7-27 .7 21.7 .6-.7 .7-17.1 .7-3.6 .7 .1 .7 23.3 .6 .1 .7 .1 .7-2.4 .7 3.2 .7-25.1 .7-4.6 .6 .1 .7 41.5 .7 .1 .7-10.1 .7-15.6 .6-.2 .7 0 .7-14 .7 13.3 .7-6.4 .6 9.5 .7 3.8 .7 0 .7 .1 .7 5.5 .7-12.2 .6 .1 .7 20.9 .7-6.5 .7 1.1 .7-26.8 .6 31.6 .7-2.3 .7 .1 .7-17.4 .7 19.8 .6 .1 .7-34.3 .7 0 .7 45.3 .7 38.4 .7-.6 .6-57.9 .7-9.3 .7 85.9 .7 3.5 .7-89.4 .6 .9 .7 .8 .7 10.7 .7 5.2 .7 .8 .6 .8 .7-10.5 .7 39.7 .7-35.3 .7 7.7 .7-15.6 .6 10.4 .7 17.6 .7 0 .7 0 .7 15 .6 0 .7-36.2 .7 .1 .7 16.5 .7 .3 .6 6 .7-12.7 .7-11.7 .7 17.1 .7 0 .7 0 .6 0 .7 0 .7 0 .7-20.5 .7 12.4 .6 17.5 .7-33 .7 25.1 .7-17.6 .7 9.3 .6 25 .7-21.7 .7-30.8 .7 36.5 .7-4.1 .6 1.1 .7 0 .7-7.6 .7 0 .7 0 .7 15.8 .6 0 .7 4 .7 0 .7-40.2 .7 16.5 .6 0 .7-28.5 .7 .1 .7 0 .7 42.2 .7 1.4 .6-4.6 .7-2.2 .7 0 .7-.9 .7 0 .6 7.7 .7 .1 .7-24.9 .7 22.6 .7 0 .6-3.3 .7 0 .7 0 .7-7.5 .7 12.4 .6-27.6 .7 25.1 .7-24.8 .7 0 .7 32 .7-42 .6 0 .7 27.6 .7-26.1 .7 48 .7 0 .6 0 .7-26.2 .7-11.2 .7 0 .7 .1 .7 13 .6 6.7 .7 0 .7 14.3 .7-35.6 .7 0 .6 10.1 .7 0 .7 15.3 .7 0 .7 16 .6-28.7 .7-4.4 .7 22.4 .7-19.4 .7 0 .7 29.1 .6-28.2 .7-2.7 .7 .1 .7-9.4 .7 41.8 .6-28.1 .7 0 .7 11.5 .7-8.3 .7 10.4 .6 1.8 .7-20.9 .7-23.4 .7 0 .7 27.8 .7-2.6 .6 17.3 .7-26.8 .7 22.7 .7-26.8 .7 26 .6 0 .7-16.8 .7 36.7 .7 0 .7-4.3 .6 0 .7-9.6 .7 0 .7 0 .7-29.8 .7 15.7 .6 3.4 .7 0 .7 7.7 .7 0 .7 0 .6-8.9 .7 15 .7 0 .7 0 .7-11.7 .6-11.9 .7 25.8 .7 .1 .7-16.2 .7 30 .7 .1 .6-30.1 .7 0 .7-12.3 .7 39.6 .7-21.5 .6 7.4 .7-32.4 .7 0" fill="none" stroke="#ffff33" stroke-width="3.5" stroke-linejoin="round"/></g><rect x="131.9" y="36.2" width="1498.5" height="908.6" fill="none" stroke="#cccccc" stroke-width="2.2"/><g font-family="Liberation Sans, Arial, sans-serif" font-size="22.7" fill="#262626"><text transform="translate(199.9 968.8) scale(1 1.1)" text-anchor="middle">0</text><text transform="translate(370.2 968.8) scale(1 1.1)" text-anchor="middle">250</text><text transform="translate(540.5 968.8) scale(1 1.1)" text-anchor="middle">500</text><text transform="translate(710.8 968.8) scale(1 1.1)" text-anchor="middle">750</text><text transform="translate(881.1 968.8) scale(1 1.1)" text-anchor="middle">1000</text><text transform="translate(1051.5 968.8) scale(1 1.1)" text-anchor="middle">1250</text><text transform="translate(1221.8 968.8) scale(1 1.1)" text-anchor="middle">1500</text><text transform="translate(1392.1 968.8) scale(1 1.1)" text-anchor="middle">1750</text><text transform="translate(1562.4 968.8) scale(1 1.1)" text-anchor="middle">2000</text><text transform="translate(122.2 144.8) scale(1 1.1)" text-anchor="end">−14</text><text transform="translate(122.2 278.8) scale(1 1.1)" text-anchor="end">−16</text><text transform="translate(122.2 412.8) scale(1 1.1)" text-anchor="end">−18</text><text transform="translate(122.2 546.9) scale(1 1.1)" text-anchor="end">−20</text><text transform="translate(122.2 680.9) scale(1 1.1)" text-anchor="end">−22</text><text transform="translate(122.2 814.9) scale(1 1.1)" text-anchor="end">−24</text><text transform="translate(122.2 948.9) scale(1 1.1)" text-anchor="end">−26</text></g><text transform="translate(879.3 1021.6) scale(1.05 1)" x="0" y="0" text-anchor="middle" font-family="Liberation Sans, Arial, sans-serif" font-size="55" fill="#262626">iteration</text><text transform="translate(64.7 496) rotate(-90) scale(0.88 1)" x="0" y="0" text-anchor="middle" font-family="Liberation Sans, Arial, sans-serif" font-size="60" fill="#262626">reward</text><path d="M970.1 712.4H1043" stroke="#46709c" stroke-width="3"/><text x="1068.7" y="723.8" font-family="Liberation Serif, Times New Roman, serif" font-size="32" textLength="528" fill="#262626">Reconstruct features in 10 dimensions</text><path d="M970.1 758.7H1043" stroke="#4e9a4c" stroke-width="3"/><text x="1068.7" y="770.1" font-family="Liberation Serif, Times New Roman, serif" font-size="32" textLength="528" fill="#262626">Reconstruct features in 20 dimensions</text><path d="M970.1 805.0H1043" stroke="#8e4a9c" stroke-width="3"/><text x="1068.7" y="816.4" font-family="Liberation Serif, Times New Roman, serif" font-size="32" textLength="528" fill="#262626">Reconstruct features in 30 dimensions</text><path d="M970.1 851.3H1043" stroke="#fb7b10" stroke-width="3"/><text x="1068.7" y="862.7" font-family="Liberation Serif, Times New Roman, serif" font-size="32" textLength="528" fill="#262626">Reconstruct features in 40 dimensions</text><path d="M970.1 897.6H1043" stroke="#f4f27a" stroke-width="3"/><text x="1068.7" y="909.0" font-family="Liberation Serif, Times New Roman, serif" font-size="32" textLength="528" fill="#262626">Reconstruct features in 50 dimensions</text></svg></body></html>
